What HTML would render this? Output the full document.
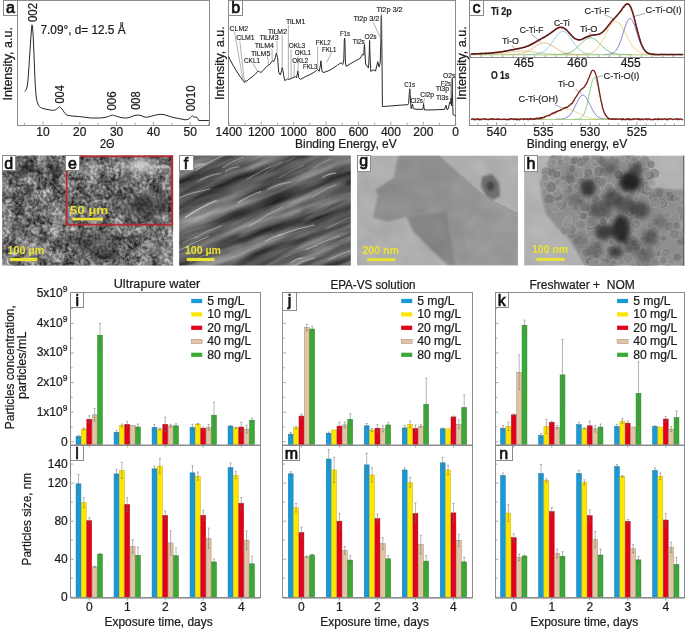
<!DOCTYPE html>
<html><head><meta charset="utf-8"><title>Figure</title>
<style>
html,body{margin:0;padding:0;background:#fff;}
svg{display:block;}
text{font-family:"Liberation Sans", Arial, sans-serif;paint-order:stroke;}
</style></head><body>
<svg width="685" height="630" viewBox="0 0 685 630">
<rect width="685" height="630" fill="#fff"/>
<defs>
<filter id="nz1" x="0" y="0" width="100%" height="100%" color-interpolation-filters="sRGB">
 <feTurbulence type="fractalNoise" baseFrequency="0.32" numOctaves="3" seed="3" result="t"/>
 <feColorMatrix in="t" type="matrix" values="1 0 0 0 0  1 0 0 0 0  1 0 0 0 0  0 0 0 0 1"/>
 <feComponentTransfer><feFuncR type="linear" slope="1.8" intercept="-0.45"/><feFuncG type="linear" slope="1.8" intercept="-0.45"/><feFuncB type="linear" slope="1.8" intercept="-0.45"/></feComponentTransfer>
</filter>
<filter id="nz2" x="0" y="0" width="100%" height="100%" color-interpolation-filters="sRGB">
 <feTurbulence type="fractalNoise" baseFrequency="0.012 0.09" numOctaves="3" seed="11" result="t"/>
 <feColorMatrix in="t" type="matrix" values="1 0 0 0 0  1 0 0 0 0  1 0 0 0 0  0 0 0 0 1"/>
 <feComponentTransfer><feFuncR type="linear" slope="1.2" intercept="-0.24"/><feFuncG type="linear" slope="1.2" intercept="-0.24"/><feFuncB type="linear" slope="1.2" intercept="-0.24"/></feComponentTransfer>
</filter>
<filter id="nz3" x="0" y="0" width="100%" height="100%" color-interpolation-filters="sRGB">
 <feTurbulence type="fractalNoise" baseFrequency="0.05" numOctaves="2" seed="5" result="t"/>
 <feColorMatrix in="t" type="matrix" values="1 0 0 0 0  1 0 0 0 0  1 0 0 0 0  0 0 0 0 1"/>
 <feComponentTransfer><feFuncR type="linear" slope="0.5" intercept="0.45"/><feFuncG type="linear" slope="0.5" intercept="0.45"/><feFuncB type="linear" slope="0.5" intercept="0.45"/></feComponentTransfer>
</filter>
<filter id="nz4" x="0" y="0" width="100%" height="100%" color-interpolation-filters="sRGB">
 <feTurbulence type="turbulence" baseFrequency="0.16" numOctaves="2" seed="8" result="t"/>
 <feColorMatrix in="t" type="matrix" values="-1.6 0 0 0 1.05  -1.6 0 0 0 1.05  -1.6 0 0 0 1.05  0 0 0 0 1"/>
</filter>
<filter id="nz5" x="0" y="0" width="100%" height="100%" color-interpolation-filters="sRGB">
 <feTurbulence type="fractalNoise" baseFrequency="0.08" numOctaves="3" seed="17" result="t"/>
 <feColorMatrix in="t" type="matrix" values="1 0 0 0 0  1 0 0 0 0  1 0 0 0 0  0 0 0 0 1"/>
 <feComponentTransfer><feFuncR type="linear" slope="2.4" intercept="-0.78"/><feFuncG type="linear" slope="2.4" intercept="-0.78"/><feFuncB type="linear" slope="2.4" intercept="-0.78"/></feComponentTransfer>
</filter>
<filter id="bl1"><feGaussianBlur stdDeviation="1.2"/></filter>
<filter id="bl2"><feGaussianBlur stdDeviation="2.5"/></filter>
<filter id="bl3"><feGaussianBlur stdDeviation="4"/></filter>
<filter id="bl05"><feGaussianBlur stdDeviation="0.6"/></filter>
<clipPath id="cpd"><rect x="2.2" y="155.5" width="170.9" height="110.1"/></clipPath>
<clipPath id="cpf"><rect x="179.2" y="155.5" width="171.6" height="110.1"/></clipPath>
<clipPath id="cpg"><rect x="357.0" y="155.5" width="161.0" height="110.1"/></clipPath>
<clipPath id="cph"><rect x="524.1" y="155.5" width="160.0" height="110.1"/></clipPath>
</defs>
<rect x="17.50" y="0.50" width="192.00" height="125.00" fill="none" stroke="#8c8c8c" stroke-width="1"/>
<line x1="24.60" y1="124.70" x2="24.60" y2="122.70" stroke="#8c8c8c" stroke-width="0.8"/>
<line x1="43.00" y1="124.70" x2="43.00" y2="121.70" stroke="#8c8c8c" stroke-width="0.8"/>
<line x1="61.40" y1="124.70" x2="61.40" y2="122.70" stroke="#8c8c8c" stroke-width="0.8"/>
<line x1="79.80" y1="124.70" x2="79.80" y2="121.70" stroke="#8c8c8c" stroke-width="0.8"/>
<line x1="98.20" y1="124.70" x2="98.20" y2="122.70" stroke="#8c8c8c" stroke-width="0.8"/>
<line x1="116.60" y1="124.70" x2="116.60" y2="121.70" stroke="#8c8c8c" stroke-width="0.8"/>
<line x1="135.00" y1="124.70" x2="135.00" y2="122.70" stroke="#8c8c8c" stroke-width="0.8"/>
<line x1="153.40" y1="124.70" x2="153.40" y2="121.70" stroke="#8c8c8c" stroke-width="0.8"/>
<line x1="171.80" y1="124.70" x2="171.80" y2="122.70" stroke="#8c8c8c" stroke-width="0.8"/>
<line x1="190.20" y1="124.70" x2="190.20" y2="121.70" stroke="#8c8c8c" stroke-width="0.8"/>
<line x1="208.60" y1="124.70" x2="208.60" y2="122.70" stroke="#8c8c8c" stroke-width="0.8"/>
<text x="43.00" y="136.00" font-size="12" fill="#1a1a1a" text-anchor="middle" stroke="#1a1a1a" stroke-width="0.22">10</text>
<text x="79.80" y="136.00" font-size="12" fill="#1a1a1a" text-anchor="middle" stroke="#1a1a1a" stroke-width="0.22">20</text>
<text x="116.60" y="136.00" font-size="12" fill="#1a1a1a" text-anchor="middle" stroke="#1a1a1a" stroke-width="0.22">30</text>
<text x="153.40" y="136.00" font-size="12" fill="#1a1a1a" text-anchor="middle" stroke="#1a1a1a" stroke-width="0.22">40</text>
<text x="190.20" y="136.00" font-size="12" fill="#1a1a1a" text-anchor="middle" stroke="#1a1a1a" stroke-width="0.22">50</text>
<text x="107.20" y="148.30" font-size="12" fill="#1a1a1a" textLength="14.5" lengthAdjust="spacingAndGlyphs" text-anchor="middle" stroke="#1a1a1a" stroke-width="0.22">2Θ</text>
<text x="11.60" y="63.80" font-size="12" fill="#1a1a1a" textLength="73.4" lengthAdjust="spacingAndGlyphs" text-anchor="middle" transform="rotate(-90 11.60 63.80)" stroke="#1a1a1a" stroke-width="0.22">Intensity, a.u.</text>
<polyline points="24.50,91.40 25.50,90.60 26.50,89.00 27.40,85.00 28.00,80.00 29.00,66.00 30.00,50.00 31.00,36.00 31.60,28.00 32.00,24.80 32.50,27.00 33.20,36.00 34.00,55.00 34.60,70.00 35.20,84.00 36.00,95.00 37.00,101.50 38.50,105.50 40.50,107.50 44.00,108.80 48.00,109.60 52.50,110.40 55.50,109.80 57.50,108.40 59.50,106.80 61.00,107.80 63.00,110.50 65.00,113.50 67.00,115.20 72.00,116.00 79.70,116.60 86.00,117.40 91.00,118.00 100.00,118.00 105.00,117.40 108.50,116.50 111.00,115.40 112.50,115.00 114.50,115.60 117.00,116.40 121.00,117.60 125.80,118.10 129.00,117.60 132.00,116.40 135.00,115.40 138.00,115.00 141.00,115.60 144.00,116.90 146.50,117.30 150.00,116.60 155.00,115.20 160.00,114.30 164.00,114.60 168.00,115.90 173.00,117.40 180.00,118.80 185.30,119.80 188.50,119.20 190.30,117.60 191.50,116.40 192.40,115.90 193.50,116.80 195.00,117.10 197.00,117.40 197.80,118.40 198.50,120.40 202.00,120.60 209.00,120.40" fill="none" stroke="#2a2a2a" stroke-width="1.0" stroke-linejoin="round"/>
<rect x="3.50" y="0.50" width="14.00" height="15.00" fill="#fff" stroke="#8a8a8a" stroke-width="1"/>
<text x="10.40" y="12.60" font-size="16" fill="#111" text-anchor="middle" stroke="#111" stroke-width="0.7">a</text>
<text x="36.60" y="12.50" font-size="12" fill="#1a1a1a" textLength="19.0" lengthAdjust="spacingAndGlyphs" text-anchor="middle" transform="rotate(-90 36.60 12.50)" stroke="#1a1a1a" stroke-width="0.22">002</text>
<text x="63.70" y="94.30" font-size="12" fill="#1a1a1a" textLength="18.6" lengthAdjust="spacingAndGlyphs" text-anchor="middle" transform="rotate(-90 63.70 94.30)" stroke="#1a1a1a" stroke-width="0.22">004</text>
<text x="116.20" y="101.00" font-size="12" fill="#1a1a1a" textLength="19.2" lengthAdjust="spacingAndGlyphs" text-anchor="middle" transform="rotate(-90 116.20 101.00)" stroke="#1a1a1a" stroke-width="0.22">006</text>
<text x="140.50" y="100.60" font-size="12" fill="#1a1a1a" textLength="18.4" lengthAdjust="spacingAndGlyphs" text-anchor="middle" transform="rotate(-90 140.50 100.60)" stroke="#1a1a1a" stroke-width="0.22">008</text>
<text x="195.20" y="98.25" font-size="12" fill="#1a1a1a" textLength="25.9" lengthAdjust="spacingAndGlyphs" text-anchor="middle" transform="rotate(-90 195.20 98.25)" stroke="#1a1a1a" stroke-width="0.22">0010</text>
<text x="40.50" y="34.30" font-size="12" fill="#1a1a1a" textLength="85.0" lengthAdjust="spacingAndGlyphs" stroke="#1a1a1a" stroke-width="0.22">7.09°, d= 12.5 Å</text>
<rect x="228.50" y="0.50" width="227.00" height="125.00" fill="none" stroke="#8c8c8c" stroke-width="1"/>
<line x1="455.70" y1="124.70" x2="455.70" y2="121.70" stroke="#8c8c8c" stroke-width="0.8"/>
<line x1="439.50" y1="124.70" x2="439.50" y2="122.70" stroke="#8c8c8c" stroke-width="0.8"/>
<line x1="423.30" y1="124.70" x2="423.30" y2="121.70" stroke="#8c8c8c" stroke-width="0.8"/>
<line x1="407.10" y1="124.70" x2="407.10" y2="122.70" stroke="#8c8c8c" stroke-width="0.8"/>
<line x1="390.90" y1="124.70" x2="390.90" y2="121.70" stroke="#8c8c8c" stroke-width="0.8"/>
<line x1="374.70" y1="124.70" x2="374.70" y2="122.70" stroke="#8c8c8c" stroke-width="0.8"/>
<line x1="358.50" y1="124.70" x2="358.50" y2="121.70" stroke="#8c8c8c" stroke-width="0.8"/>
<line x1="342.30" y1="124.70" x2="342.30" y2="122.70" stroke="#8c8c8c" stroke-width="0.8"/>
<line x1="326.10" y1="124.70" x2="326.10" y2="121.70" stroke="#8c8c8c" stroke-width="0.8"/>
<line x1="309.90" y1="124.70" x2="309.90" y2="122.70" stroke="#8c8c8c" stroke-width="0.8"/>
<line x1="293.70" y1="124.70" x2="293.70" y2="121.70" stroke="#8c8c8c" stroke-width="0.8"/>
<line x1="277.50" y1="124.70" x2="277.50" y2="122.70" stroke="#8c8c8c" stroke-width="0.8"/>
<line x1="261.30" y1="124.70" x2="261.30" y2="121.70" stroke="#8c8c8c" stroke-width="0.8"/>
<line x1="245.10" y1="124.70" x2="245.10" y2="122.70" stroke="#8c8c8c" stroke-width="0.8"/>
<line x1="228.90" y1="124.70" x2="228.90" y2="121.70" stroke="#8c8c8c" stroke-width="0.8"/>
<text x="455.70" y="135.80" font-size="12" fill="#1a1a1a" text-anchor="middle" stroke="#1a1a1a" stroke-width="0.22">0</text>
<text x="423.30" y="135.80" font-size="12" fill="#1a1a1a" text-anchor="middle" stroke="#1a1a1a" stroke-width="0.22">200</text>
<text x="390.90" y="135.80" font-size="12" fill="#1a1a1a" text-anchor="middle" stroke="#1a1a1a" stroke-width="0.22">400</text>
<text x="358.50" y="135.80" font-size="12" fill="#1a1a1a" text-anchor="middle" stroke="#1a1a1a" stroke-width="0.22">600</text>
<text x="326.10" y="135.80" font-size="12" fill="#1a1a1a" text-anchor="middle" stroke="#1a1a1a" stroke-width="0.22">800</text>
<text x="293.70" y="135.80" font-size="12" fill="#1a1a1a" text-anchor="middle" stroke="#1a1a1a" stroke-width="0.22">1000</text>
<text x="261.30" y="135.80" font-size="12" fill="#1a1a1a" text-anchor="middle" stroke="#1a1a1a" stroke-width="0.22">1200</text>
<text x="228.90" y="135.80" font-size="12" fill="#1a1a1a" text-anchor="middle" stroke="#1a1a1a" stroke-width="0.22">1400</text>
<text x="295.00" y="147.60" font-size="12" fill="#1a1a1a" textLength="101.7" lengthAdjust="spacingAndGlyphs" stroke="#1a1a1a" stroke-width="0.22">Binding Energy, eV</text>
<text x="223.60" y="63.10" font-size="12" fill="#1a1a1a" textLength="73.6" lengthAdjust="spacingAndGlyphs" text-anchor="middle" transform="rotate(-90 223.60 63.10)" stroke="#1a1a1a" stroke-width="0.22">Intensity, a.u.</text>
<polyline points="228.60,56.50 230.00,59.60 233.00,65.20 237.00,71.90 240.50,77.20 243.30,80.80 244.60,82.60 245.60,80.60 246.60,81.20 249.00,79.20 252.00,77.00 255.50,74.00 258.20,71.00 259.50,71.60 260.80,72.60 263.00,70.60 266.40,66.70 270.30,63.90 272.20,61.20 272.60,60.40 273.70,61.70 275.30,57.80 276.40,53.00 277.60,57.80 278.70,72.20 280.30,75.00 281.60,70.50 282.20,67.60 283.00,71.00 283.70,75.60 284.80,80.60 286.50,79.60 287.60,78.90 289.20,79.40 291.00,78.60 294.20,77.20 295.30,76.70 296.40,77.80 297.30,74.00 297.80,71.00 298.40,75.00 298.70,77.80 300.30,79.40 303.00,78.00 306.40,76.10 310.00,74.60 313.10,72.80 316.40,70.60 317.60,69.40 319.20,71.30 320.30,66.00 320.90,60.80 321.50,66.00 322.00,71.50 324.00,72.50 330.00,70.00 335.00,67.00 337.50,65.10 341.00,62.80 342.80,64.50 343.80,60.00 344.30,40.00 344.60,38.00 344.90,40.00 345.40,62.00 346.30,66.30 350.00,64.00 355.00,61.00 359.70,58.70 361.60,56.00 362.60,54.00 363.80,55.20 364.20,47.00 364.50,44.40 364.90,52.00 365.60,64.00 367.00,66.00 368.50,68.00 369.20,55.00 369.60,40.50 370.00,55.00 370.80,71.30 372.00,70.60 373.70,69.80 375.50,71.00 376.50,67.00 377.80,61.60 379.00,66.90 380.20,62.80 380.90,40.00 381.20,16.00 381.50,15.40 381.80,40.00 382.20,80.00 382.40,106.60 390.00,106.00 400.00,105.20 407.90,104.70 408.60,103.50 409.50,90.00 409.80,88.90 410.20,95.00 411.10,108.60 412.00,106.00 412.50,104.00 413.20,108.50 416.00,109.30 423.00,109.30 423.30,106.00 423.60,103.40 424.00,108.00 424.70,110.00 435.00,109.80 444.60,109.30 445.40,107.00 446.00,105.30 446.60,108.00 447.30,110.00 448.50,108.00 449.50,103.00 449.90,102.00 450.50,103.50 451.00,98.00 451.50,106.00 452.00,90.00 452.30,78.40 452.60,100.00 453.00,114.50 455.70,115.80" fill="none" stroke="#2a2a2a" stroke-width="1.0" stroke-linejoin="round"/>
<rect x="228.50" y="0.50" width="14.00" height="15.00" fill="#fff" stroke="#8a8a8a" stroke-width="1"/>
<text x="235.65" y="12.60" font-size="16" fill="#111" text-anchor="middle" stroke="#111" stroke-width="0.7">b</text>
<text x="229.60" y="30.50" font-size="7.8" fill="#1a1a1a" textLength="18.4" lengthAdjust="spacingAndGlyphs" stroke="#1a1a1a" stroke-width="0.15">CLM2</text>
<text x="236.30" y="39.80" font-size="7.8" fill="#1a1a1a" textLength="18.4" lengthAdjust="spacingAndGlyphs" stroke="#1a1a1a" stroke-width="0.15">CLM1</text>
<text x="286.00" y="24.00" font-size="7.8" fill="#1a1a1a" textLength="19.3" lengthAdjust="spacingAndGlyphs" stroke="#1a1a1a" stroke-width="0.15">TiLM1</text>
<text x="268.00" y="33.90" font-size="7.8" fill="#1a1a1a" textLength="19.0" lengthAdjust="spacingAndGlyphs" stroke="#1a1a1a" stroke-width="0.15">TiLM2</text>
<text x="259.40" y="40.10" font-size="7.8" fill="#1a1a1a" textLength="19.2" lengthAdjust="spacingAndGlyphs" stroke="#1a1a1a" stroke-width="0.15">TiLM3</text>
<text x="254.70" y="48.30" font-size="7.8" fill="#1a1a1a" textLength="19.3" lengthAdjust="spacingAndGlyphs" stroke="#1a1a1a" stroke-width="0.15">TiLM4</text>
<text x="251.00" y="55.50" font-size="7.8" fill="#1a1a1a" textLength="19.4" lengthAdjust="spacingAndGlyphs" stroke="#1a1a1a" stroke-width="0.15">TiLM5</text>
<text x="244.00" y="63.00" font-size="7.8" fill="#1a1a1a" textLength="16.0" lengthAdjust="spacingAndGlyphs" stroke="#1a1a1a" stroke-width="0.15">CKL1</text>
<text x="288.70" y="48.30" font-size="7.8" fill="#1a1a1a" textLength="16.5" lengthAdjust="spacingAndGlyphs" stroke="#1a1a1a" stroke-width="0.15">OKL3</text>
<text x="294.80" y="55.10" font-size="7.8" fill="#1a1a1a" textLength="16.4" lengthAdjust="spacingAndGlyphs" stroke="#1a1a1a" stroke-width="0.15">OKL1</text>
<text x="292.20" y="62.80" font-size="7.8" fill="#1a1a1a" textLength="16.0" lengthAdjust="spacingAndGlyphs" stroke="#1a1a1a" stroke-width="0.15">OKL2</text>
<text x="303.00" y="69.00" font-size="7.8" fill="#1a1a1a" textLength="14.2" lengthAdjust="spacingAndGlyphs" stroke="#1a1a1a" stroke-width="0.15">FKL3</text>
<text x="315.80" y="45.00" font-size="7.8" fill="#1a1a1a" textLength="14.9" lengthAdjust="spacingAndGlyphs" stroke="#1a1a1a" stroke-width="0.15">FKL2</text>
<text x="322.00" y="52.00" font-size="7.8" fill="#1a1a1a" textLength="14.5" lengthAdjust="spacingAndGlyphs" stroke="#1a1a1a" stroke-width="0.15">FKL1</text>
<text x="340.00" y="36.40" font-size="7.8" fill="#1a1a1a" textLength="10.0" lengthAdjust="spacingAndGlyphs" stroke="#1a1a1a" stroke-width="0.15">F1s</text>
<text x="352.80" y="43.50" font-size="7.8" fill="#1a1a1a" textLength="12.0" lengthAdjust="spacingAndGlyphs" stroke="#1a1a1a" stroke-width="0.15">Ti2s</text>
<text x="364.50" y="38.50" font-size="7.8" fill="#1a1a1a" textLength="12.2" lengthAdjust="spacingAndGlyphs" stroke="#1a1a1a" stroke-width="0.15">O2s</text>
<text x="404.20" y="87.00" font-size="7.8" fill="#1a1a1a" textLength="10.8" lengthAdjust="spacingAndGlyphs" stroke="#1a1a1a" stroke-width="0.15">C1s</text>
<text x="410.50" y="102.70" font-size="7.8" fill="#1a1a1a" textLength="12.5" lengthAdjust="spacingAndGlyphs" stroke="#1a1a1a" stroke-width="0.15">Cl2s</text>
<text x="420.30" y="96.60" font-size="7.8" fill="#1a1a1a" textLength="13.8" lengthAdjust="spacingAndGlyphs" stroke="#1a1a1a" stroke-width="0.15">Cl2p</text>
<text x="435.70" y="91.00" font-size="7.8" fill="#1a1a1a" textLength="13.5" lengthAdjust="spacingAndGlyphs" stroke="#1a1a1a" stroke-width="0.15">Ti3p</text>
<text x="436.10" y="100.00" font-size="7.8" fill="#1a1a1a" textLength="12.5" lengthAdjust="spacingAndGlyphs" stroke="#1a1a1a" stroke-width="0.15">Ti3s</text>
<text x="440.70" y="85.60" font-size="7.8" fill="#1a1a1a" textLength="10.5" lengthAdjust="spacingAndGlyphs" stroke="#1a1a1a" stroke-width="0.15">F2s</text>
<text x="443.00" y="78.40" font-size="7.8" fill="#1a1a1a" textLength="12.4" lengthAdjust="spacingAndGlyphs" stroke="#1a1a1a" stroke-width="0.15">O2s</text>
<text x="376.50" y="12.20" font-size="7.8" fill="#1a1a1a" textLength="26.2" lengthAdjust="spacingAndGlyphs" stroke="#1a1a1a" stroke-width="0.15">Ti2p 3/2</text>
<text x="353.40" y="21.00" font-size="7.8" fill="#1a1a1a" textLength="25.9" lengthAdjust="spacingAndGlyphs" stroke="#1a1a1a" stroke-width="0.15">Ti2p 3/2</text>
<line x1="234.50" y1="31.50" x2="243.20" y2="81.50" stroke="#7a7a7a" stroke-width="0.6"/>
<line x1="239.80" y1="40.80" x2="244.40" y2="81.50" stroke="#7a7a7a" stroke-width="0.6"/>
<line x1="252.90" y1="63.80" x2="257.60" y2="71.20" stroke="#7a7a7a" stroke-width="0.6"/>
<line x1="288.40" y1="25.00" x2="288.40" y2="79.00" stroke="#7a7a7a" stroke-width="0.6"/>
<line x1="282.20" y1="34.80" x2="282.20" y2="67.80" stroke="#7a7a7a" stroke-width="0.6"/>
<line x1="277.00" y1="41.00" x2="277.00" y2="53.30" stroke="#7a7a7a" stroke-width="0.6"/>
<line x1="272.00" y1="49.20" x2="272.20" y2="60.60" stroke="#7a7a7a" stroke-width="0.6"/>
<line x1="267.40" y1="56.00" x2="268.60" y2="64.80" stroke="#7a7a7a" stroke-width="0.6"/>
<line x1="291.10" y1="49.20" x2="291.10" y2="78.40" stroke="#7a7a7a" stroke-width="0.6"/>
<line x1="294.20" y1="63.50" x2="294.20" y2="77.00" stroke="#7a7a7a" stroke-width="0.6"/>
<line x1="298.10" y1="55.80" x2="298.10" y2="71.00" stroke="#7a7a7a" stroke-width="0.6"/>
<line x1="317.60" y1="46.50" x2="317.60" y2="69.40" stroke="#7a7a7a" stroke-width="0.6"/>
<line x1="331.30" y1="52.60" x2="327.00" y2="62.00" stroke="#7a7a7a" stroke-width="0.6"/>
<line x1="381.40" y1="13.50" x2="381.40" y2="40.00" stroke="#7a7a7a" stroke-width="0.6"/>
<line x1="373.20" y1="22.50" x2="380.50" y2="38.00" stroke="#7a7a7a" stroke-width="0.6"/>
<line x1="410.00" y1="87.80" x2="410.00" y2="95.00" stroke="#7a7a7a" stroke-width="0.6"/>
<line x1="424.50" y1="98.00" x2="423.60" y2="103.40" stroke="#7a7a7a" stroke-width="0.6"/>
<line x1="452.00" y1="79.00" x2="452.00" y2="95.00" stroke="#7a7a7a" stroke-width="0.6"/>
<line x1="450.80" y1="86.00" x2="450.80" y2="98.00" stroke="#7a7a7a" stroke-width="0.6"/>
<rect x="469.50" y="0.50" width="215.00" height="125.00" fill="none" stroke="#8c8c8c" stroke-width="1"/>
<line x1="469.90" y1="57.50" x2="684.60" y2="57.50" stroke="#8c8c8c" stroke-width="1"/>
<line x1="673.42" y1="57.00" x2="673.42" y2="55.20" stroke="#8c8c8c" stroke-width="0.8"/>
<line x1="662.74" y1="57.00" x2="662.74" y2="55.20" stroke="#8c8c8c" stroke-width="0.8"/>
<line x1="652.06" y1="57.00" x2="652.06" y2="55.20" stroke="#8c8c8c" stroke-width="0.8"/>
<line x1="641.38" y1="57.00" x2="641.38" y2="55.20" stroke="#8c8c8c" stroke-width="0.8"/>
<line x1="630.70" y1="57.00" x2="630.70" y2="54.00" stroke="#8c8c8c" stroke-width="0.8"/>
<line x1="620.02" y1="57.00" x2="620.02" y2="55.20" stroke="#8c8c8c" stroke-width="0.8"/>
<line x1="609.34" y1="57.00" x2="609.34" y2="55.20" stroke="#8c8c8c" stroke-width="0.8"/>
<line x1="598.66" y1="57.00" x2="598.66" y2="55.20" stroke="#8c8c8c" stroke-width="0.8"/>
<line x1="587.98" y1="57.00" x2="587.98" y2="55.20" stroke="#8c8c8c" stroke-width="0.8"/>
<line x1="577.30" y1="57.00" x2="577.30" y2="54.00" stroke="#8c8c8c" stroke-width="0.8"/>
<line x1="566.62" y1="57.00" x2="566.62" y2="55.20" stroke="#8c8c8c" stroke-width="0.8"/>
<line x1="555.94" y1="57.00" x2="555.94" y2="55.20" stroke="#8c8c8c" stroke-width="0.8"/>
<line x1="545.26" y1="57.00" x2="545.26" y2="55.20" stroke="#8c8c8c" stroke-width="0.8"/>
<line x1="534.58" y1="57.00" x2="534.58" y2="55.20" stroke="#8c8c8c" stroke-width="0.8"/>
<line x1="523.90" y1="57.00" x2="523.90" y2="54.00" stroke="#8c8c8c" stroke-width="0.8"/>
<line x1="513.22" y1="57.00" x2="513.22" y2="55.20" stroke="#8c8c8c" stroke-width="0.8"/>
<line x1="502.54" y1="57.00" x2="502.54" y2="55.20" stroke="#8c8c8c" stroke-width="0.8"/>
<line x1="491.86" y1="57.00" x2="491.86" y2="55.20" stroke="#8c8c8c" stroke-width="0.8"/>
<line x1="481.18" y1="57.00" x2="481.18" y2="55.20" stroke="#8c8c8c" stroke-width="0.8"/>
<line x1="470.50" y1="57.00" x2="470.50" y2="54.00" stroke="#8c8c8c" stroke-width="0.8"/>
<text x="523.90" y="67.40" font-size="12" fill="#1a1a1a" text-anchor="middle" stroke="#1a1a1a" stroke-width="0.22">465</text>
<text x="577.30" y="67.40" font-size="12" fill="#1a1a1a" text-anchor="middle" stroke="#1a1a1a" stroke-width="0.22">460</text>
<text x="630.70" y="67.40" font-size="12" fill="#1a1a1a" text-anchor="middle" stroke="#1a1a1a" stroke-width="0.22">455</text>
<line x1="674.25" y1="125.00" x2="674.25" y2="123.20" stroke="#8c8c8c" stroke-width="0.8"/>
<line x1="664.90" y1="125.00" x2="664.90" y2="123.20" stroke="#8c8c8c" stroke-width="0.8"/>
<line x1="655.55" y1="125.00" x2="655.55" y2="123.20" stroke="#8c8c8c" stroke-width="0.8"/>
<line x1="646.20" y1="125.00" x2="646.20" y2="123.20" stroke="#8c8c8c" stroke-width="0.8"/>
<line x1="636.85" y1="125.00" x2="636.85" y2="122.00" stroke="#8c8c8c" stroke-width="0.8"/>
<line x1="627.50" y1="125.00" x2="627.50" y2="123.20" stroke="#8c8c8c" stroke-width="0.8"/>
<line x1="618.15" y1="125.00" x2="618.15" y2="123.20" stroke="#8c8c8c" stroke-width="0.8"/>
<line x1="608.80" y1="125.00" x2="608.80" y2="123.20" stroke="#8c8c8c" stroke-width="0.8"/>
<line x1="599.45" y1="125.00" x2="599.45" y2="123.20" stroke="#8c8c8c" stroke-width="0.8"/>
<line x1="590.10" y1="125.00" x2="590.10" y2="122.00" stroke="#8c8c8c" stroke-width="0.8"/>
<line x1="580.75" y1="125.00" x2="580.75" y2="123.20" stroke="#8c8c8c" stroke-width="0.8"/>
<line x1="571.40" y1="125.00" x2="571.40" y2="123.20" stroke="#8c8c8c" stroke-width="0.8"/>
<line x1="562.05" y1="125.00" x2="562.05" y2="123.20" stroke="#8c8c8c" stroke-width="0.8"/>
<line x1="552.70" y1="125.00" x2="552.70" y2="123.20" stroke="#8c8c8c" stroke-width="0.8"/>
<line x1="543.35" y1="125.00" x2="543.35" y2="122.00" stroke="#8c8c8c" stroke-width="0.8"/>
<line x1="534.00" y1="125.00" x2="534.00" y2="123.20" stroke="#8c8c8c" stroke-width="0.8"/>
<line x1="524.65" y1="125.00" x2="524.65" y2="123.20" stroke="#8c8c8c" stroke-width="0.8"/>
<line x1="515.30" y1="125.00" x2="515.30" y2="123.20" stroke="#8c8c8c" stroke-width="0.8"/>
<line x1="505.95" y1="125.00" x2="505.95" y2="123.20" stroke="#8c8c8c" stroke-width="0.8"/>
<line x1="496.60" y1="125.00" x2="496.60" y2="122.00" stroke="#8c8c8c" stroke-width="0.8"/>
<line x1="487.25" y1="125.00" x2="487.25" y2="123.20" stroke="#8c8c8c" stroke-width="0.8"/>
<line x1="477.90" y1="125.00" x2="477.90" y2="123.20" stroke="#8c8c8c" stroke-width="0.8"/>
<text x="496.60" y="135.80" font-size="12" fill="#1a1a1a" text-anchor="middle" stroke="#1a1a1a" stroke-width="0.22">540</text>
<text x="543.35" y="135.80" font-size="12" fill="#1a1a1a" text-anchor="middle" stroke="#1a1a1a" stroke-width="0.22">535</text>
<text x="590.10" y="135.80" font-size="12" fill="#1a1a1a" text-anchor="middle" stroke="#1a1a1a" stroke-width="0.22">530</text>
<text x="636.85" y="135.80" font-size="12" fill="#1a1a1a" text-anchor="middle" stroke="#1a1a1a" stroke-width="0.22">525</text>
<text x="526.80" y="147.80" font-size="12" fill="#1a1a1a" textLength="100.4" lengthAdjust="spacingAndGlyphs" stroke="#1a1a1a" stroke-width="0.22">Binding energy, eV</text>
<text x="466.00" y="63.10" font-size="12" fill="#1a1a1a" textLength="73.6" lengthAdjust="spacingAndGlyphs" text-anchor="middle" transform="rotate(-90 466.00 63.10)" stroke="#1a1a1a" stroke-width="0.22">Intensity, a.u.</text>
<polyline points="470.90,54.50 471.40,54.49 471.90,54.49 472.40,54.49 472.90,54.49 473.40,54.49 473.90,54.49 474.40,54.49 474.90,54.49 475.40,54.49 475.90,54.48 476.40,54.48 476.90,54.48 477.40,54.48 477.90,54.48 478.40,54.47 478.90,54.47 479.40,54.47 479.90,54.46 480.40,54.46 480.90,54.45 481.40,54.45 481.90,54.44 482.40,54.44 482.90,54.43 483.40,54.42 483.90,54.41 484.40,54.40 484.90,54.40 485.40,54.39 485.90,54.37 486.40,54.36 486.90,54.35 487.40,54.33 487.90,54.32 488.40,54.30 488.90,54.29 489.40,54.27 489.90,54.25 490.40,54.23 490.90,54.20 491.40,54.18 491.90,54.15 492.40,54.13 492.90,54.10 493.40,54.07 493.90,54.03 494.40,54.00 494.90,53.96 495.40,53.92 495.90,53.88 496.40,53.84 496.90,53.80 497.40,53.75 497.90,53.70 498.40,53.65 498.90,53.60 499.40,53.55 499.90,53.49 500.40,53.44 500.90,53.38 501.40,53.31 501.90,53.25 502.40,53.19 502.90,53.12 503.40,53.05 503.90,52.98 504.40,52.91 504.90,52.84 505.40,52.77 505.90,52.69 506.40,52.62 506.90,52.54 507.40,52.47 507.90,52.39 508.40,52.32 508.90,52.24 509.40,52.17 509.90,52.09 510.40,52.02 510.90,51.94 511.40,51.87 511.90,51.80 512.40,51.73 512.90,51.67 513.40,51.60 513.90,51.54 514.40,51.48 514.90,51.42 515.40,51.37 515.90,51.32 516.40,51.27 516.90,51.22 517.40,51.18 517.90,51.15 518.40,51.11 518.90,51.08 519.40,51.06 519.90,51.04 520.40,51.02 520.90,51.01 521.40,51.00 521.90,51.00 522.40,51.00 522.90,51.01 523.40,51.02 523.90,51.03 524.40,51.05 524.90,51.07 525.40,51.10 525.90,51.13 526.40,51.17 526.90,51.21 527.40,51.25 527.90,51.30 528.40,51.35 528.90,51.40 529.40,51.46 529.90,51.52 530.40,51.58 530.90,51.64 531.40,51.71 531.90,51.77 532.40,51.84 532.90,51.92 533.40,51.99 533.90,52.06 534.40,52.14 534.90,52.21 535.40,52.29 535.90,52.36 536.40,52.44 536.90,52.51 537.40,52.59 537.90,52.66 538.40,52.74 538.90,52.81 539.40,52.88 539.90,52.95 540.40,53.02 540.90,53.09 541.40,53.16 541.90,53.23 542.40,53.29 542.90,53.35 543.40,53.41 543.90,53.47 544.40,53.53 544.90,53.58 545.40,53.63 545.90,53.68 546.40,53.73 546.90,53.78 547.40,53.83 547.90,53.87 548.40,53.91 548.90,53.95 549.40,53.98 549.90,54.02 550.40,54.05 550.90,54.08 551.40,54.11 551.90,54.14 552.40,54.17 552.90,54.19 553.40,54.22 553.90,54.24 554.40,54.26 554.90,54.28 555.40,54.30 555.90,54.31 556.40,54.33 556.90,54.34 557.40,54.36 557.90,54.37 558.40,54.38 558.90,54.39 559.40,54.40 559.90,54.41 560.40,54.42 560.90,54.43 561.40,54.43 561.90,54.44 562.40,54.45 562.90,54.45 563.40,54.46 563.90,54.46 564.40,54.46 564.90,54.47 565.40,54.47 565.90,54.47 566.40,54.48 566.90,54.48 567.40,54.48 567.90,54.48 568.40,54.49 568.90,54.49 569.40,54.49 569.90,54.49 570.40,54.49 570.90,54.49 571.40,54.49 571.90,54.49 572.40,54.49 572.90,54.50 573.40,54.50 573.90,54.50 574.40,54.50 574.90,54.50 575.40,54.50 575.90,54.50 576.40,54.50 576.90,54.50 577.40,54.50 577.90,54.50" fill="none" stroke="#c8c060" stroke-width="0.8" stroke-linejoin="round"/>
<polyline points="502.40,54.50 502.90,54.50 503.40,54.49 503.90,54.49 504.40,54.49 504.90,54.49 505.40,54.49 505.90,54.49 506.40,54.48 506.90,54.48 507.40,54.48 507.90,54.47 508.40,54.47 508.90,54.46 509.40,54.45 509.90,54.45 510.40,54.44 510.90,54.43 511.40,54.41 511.90,54.40 512.40,54.39 512.90,54.37 513.40,54.35 513.90,54.32 514.40,54.30 514.90,54.27 515.40,54.24 515.90,54.20 516.40,54.16 516.90,54.11 517.40,54.06 517.90,54.01 518.40,53.95 518.90,53.88 519.40,53.80 519.90,53.72 520.40,53.63 520.90,53.53 521.40,53.42 521.90,53.31 522.40,53.18 522.90,53.05 523.40,52.90 523.90,52.74 524.40,52.57 524.90,52.40 525.40,52.20 525.90,52.00 526.40,51.79 526.90,51.56 527.40,51.32 527.90,51.07 528.40,50.81 528.90,50.54 529.40,50.26 529.90,49.97 530.40,49.67 530.90,49.36 531.40,49.05 531.90,48.72 532.40,48.40 532.90,48.07 533.40,47.73 533.90,47.40 534.40,47.06 534.90,46.73 535.40,46.40 535.90,46.08 536.40,45.76 536.90,45.45 537.40,45.15 537.90,44.87 538.40,44.59 538.90,44.34 539.40,44.10 539.90,43.88 540.40,43.67 540.90,43.49 541.40,43.33 541.90,43.20 542.40,43.09 542.90,43.00 543.40,42.94 543.90,42.91 544.40,42.90 544.90,42.92 545.40,42.96 545.90,43.03 546.40,43.13 546.90,43.25 547.40,43.39 547.90,43.56 548.40,43.75 548.90,43.96 549.40,44.19 549.90,44.44 550.40,44.70 550.90,44.98 551.40,45.27 551.90,45.57 552.40,45.89 552.90,46.21 553.40,46.53 553.90,46.86 554.40,47.20 554.90,47.53 555.40,47.87 555.90,48.20 556.40,48.53 556.90,48.85 557.40,49.17 557.90,49.49 558.40,49.79 558.90,50.09 559.40,50.38 559.90,50.65 560.40,50.92 560.90,51.18 561.40,51.42 561.90,51.65 562.40,51.87 562.90,52.08 563.40,52.28 563.90,52.47 564.40,52.64 564.90,52.81 565.40,52.96 565.90,53.10 566.40,53.23 566.90,53.36 567.40,53.47 567.90,53.57 568.40,53.67 568.90,53.75 569.40,53.83 569.90,53.91 570.40,53.97 570.90,54.03 571.40,54.09 571.90,54.13 572.40,54.18 572.90,54.22 573.40,54.25 573.90,54.28 574.40,54.31 574.90,54.33 575.40,54.36 575.90,54.37 576.40,54.39 576.90,54.41 577.40,54.42 577.90,54.43 578.40,54.44 578.90,54.45 579.40,54.46 579.90,54.46 580.40,54.47 580.90,54.47 581.40,54.48 581.90,54.48 582.40,54.48 582.90,54.49 583.40,54.49 583.90,54.49 584.40,54.49 584.90,54.49 585.40,54.49 585.90,54.50" fill="none" stroke="#e0a060" stroke-width="0.8" stroke-linejoin="round"/>
<polyline points="525.40,54.49 525.90,54.49 526.40,54.49 526.90,54.48 527.40,54.48 527.90,54.48 528.40,54.47 528.90,54.47 529.40,54.46 529.90,54.45 530.40,54.44 530.90,54.43 531.40,54.41 531.90,54.40 532.40,54.38 532.90,54.35 533.40,54.33 533.90,54.30 534.40,54.26 534.90,54.22 535.40,54.17 535.90,54.12 536.40,54.05 536.90,53.98 537.40,53.90 537.90,53.81 538.40,53.71 538.90,53.59 539.40,53.46 539.90,53.32 540.40,53.16 540.90,52.98 541.40,52.78 541.90,52.56 542.40,52.32 542.90,52.05 543.40,51.77 543.90,51.45 544.40,51.11 544.90,50.75 545.40,50.35 545.90,49.93 546.40,49.48 546.90,49.00 547.40,48.49 547.90,47.95 548.40,47.39 548.90,46.79 549.40,46.17 549.90,45.53 550.40,44.86 550.90,44.18 551.40,43.48 551.90,42.76 552.40,42.03 552.90,41.29 553.40,40.55 553.90,39.81 554.40,39.07 554.90,38.34 555.40,37.63 555.90,36.93 556.40,36.26 556.90,35.61 557.40,35.00 557.90,34.42 558.40,33.89 558.90,33.40 559.40,32.96 559.90,32.57 560.40,32.24 560.90,31.97 561.40,31.75 561.90,31.61 562.40,31.52 562.90,31.50 563.40,31.55 563.90,31.66 564.40,31.83 564.90,32.07 565.40,32.36 565.90,32.72 566.40,33.13 566.90,33.59 567.40,34.10 567.90,34.65 568.40,35.24 568.90,35.87 569.40,36.52 569.90,37.21 570.40,37.91 570.90,38.63 571.40,39.37 571.90,40.10 572.40,40.85 572.90,41.59 573.40,42.32 573.90,43.05 574.40,43.76 574.90,44.46 575.40,45.13 575.90,45.79 576.40,46.42 576.90,47.03 577.40,47.62 577.90,48.17 578.40,48.70 578.90,49.19 579.40,49.66 579.90,50.10 580.40,50.51 580.90,50.90 581.40,51.25 581.90,51.58 582.40,51.88 582.90,52.16 583.40,52.42 583.90,52.65 584.40,52.86 584.90,53.05 585.40,53.22 585.90,53.38 586.40,53.52 586.90,53.64 587.40,53.75 587.90,53.85 588.40,53.94 588.90,54.01 589.40,54.08 589.90,54.14 590.40,54.19 590.90,54.24 591.40,54.28 591.90,54.31 592.40,54.34 592.90,54.36 593.40,54.39 593.90,54.40 594.40,54.42 594.90,54.43 595.40,54.44 595.90,54.45 596.40,54.46 596.90,54.47 597.40,54.47 597.90,54.48 598.40,54.48 598.90,54.49 599.40,54.49 599.90,54.49" fill="none" stroke="#7ab8dc" stroke-width="0.8" stroke-linejoin="round"/>
<polyline points="550.90,54.49 551.40,54.49 551.90,54.49 552.40,54.49 552.90,54.49 553.40,54.48 553.90,54.48 554.40,54.47 554.90,54.47 555.40,54.46 555.90,54.46 556.40,54.45 556.90,54.44 557.40,54.43 557.90,54.41 558.40,54.40 558.90,54.38 559.40,54.36 559.90,54.34 560.40,54.31 560.90,54.28 561.40,54.25 561.90,54.21 562.40,54.17 562.90,54.12 563.40,54.06 563.90,54.00 564.40,53.93 564.90,53.85 565.40,53.76 565.90,53.66 566.40,53.56 566.90,53.44 567.40,53.31 567.90,53.16 568.40,53.01 568.90,52.83 569.40,52.65 569.90,52.45 570.40,52.23 570.90,51.99 571.40,51.74 571.90,51.47 572.40,51.18 572.90,50.87 573.40,50.54 573.90,50.19 574.40,49.83 574.90,49.45 575.40,49.05 575.90,48.63 576.40,48.19 576.90,47.75 577.40,47.28 577.90,46.81 578.40,46.32 578.90,45.83 579.40,45.33 579.90,44.82 580.40,44.31 580.90,43.80 581.40,43.29 581.90,42.79 582.40,42.30 582.90,41.82 583.40,41.35 583.90,40.90 584.40,40.47 584.90,40.06 585.40,39.67 585.90,39.32 586.40,38.99 586.90,38.70 587.40,38.44 587.90,38.22 588.40,38.03 588.90,37.89 589.40,37.78 589.90,37.72 590.40,37.70 590.90,37.72 591.40,37.78 591.90,37.89 592.40,38.03 592.90,38.22 593.40,38.44 593.90,38.70 594.40,38.99 594.90,39.32 595.40,39.67 595.90,40.06 596.40,40.47 596.90,40.90 597.40,41.35 597.90,41.82 598.40,42.30 598.90,42.79 599.40,43.29 599.90,43.80 600.40,44.31 600.90,44.82 601.40,45.33 601.90,45.83 602.40,46.32 602.90,46.81 603.40,47.28 603.90,47.75 604.40,48.19 604.90,48.63 605.40,49.05 605.90,49.45 606.40,49.83 606.90,50.19 607.40,50.54 607.90,50.87 608.40,51.18 608.90,51.47 609.40,51.74 609.90,51.99 610.40,52.23 610.90,52.45 611.40,52.65 611.90,52.83 612.40,53.01 612.90,53.16 613.40,53.31 613.90,53.44 614.40,53.56 614.90,53.66 615.40,53.76 615.90,53.85 616.40,53.93 616.90,54.00 617.40,54.06 617.90,54.12 618.40,54.17 618.90,54.21 619.40,54.25 619.90,54.28 620.40,54.31 620.90,54.34 621.40,54.36 621.90,54.38 622.40,54.40 622.90,54.41 623.40,54.43 623.90,54.44 624.40,54.45 624.90,54.46 625.40,54.46 625.90,54.47 626.40,54.47 626.90,54.48 627.40,54.48 627.90,54.49 628.40,54.49 628.90,54.49 629.40,54.49 629.90,54.49" fill="none" stroke="#58a858" stroke-width="0.8" stroke-linejoin="round"/>
<polyline points="575.40,54.49 575.90,54.48 576.40,54.48 576.90,54.48 577.40,54.47 577.90,54.47 578.40,54.46 578.90,54.45 579.40,54.44 579.90,54.43 580.40,54.42 580.90,54.41 581.40,54.39 581.90,54.37 582.40,54.35 582.90,54.32 583.40,54.29 583.90,54.25 584.40,54.21 584.90,54.16 585.40,54.11 585.90,54.05 586.40,53.98 586.90,53.90 587.40,53.82 587.90,53.72 588.40,53.61 588.90,53.48 589.40,53.34 589.90,53.19 590.40,53.01 590.90,52.82 591.40,52.61 591.90,52.38 592.40,52.12 592.90,51.85 593.40,51.54 593.90,51.21 594.40,50.85 594.90,50.46 595.40,50.03 595.90,49.58 596.40,49.09 596.90,48.57 597.40,48.02 597.90,47.42 598.40,46.80 598.90,46.14 599.40,45.44 599.90,44.71 600.40,43.94 600.90,43.15 601.40,42.32 601.90,41.46 602.40,40.58 602.90,39.67 603.40,38.74 603.90,37.79 604.40,36.83 604.90,35.86 605.40,34.88 605.90,33.90 606.40,32.92 606.90,31.95 607.40,30.99 607.90,30.05 608.40,29.14 608.90,28.25 609.40,27.40 609.90,26.58 610.40,25.82 610.90,25.10 611.40,24.43 611.90,23.83 612.40,23.28 612.90,22.81 613.40,22.40 613.90,22.07 614.40,21.81 614.90,21.63 615.40,21.53 615.90,21.50 616.40,21.56 616.90,21.69 617.40,21.90 617.90,22.19 618.40,22.55 618.90,22.99 619.40,23.49 619.90,24.06 620.40,24.69 620.90,25.38 621.40,26.12 621.90,26.90 622.40,27.73 622.90,28.60 623.40,29.50 623.90,30.42 624.40,31.37 624.90,32.33 625.40,33.31 625.90,34.29 626.40,35.27 626.90,36.25 627.40,37.22 627.90,38.17 628.40,39.11 628.90,40.03 629.40,40.93 629.90,41.81 630.40,42.65 630.90,43.47 631.40,44.25 631.90,45.00 632.40,45.72 632.90,46.41 633.40,47.05 633.90,47.66 634.40,48.24 634.90,48.78 635.40,49.29 635.90,49.77 636.40,50.21 636.90,50.62 637.40,50.99 637.90,51.34 638.40,51.67 638.90,51.96 639.40,52.23 639.90,52.48 640.40,52.70 640.90,52.90 641.40,53.09 641.90,53.25 642.40,53.40 642.90,53.53 643.40,53.65 643.90,53.76 644.40,53.85 644.90,53.94 645.40,54.01 645.90,54.08 646.40,54.13 646.90,54.18 647.40,54.23 647.90,54.27 648.40,54.30 648.90,54.33 649.40,54.35 649.90,54.38 650.40,54.40 650.90,54.41 651.40,54.43 651.90,54.44 652.40,54.45 652.90,54.46 653.40,54.46 653.90,54.47 654.40,54.47 654.90,54.48 655.40,54.48 655.90,54.49 656.40,54.49" fill="none" stroke="#e8c850" stroke-width="0.8" stroke-linejoin="round"/>
<polyline points="603.40,54.48 603.90,54.48 604.40,54.47 604.90,54.46 605.40,54.45 605.90,54.44 606.40,54.42 606.90,54.39 607.40,54.36 607.90,54.33 608.40,54.28 608.90,54.22 609.40,54.15 609.90,54.06 610.40,53.96 610.90,53.83 611.40,53.68 611.90,53.50 612.40,53.28 612.90,53.03 613.40,52.74 613.90,52.39 614.40,52.00 614.90,51.54 615.40,51.02 615.90,50.43 616.40,49.77 616.90,49.03 617.40,48.21 617.90,47.30 618.40,46.31 618.90,45.23 619.40,44.06 619.90,42.81 620.40,41.48 620.90,40.08 621.40,38.62 621.90,37.10 622.40,35.54 622.90,33.95 623.40,32.34 623.90,30.74 624.40,29.16 624.90,27.63 625.40,26.15 625.90,24.75 626.40,23.45 626.90,22.27 627.40,21.23 627.90,20.34 628.40,19.61 628.90,19.06 629.40,18.69 629.90,18.52 630.40,18.54 630.90,18.75 631.40,19.15 631.90,19.74 632.40,20.50 632.90,21.43 633.40,22.50 633.90,23.70 634.40,25.02 634.90,26.44 635.40,27.93 635.90,29.48 636.40,31.06 636.90,32.66 637.40,34.27 637.90,35.85 638.40,37.41 638.90,38.92 639.40,40.37 639.90,41.76 640.40,43.07 640.90,44.30 641.40,45.45 641.90,46.51 642.40,47.49 642.90,48.38 643.40,49.18 643.90,49.91 644.40,50.56 644.90,51.13 645.40,51.64 645.90,52.08 646.40,52.46 646.90,52.80 647.40,53.08 647.90,53.33 648.40,53.54 648.90,53.71 649.40,53.86 649.90,53.98 650.40,54.08 650.90,54.17 651.40,54.23 651.90,54.29 652.40,54.33 652.90,54.37 653.40,54.40 653.90,54.42 654.40,54.44 654.90,54.45 655.40,54.46 655.90,54.47 656.40,54.48 656.90,54.48" fill="none" stroke="#5a5ab8" stroke-width="0.8" stroke-linejoin="round"/>
<line x1="470.90" y1="54.80" x2="683.60" y2="54.80" stroke="#9cc870" stroke-width="0.8"/>
<polyline points="470.90,54.03 471.40,54.01 471.90,53.99 472.40,53.97 472.90,53.95 473.40,53.93 473.90,53.91 474.40,53.89 474.90,53.87 475.40,53.85 475.90,53.83 476.40,53.81 476.90,53.79 477.40,53.77 477.90,53.75 478.40,53.73 478.90,53.71 479.40,53.69 479.90,53.67 480.40,53.65 480.90,53.62 481.40,53.60 481.90,53.58 482.40,53.55 482.90,53.53 483.40,53.50 483.90,53.48 484.40,53.45 484.90,53.42 485.40,53.40 485.90,53.37 486.40,53.34 486.90,53.31 487.40,53.28 487.90,53.24 488.40,53.21 488.90,53.17 489.40,53.14 489.90,53.10 490.40,53.06 490.90,53.02 491.40,52.98 491.90,52.94 492.40,52.89 492.90,52.85 493.40,52.80 493.90,52.75 494.40,52.70 494.90,52.64 495.40,52.59 495.90,52.53 496.40,52.47 496.90,52.41 497.40,52.35 497.90,52.29 498.40,52.22 498.90,52.15 499.40,52.08 499.90,52.01 500.40,51.93 500.90,51.86 501.40,51.78 501.90,51.70 502.40,51.62 502.90,51.53 503.40,51.45 503.90,51.36 504.40,51.28 504.90,51.19 505.40,51.10 505.90,51.01 506.40,50.91 506.90,50.82 507.40,50.73 507.90,50.63 508.40,50.53 508.90,50.44 509.40,50.34 509.90,50.24 510.40,50.15 510.90,50.05 511.40,49.95 511.90,49.85 512.40,49.76 512.90,49.66 513.40,49.56 513.90,49.46 514.40,49.36 514.90,49.26 515.40,49.16 515.90,49.06 516.40,48.96 516.90,48.86 517.40,48.76 517.90,48.65 518.40,48.56 518.90,48.47 519.40,48.37 519.90,48.27 520.40,48.17 520.90,48.07 521.40,47.96 521.90,47.84 522.40,47.72 522.90,47.60 523.40,47.47 523.90,47.33 524.40,47.19 524.90,47.04 525.40,46.88 525.90,46.71 526.40,46.54 526.90,46.36 527.40,46.16 527.90,45.97 528.40,45.76 528.90,45.54 529.40,45.32 529.90,45.08 530.40,44.84 530.90,44.59 531.40,44.34 531.90,44.08 532.40,43.81 532.90,43.53 533.40,43.26 533.90,42.97 534.40,42.69 534.90,42.40 535.40,42.11 535.90,41.81 536.40,41.52 536.90,41.23 537.40,40.93 537.90,40.64 538.40,40.35 538.90,40.06 539.40,39.77 539.90,39.49 540.40,39.21 540.90,38.93 541.40,38.65 541.90,38.37 542.40,38.10 542.90,37.82 543.40,37.55 543.90,37.27 544.40,36.99 544.90,36.71 545.40,36.43 545.90,36.14 546.40,35.84 546.90,35.54 547.40,35.24 547.90,34.92 548.40,34.60 548.90,34.27 549.40,33.93 549.90,33.58 550.40,33.23 550.90,32.86 551.40,32.49 551.90,32.12 552.40,31.74 552.90,31.36 553.40,30.98 553.90,30.60 554.40,30.23 554.90,29.87 555.40,29.51 555.90,29.18 556.40,28.85 556.90,28.55 557.40,28.28 557.90,28.03 558.40,27.81 558.90,27.63 559.40,27.48 559.90,27.37 560.40,27.30 560.90,27.28 561.40,27.30 561.90,27.37 562.40,27.48 562.90,27.64 563.40,27.85 563.90,28.10 564.40,28.40 564.90,28.74 565.40,29.12 565.90,29.54 566.40,29.99 566.90,30.47 567.40,30.98 567.90,31.50 568.40,32.05 568.90,32.61 569.40,33.17 569.90,33.74 570.40,34.31 570.90,34.87 571.40,35.42 571.90,35.95 572.40,36.45 572.90,36.94 573.40,37.39 573.90,37.82 574.40,38.20 574.90,38.55 575.40,38.86 575.90,39.13 576.40,39.36 576.90,39.54 577.40,39.68 577.90,39.78 578.40,39.84 578.90,39.85 579.40,39.83 579.90,39.77 580.40,39.68 580.90,39.55 581.40,39.40 581.90,39.22 582.40,39.02 582.90,38.80 583.40,38.57 583.90,38.33 584.40,38.08 584.90,37.82 585.40,37.57 585.90,37.32 586.40,37.07 586.90,36.84 587.40,36.61 587.90,36.40 588.40,36.20 588.90,36.01 589.40,35.85 589.90,35.69 590.40,35.56 590.90,35.44 591.40,35.34 591.90,35.26 592.40,35.18 592.90,35.12 593.40,35.07 593.90,35.02 594.40,34.97 594.90,34.93 595.40,34.88 595.90,34.83 596.40,34.76 596.90,34.69 597.40,34.59 597.90,34.48 598.40,34.35 598.90,34.19 599.40,34.00 599.90,33.78 600.40,33.53 600.90,33.25 601.40,32.93 601.90,32.58 602.40,32.20 602.90,31.78 603.40,31.32 603.90,30.84 604.40,30.32 604.90,29.78 605.40,29.21 605.90,28.62 606.40,28.01 606.90,27.38 607.40,26.75 607.90,26.10 608.40,25.45 608.90,24.80 609.40,24.15 609.90,23.51 610.40,22.87 610.90,22.25 611.40,21.64 611.90,21.04 612.40,20.46 612.90,19.89 613.40,19.34 613.90,18.79 614.40,18.26 614.90,17.73 615.40,17.21 615.90,16.69 616.40,16.16 616.90,15.63 617.40,15.08 617.90,14.52 618.40,13.95 618.90,13.35 619.40,12.73 619.90,12.08 620.40,11.41 620.90,10.73 621.40,10.03 621.90,9.32 622.40,8.60 622.90,7.90 623.40,7.21 623.90,6.54 624.40,5.92 624.90,5.36 625.40,4.86 625.90,4.45 626.40,4.14 626.90,3.95 627.40,3.88 627.90,3.94 628.40,4.16 628.90,4.53 629.40,5.07 629.90,5.77 630.40,6.64 630.90,7.67 631.40,8.86 631.90,10.20 632.40,11.68 632.90,13.29 633.40,15.01 633.90,16.83 634.40,18.73 634.90,20.69 635.40,22.69 635.90,24.71 636.40,26.74 636.90,28.75 637.40,30.73 637.90,32.67 638.40,34.55 638.90,36.35 639.40,38.07 639.90,39.71 640.40,41.24 640.90,42.68 641.40,44.01 641.90,45.24 642.40,46.36 642.90,47.39 643.40,48.31 643.90,49.15 644.40,49.89 644.90,50.55 645.40,51.13 645.90,51.64 646.40,52.08 646.90,52.46 647.40,52.80 647.90,53.08 648.40,53.32 648.90,53.53 649.40,53.70 649.90,53.84 650.40,53.96 650.90,54.06 651.40,54.15 651.90,54.21 652.40,54.27 652.90,54.31 653.40,54.35 653.90,54.38 654.40,54.40 654.90,54.42 655.40,54.44 655.90,54.45 656.40,54.46 656.90,54.46 657.40,54.47 657.90,54.48 658.40,54.48 658.90,54.48 659.40,54.48 659.90,54.49 660.40,54.49 660.90,54.49 661.40,54.49 661.90,54.49 662.40,54.49 662.90,54.49 663.40,54.49 663.90,54.49 664.40,54.49 664.90,54.49 665.40,54.49 665.90,54.49 666.40,54.49 666.90,54.49 667.40,54.49 667.90,54.49 668.40,54.49 668.90,54.49 669.40,54.49 669.90,54.50 670.40,54.50 670.90,54.50 671.40,54.50 671.90,54.50 672.40,54.50 672.90,54.50 673.40,54.50 673.90,54.50 674.40,54.50 674.90,54.50 675.40,54.50 675.90,54.50 676.40,54.50 676.90,54.50 677.40,54.50 677.90,54.50 678.40,54.50 678.90,54.50 679.40,54.50 679.90,54.50 680.40,54.50 680.90,54.50 681.40,54.50 681.90,54.50 682.40,54.50 682.90,54.50" fill="none" stroke="#7a1c1c" stroke-width="1.6" stroke-linejoin="round"/>
<path d="M470.9,53.8h0.6 M471.9,53.6h0.6 M472.9,54.1h0.6 M473.9,53.5h0.6 M474.9,53.9h0.6 M475.9,53.7h0.6 M476.9,53.4h0.6 M477.9,53.8h0.6 M478.9,53.2h0.6 M479.9,53.6h0.6 M480.9,53.2h0.6 M481.9,53.2h0.6 M482.9,53.5h0.6 M483.9,53.8h0.6 M484.9,53.0h0.6 M485.9,53.1h0.6 M486.9,53.4h0.6 M487.9,53.7h0.6 M488.9,53.3h0.6 M489.9,53.0h0.6 M490.9,53.5h0.6 M491.9,52.5h0.6 M492.9,53.2h0.6 M493.9,52.5h0.6 M494.9,52.3h0.6 M495.9,52.2h0.6 M496.9,52.2h0.6 M497.9,52.6h0.6 M498.9,51.8h0.6 M499.9,52.1h0.6 M500.9,52.0h0.6 M501.9,51.6h0.6 M502.9,51.6h0.6 M503.9,50.9h0.6 M504.9,50.7h0.6 M505.9,50.7h0.6 M506.9,51.0h0.6 M507.9,50.6h0.6 M508.9,50.3h0.6 M509.9,50.3h0.6 M510.9,50.0h0.6 M511.9,49.7h0.6 M512.9,50.0h0.6 M513.9,49.7h0.6 M514.9,49.0h0.6 M515.9,49.1h0.6 M516.9,48.9h0.6 M517.9,49.0h0.6 M518.9,48.7h0.6 M519.9,48.1h0.6 M520.9,48.5h0.6 M521.9,47.5h0.6 M522.9,47.5h0.6 M523.9,47.6h0.6 M524.9,46.7h0.6 M525.9,46.7h0.6 M526.9,45.9h0.6 M527.9,46.1h0.6 M528.9,45.8h0.6 M529.9,45.2h0.6 M530.9,45.0h0.6 M531.9,43.9h0.6 M532.9,43.7h0.6 M533.9,43.1h0.6 M534.9,42.5h0.6 M535.9,41.8h0.6 M536.9,41.6h0.6 M537.9,41.1h0.6 M538.9,40.0h0.6 M539.9,39.7h0.6 M540.9,38.5h0.6 M541.9,38.6h0.6 M542.9,38.0h0.6 M543.9,37.8h0.6 M544.9,37.0h0.6 M545.9,35.9h0.6 M546.9,35.4h0.6 M547.9,35.1h0.6 M548.9,33.8h0.6 M549.9,33.5h0.6 M550.9,32.5h0.6 M551.9,31.7h0.6 M552.9,30.9h0.6 M553.9,30.9h0.6 M554.9,29.5h0.6 M555.9,28.9h0.6 M556.9,28.4h0.6 M557.9,28.4h0.6 M558.9,27.2h0.6 M559.9,27.3h0.6 M560.9,27.3h0.6 M561.9,27.8h0.6 M562.9,28.0h0.6 M563.9,28.5h0.6 M564.9,28.5h0.6 M565.9,29.5h0.6 M566.9,30.3h0.6 M567.9,31.9h0.6 M568.9,33.1h0.6 M569.9,33.4h0.6 M570.9,34.5h0.6 M571.9,35.7h0.6 M572.9,36.7h0.6 M573.9,37.8h0.6 M574.9,38.6h0.6 M575.9,38.9h0.6 M576.9,39.0h0.6 M577.9,39.7h0.6 M578.9,39.7h0.6 M579.9,39.8h0.6 M580.9,40.0h0.6 M581.9,39.4h0.6 M582.9,38.8h0.6 M583.9,38.4h0.6 M584.9,38.0h0.6 M585.9,36.9h0.6 M586.9,37.2h0.6 M587.9,36.7h0.6 M588.9,36.4h0.6 M589.9,36.0h0.6 M590.9,35.3h0.6 M591.9,35.2h0.6 M592.9,34.7h0.6 M593.9,35.2h0.6 M594.9,34.5h0.6 M595.9,34.4h0.6 M596.9,34.4h0.6 M597.9,34.1h0.6 M598.9,34.0h0.6 M599.9,33.3h0.6 M600.9,32.8h0.6 M601.9,32.2h0.6 M602.9,31.4h0.6 M603.9,30.7h0.6 M604.9,29.3h0.6 M605.9,29.0h0.6 M606.9,27.5h0.6 M607.9,25.7h0.6 M608.9,24.6h0.6 M609.9,23.4h0.6 M610.9,22.1h0.6 M611.9,20.7h0.6 M612.9,20.2h0.6 M613.9,19.3h0.6 M614.9,17.7h0.6 M615.9,16.7h0.6 M616.9,15.2h0.6 M617.9,14.1h0.6 M618.9,13.2h0.6 M619.9,11.8h0.6 M620.9,11.1h0.6 M621.9,9.0h0.6 M622.9,7.4h0.6 M623.9,7.0h0.6 M624.9,5.4h0.6 M625.9,4.1h0.6 M626.9,4.0h0.6 M627.9,3.5h0.6 M628.9,4.6h0.6 M629.9,6.2h0.6 M630.9,8.0h0.6 M631.9,10.4h0.6 M632.9,13.1h0.6 M633.9,16.7h0.6 M634.9,20.4h0.6 M635.9,25.0h0.6 M636.9,28.8h0.6 M637.9,32.9h0.6 M638.9,36.2h0.6 M639.9,39.4h0.6 M640.9,43.0h0.6 M641.9,45.7h0.6 M642.9,47.7h0.6 M643.9,49.5h0.6 M644.9,50.9h0.6 M645.9,51.9h0.6 M646.9,52.2h0.6 M647.9,53.1h0.6 M648.9,53.4h0.6 M649.9,53.4h0.6 M650.9,53.6h0.6 M651.9,54.0h0.6 M652.9,54.1h0.6 M653.9,54.6h0.6 M654.9,54.9h0.6 M655.9,54.4h0.6 M656.9,54.9h0.6 M657.9,55.0h0.6 M658.9,54.9h0.6 M659.9,54.4h0.6 M660.9,54.2h0.6 M661.9,54.2h0.6 M662.9,54.2h0.6 M663.9,54.2h0.6 M664.9,54.6h0.6 M665.9,54.9h0.6 M666.9,54.8h0.6 M667.9,54.5h0.6 M668.9,54.6h0.6 M669.9,54.8h0.6 M670.9,54.1h0.6 M671.9,54.7h0.6 M672.9,54.9h0.6 M673.9,54.8h0.6 M674.9,54.7h0.6 M675.9,54.5h0.6 M676.9,54.2h0.6 M677.9,54.8h0.6 M678.9,54.3h0.6 M679.9,54.8h0.6 M680.9,55.0h0.6 M681.9,54.4h0.6 M682.9,54.4h0.6" stroke="#1a1010" stroke-width="0.8"/>
<polyline points="518.40,119.20 518.90,119.20 519.40,119.19 519.90,119.19 520.40,119.19 520.90,119.19 521.40,119.19 521.90,119.19 522.40,119.19 522.90,119.18 523.40,119.18 523.90,119.18 524.40,119.17 524.90,119.17 525.40,119.17 525.90,119.16 526.40,119.16 526.90,119.15 527.40,119.14 527.90,119.13 528.40,119.12 528.90,119.11 529.40,119.10 529.90,119.09 530.40,119.07 530.90,119.06 531.40,119.04 531.90,119.02 532.40,119.00 532.90,118.97 533.40,118.95 533.90,118.92 534.40,118.88 534.90,118.85 535.40,118.80 535.90,118.76 536.40,118.71 536.90,118.66 537.40,118.60 537.90,118.54 538.40,118.48 538.90,118.40 539.40,118.33 539.90,118.24 540.40,118.15 540.90,118.06 541.40,117.95 541.90,117.84 542.40,117.73 542.90,117.60 543.40,117.47 543.90,117.33 544.40,117.18 544.90,117.03 545.40,116.86 545.90,116.69 546.40,116.51 546.90,116.33 547.40,116.13 547.90,115.93 548.40,115.72 548.90,115.50 549.40,115.28 549.90,115.05 550.40,114.82 550.90,114.58 551.40,114.33 551.90,114.09 552.40,113.83 552.90,113.58 553.40,113.32 553.90,113.06 554.40,112.81 554.90,112.55 555.40,112.29 555.90,112.04 556.40,111.79 556.90,111.55 557.40,111.31 557.90,111.08 558.40,110.85 558.90,110.64 559.40,110.43 559.90,110.24 560.40,110.05 560.90,109.88 561.40,109.72 561.90,109.58 562.40,109.45 562.90,109.33 563.40,109.24 563.90,109.15 564.40,109.09 564.90,109.04 565.40,109.01 565.90,109.00 566.40,109.01 566.90,109.03 567.40,109.07 567.90,109.13 568.40,109.20 568.90,109.29 569.40,109.40 569.90,109.52 570.40,109.66 570.90,109.82 571.40,109.98 571.90,110.16 572.40,110.35 572.90,110.55 573.40,110.77 573.90,110.99 574.40,111.22 574.90,111.45 575.40,111.69 575.90,111.94 576.40,112.19 576.90,112.45 577.40,112.70 577.90,112.96 578.40,113.22 578.90,113.48 579.40,113.73 579.90,113.99 580.40,114.24 580.90,114.48 581.40,114.72 581.90,114.96 582.40,115.19 582.90,115.42 583.40,115.64 583.90,115.85 584.40,116.05 584.90,116.25 585.40,116.44 585.90,116.62 586.40,116.80 586.90,116.96 587.40,117.12 587.90,117.27 588.40,117.41 588.90,117.55 589.40,117.68 589.90,117.80 590.40,117.91 590.90,118.02 591.40,118.11 591.90,118.21 592.40,118.29 592.90,118.37 593.40,118.45 593.90,118.52 594.40,118.58 594.90,118.64 595.40,118.69 595.90,118.74 596.40,118.79 596.90,118.83 597.40,118.87 597.90,118.90 598.40,118.93 598.90,118.96 599.40,118.99 599.90,119.01 600.40,119.03 600.90,119.05 601.40,119.07 601.90,119.08 602.40,119.10 602.90,119.11 603.40,119.12 603.90,119.13 604.40,119.14 604.90,119.15 605.40,119.15 605.90,119.16 606.40,119.16 606.90,119.17 607.40,119.17 607.90,119.18 608.40,119.18 608.90,119.18 609.40,119.19 609.90,119.19 610.40,119.19 610.90,119.19 611.40,119.19 611.90,119.19 612.40,119.19 612.90,119.20 613.40,119.20 613.90,119.20" fill="none" stroke="#e0d070" stroke-width="0.8" stroke-linejoin="round"/>
<polyline points="555.40,119.19 555.90,119.19 556.40,119.18 556.90,119.18 557.40,119.17 557.90,119.16 558.40,119.15 558.90,119.13 559.40,119.11 559.90,119.09 560.40,119.06 560.90,119.03 561.40,118.99 561.90,118.93 562.40,118.87 562.90,118.79 563.40,118.70 563.90,118.60 564.40,118.47 564.90,118.32 565.40,118.15 565.90,117.94 566.40,117.71 566.90,117.44 567.40,117.13 567.90,116.78 568.40,116.39 568.90,115.95 569.40,115.46 569.90,114.92 570.40,114.33 570.90,113.68 571.40,112.98 571.90,112.22 572.40,111.41 572.90,110.55 573.40,109.64 573.90,108.70 574.40,107.72 574.90,106.71 575.40,105.68 575.90,104.64 576.40,103.61 576.90,102.58 577.40,101.57 577.90,100.60 578.40,99.68 578.90,98.82 579.40,98.02 579.90,97.31 580.40,96.68 580.90,96.16 581.40,95.74 581.90,95.44 582.40,95.26 582.90,95.20 583.40,95.26 583.90,95.44 584.40,95.74 584.90,96.16 585.40,96.68 585.90,97.31 586.40,98.02 586.90,98.82 587.40,99.68 587.90,100.60 588.40,101.57 588.90,102.58 589.40,103.61 589.90,104.64 590.40,105.68 590.90,106.71 591.40,107.72 591.90,108.70 592.40,109.64 592.90,110.55 593.40,111.41 593.90,112.22 594.40,112.98 594.90,113.68 595.40,114.33 595.90,114.92 596.40,115.46 596.90,115.95 597.40,116.39 597.90,116.78 598.40,117.13 598.90,117.44 599.40,117.71 599.90,117.94 600.40,118.15 600.90,118.32 601.40,118.47 601.90,118.60 602.40,118.70 602.90,118.79 603.40,118.87 603.90,118.93 604.40,118.99 604.90,119.03 605.40,119.06 605.90,119.09 606.40,119.11 606.90,119.13 607.40,119.15 607.90,119.16 608.40,119.17 608.90,119.18 609.40,119.18 609.90,119.19 610.40,119.19" fill="none" stroke="#5a5ab8" stroke-width="0.8" stroke-linejoin="round"/>
<polyline points="574.40,119.18 574.90,119.17 575.40,119.16 575.90,119.14 576.40,119.12 576.90,119.08 577.40,119.04 577.90,118.98 578.40,118.90 578.90,118.79 579.40,118.65 579.90,118.47 580.40,118.24 580.90,117.95 581.40,117.59 581.90,117.14 582.40,116.59 582.90,115.93 583.40,115.15 583.90,114.22 584.40,113.13 584.90,111.88 585.40,110.45 585.90,108.85 586.40,107.07 586.90,105.13 587.40,103.02 587.90,100.78 588.40,98.43 588.90,96.00 589.40,93.54 589.90,91.08 590.40,88.69 590.90,86.41 591.40,84.29 591.90,82.40 592.40,80.77 592.90,79.46 593.40,78.49 593.90,77.90 594.40,77.70 594.90,77.90 595.40,78.49 595.90,79.46 596.40,80.77 596.90,82.40 597.40,84.29 597.90,86.41 598.40,88.69 598.90,91.08 599.40,93.54 599.90,96.00 600.40,98.43 600.90,100.78 601.40,103.02 601.90,105.13 602.40,107.07 602.90,108.85 603.40,110.45 603.90,111.88 604.40,113.13 604.90,114.22 605.40,115.15 605.90,115.93 606.40,116.59 606.90,117.14 607.40,117.59 607.90,117.95 608.40,118.24 608.90,118.47 609.40,118.65 609.90,118.79 610.40,118.90 610.90,118.98 611.40,119.04 611.90,119.08 612.40,119.12 612.90,119.14 613.40,119.16 613.90,119.17 614.40,119.18" fill="none" stroke="#70c070" stroke-width="0.8" stroke-linejoin="round"/>
<line x1="470.90" y1="119.50" x2="683.60" y2="119.50" stroke="#9cc870" stroke-width="0.8"/>
<polyline points="470.90,119.74 471.40,119.47 471.90,118.80 472.40,118.75 472.90,118.78 473.40,119.69 473.90,119.57 474.40,118.78 474.90,119.59 475.40,119.78 475.90,119.39 476.40,119.02 476.90,119.26 477.40,118.76 477.90,118.62 478.40,119.77 478.90,119.38 479.40,119.23 479.90,119.72 480.40,119.12 480.90,119.65 481.40,119.59 481.90,118.85 482.40,118.90 482.90,118.95 483.40,118.89 483.90,119.30 484.40,118.91 484.90,119.10 485.40,118.76 485.90,119.69 486.40,119.02 486.90,119.15 487.40,119.30 487.90,119.69 488.40,119.10 488.90,119.70 489.40,119.20 489.90,119.24 490.40,119.23 490.90,118.62 491.40,119.13 491.90,118.82 492.40,118.60 492.90,119.56 493.40,118.81 493.90,119.17 494.40,119.47 494.90,119.27 495.40,118.99 495.90,119.22 496.40,119.27 496.90,119.54 497.40,118.73 497.90,119.27 498.40,118.90 498.90,118.93 499.40,119.53 499.90,119.21 500.40,119.27 500.90,119.51 501.40,119.69 501.90,119.13 502.40,119.34 502.90,119.21 503.40,119.21 503.90,119.43 504.40,119.14 504.90,119.24 505.40,119.17 505.90,119.73 506.40,119.44 506.90,119.65 507.40,119.73 507.90,118.91 508.40,119.27 508.90,119.73 509.40,119.61 509.90,118.76 510.40,118.75 510.90,119.13 511.40,118.69 511.90,118.89 512.40,118.69 512.90,119.40 513.40,119.54 513.90,119.68 514.40,118.78 514.90,119.46 515.40,119.39 515.90,118.77 516.40,119.66 516.90,119.76 517.40,118.86 517.90,119.74 518.40,119.07 518.90,119.18 519.40,119.78 519.90,119.59 520.40,118.79 520.90,119.11 521.40,119.21 521.90,119.00 522.40,118.82 522.90,118.97 523.40,119.45 523.90,118.60 524.40,119.24 524.90,119.10 525.40,118.59 525.90,118.96 526.40,119.30 526.90,119.16 527.40,118.62 527.90,119.72 528.40,119.47 528.90,119.68 529.40,118.63 529.90,118.81 530.40,118.52 530.90,119.39 531.40,118.76 531.90,118.58 532.40,118.90 532.90,119.47 533.40,119.33 533.90,118.63 534.40,118.46 534.90,119.35 535.40,118.89 535.90,119.00 536.40,118.22 536.90,118.13 537.40,118.83 537.90,118.45 538.40,117.96 538.90,118.93 539.40,118.49 539.90,118.60 540.40,117.65 540.90,118.48 541.40,117.43 541.90,118.28 542.40,117.67 542.90,117.41 543.40,117.53 543.90,117.84 544.40,116.90 544.90,116.58 545.40,116.90 545.90,116.38 546.40,116.04 546.90,115.92 547.40,115.59 547.90,115.57 548.40,115.49 548.90,115.27 549.40,115.59 549.90,114.80 550.40,114.82 550.90,114.19 551.40,114.15 551.90,113.51 552.40,113.53 552.90,112.99 553.40,113.60 553.90,113.12 554.40,112.43 554.90,112.51 555.40,112.81 555.90,111.56 556.40,112.16 556.90,111.44 557.40,111.27 557.90,111.44 558.40,110.67 558.90,110.58 559.40,110.57 559.90,110.71 560.40,109.73 560.90,110.11 561.40,109.76 561.90,109.47 562.40,109.00 562.90,108.75 563.40,108.21 563.90,108.11 564.40,107.84 564.90,108.45 565.40,107.66 565.90,107.34 566.40,107.02 566.90,107.68 567.40,107.45 567.90,106.92 568.40,106.13 568.90,105.74 569.40,105.42 569.90,105.20 570.40,104.38 570.90,104.23 571.40,103.47 571.90,103.73 572.40,103.12 572.90,101.95 573.40,100.90 573.90,101.03 574.40,99.49 574.90,98.76 575.40,97.54 575.90,97.19 576.40,96.49 576.90,95.71 577.40,94.56 577.90,94.15 578.40,92.80 578.90,92.40 579.40,91.51 579.90,91.24 580.40,90.21 580.90,89.62 581.40,89.42 581.90,88.82 582.40,88.75 582.90,88.19 583.40,87.94 583.90,87.30 584.40,86.79 584.90,86.34 585.40,85.04 585.90,84.17 586.40,84.07 586.90,82.08 587.40,81.69 587.90,80.43 588.40,78.47 588.90,78.13 589.40,76.89 589.90,75.27 590.40,74.16 590.90,73.11 591.40,71.29 591.90,70.93 592.40,70.31 592.90,70.38 593.40,70.31 593.90,70.62 594.40,70.96 594.90,72.29 595.40,73.33 595.90,74.95 596.40,76.30 596.90,78.22 597.40,80.71 597.90,83.53 598.40,85.88 598.90,89.49 599.40,91.90 599.90,94.71 600.40,97.36 600.90,99.97 601.40,102.15 601.90,103.81 602.40,106.83 602.90,108.65 603.40,110.05 603.90,111.58 604.40,113.05 604.90,113.47 605.40,115.25 605.90,115.49 606.40,115.96 606.90,116.76 607.40,117.79 607.90,117.53 608.40,118.48 608.90,119.00 609.40,118.61 609.90,118.62 610.40,118.85 610.90,119.18 611.40,119.35 611.90,119.21 612.40,119.28 612.90,118.63 613.40,118.73 613.90,118.87 614.40,119.47 614.90,118.95 615.40,119.27 615.90,118.61 616.40,118.67 616.90,118.92 617.40,119.40 617.90,119.43 618.40,119.41 618.90,118.95 619.40,119.22 619.90,119.16 620.40,119.16 620.90,118.74 621.40,119.67 621.90,118.84 622.40,119.77 622.90,119.72 623.40,118.62 623.90,119.15 624.40,119.58 624.90,119.76 625.40,119.14 625.90,118.92 626.40,118.85 626.90,119.73 627.40,118.85 627.90,119.30 628.40,118.77 628.90,119.23 629.40,119.74 629.90,118.76 630.40,119.58 630.90,119.21 631.40,119.66 631.90,119.44 632.40,118.88 632.90,119.68 633.40,119.18 633.90,118.63 634.40,118.60 634.90,119.19 635.40,119.14 635.90,118.96 636.40,118.77 636.90,119.01 637.40,118.98 637.90,119.61 638.40,118.60 638.90,119.50 639.40,119.61 639.90,118.74 640.40,119.71 640.90,119.46 641.40,119.68 641.90,118.95 642.40,119.05 642.90,119.07 643.40,119.80 643.90,119.31 644.40,119.03 644.90,119.11 645.40,118.93 645.90,118.66 646.40,118.72 646.90,119.60 647.40,118.94 647.90,119.72 648.40,118.90 648.90,118.92 649.40,119.21 649.90,118.83 650.40,119.05 650.90,119.75 651.40,119.66 651.90,119.57 652.40,119.36 652.90,119.70 653.40,119.73 653.90,119.26 654.40,119.46 654.90,118.66 655.40,119.48 655.90,119.14 656.40,119.50 656.90,119.37 657.40,118.94 657.90,118.66 658.40,119.71 658.90,118.75 659.40,119.17 659.90,119.01 660.40,118.96 660.90,119.49 661.40,119.77 661.90,118.91 662.40,119.39 662.90,118.96 663.40,119.27 663.90,119.07 664.40,118.80 664.90,118.79 665.40,118.85 665.90,119.69 666.40,119.20 666.90,118.86 667.40,119.69 667.90,119.80 668.40,119.14 668.90,118.77 669.40,118.83 669.90,118.71 670.40,119.01 670.90,118.71 671.40,118.89 671.90,118.91 672.40,119.28 672.90,119.66 673.40,119.50 673.90,119.10 674.40,119.10 674.90,119.23 675.40,119.05 675.90,119.01 676.40,118.67 676.90,118.93 677.40,119.76 677.90,118.75 678.40,119.20 678.90,119.36 679.40,119.64 679.90,118.86 680.40,118.93 680.90,118.90 681.40,119.08 681.90,119.14 682.40,119.74 682.90,119.62" fill="none" stroke="#7a1c1c" stroke-width="1.3" stroke-linejoin="round"/>
<rect x="469.50" y="0.50" width="14.00" height="15.00" fill="#fff" stroke="#8a8a8a" stroke-width="1"/>
<text x="476.45" y="12.60" font-size="16" fill="#111" text-anchor="middle" stroke="#111" stroke-width="0.7">c</text>
<text x="490.90" y="15.00" font-size="10.5" fill="#1a1a1a" textLength="21.0" lengthAdjust="spacingAndGlyphs" font-weight="bold" stroke="#1a1a1a" stroke-width="0.22">Ti 2p</text>
<text x="490.90" y="78.80" font-size="10.5" fill="#1a1a1a" textLength="18.7" lengthAdjust="spacingAndGlyphs" font-weight="bold" stroke="#1a1a1a" stroke-width="0.22">O 1s</text>
<text x="502.00" y="44.10" font-size="9.5" fill="#2a2a2a" textLength="16.9" lengthAdjust="spacingAndGlyphs" stroke="#2a2a2a" stroke-width="0.22">Ti-O</text>
<text x="519.80" y="33.30" font-size="9.5" fill="#2a2a2a" textLength="23.6" lengthAdjust="spacingAndGlyphs" stroke="#2a2a2a" stroke-width="0.22">C-Ti-F</text>
<text x="554.00" y="25.90" font-size="9.5" fill="#2a2a2a" textLength="15.7" lengthAdjust="spacingAndGlyphs" stroke="#2a2a2a" stroke-width="0.22">C-Ti</text>
<text x="579.90" y="31.50" font-size="9.5" fill="#2a2a2a" textLength="17.5" lengthAdjust="spacingAndGlyphs" stroke="#2a2a2a" stroke-width="0.22">Ti-O</text>
<text x="584.60" y="14.00" font-size="9.5" fill="#2a2a2a" textLength="25.1" lengthAdjust="spacingAndGlyphs" stroke="#2a2a2a" stroke-width="0.22">C-Ti-F</text>
<text x="645.60" y="13.00" font-size="9.5" fill="#2a2a2a" textLength="35.9" lengthAdjust="spacingAndGlyphs" stroke="#2a2a2a" stroke-width="0.22">C-Ti-O(I)</text>
<text x="603.50" y="78.50" font-size="9.5" fill="#2a2a2a" textLength="35.9" lengthAdjust="spacingAndGlyphs" stroke="#2a2a2a" stroke-width="0.22">C-Ti-O(I)</text>
<text x="558.00" y="87.20" font-size="9.5" fill="#2a2a2a" textLength="16.6" lengthAdjust="spacingAndGlyphs" stroke="#2a2a2a" stroke-width="0.22">Ti-O</text>
<text x="518.40" y="101.80" font-size="9.5" fill="#2a2a2a" textLength="39.6" lengthAdjust="spacingAndGlyphs" stroke="#2a2a2a" stroke-width="0.22">C-Ti-(OH)</text>
<line x1="512.00" y1="45.00" x2="515.00" y2="50.00" stroke="#555" stroke-width="0.5"/>
<line x1="531.00" y1="34.00" x2="541.00" y2="42.00" stroke="#555" stroke-width="0.5"/>
<line x1="562.00" y1="26.50" x2="562.00" y2="29.50" stroke="#555" stroke-width="0.5"/>
<line x1="590.00" y1="32.30" x2="590.00" y2="37.00" stroke="#555" stroke-width="0.5"/>
<line x1="604.40" y1="14.50" x2="615.00" y2="19.50" stroke="#555" stroke-width="0.5"/>
<line x1="645.00" y1="13.50" x2="632.50" y2="16.80" stroke="#555" stroke-width="0.5"/>
<line x1="603.00" y1="75.50" x2="595.50" y2="77.50" stroke="#555" stroke-width="0.5"/>
<line x1="575.50" y1="89.00" x2="581.60" y2="93.80" stroke="#555" stroke-width="0.5"/>
<line x1="554.80" y1="104.80" x2="563.60" y2="108.70" stroke="#555" stroke-width="0.5"/>
<g clip-path="url(#cpd)">
<rect x="2.20" y="155.50" width="170.90" height="110.10" fill="#6e6e6e" stroke="none" stroke-width="1"/>
<rect x="2.2" y="155.5" width="170.9" height="110.1" filter="url(#nz5)" opacity="0.55"/>
<rect x="2.2" y="155.5" width="170.9" height="110.1" filter="url(#nz1)" opacity="0.42"/>
<g filter="url(#bl1)" stroke="#202020" fill="none" stroke-linecap="round" opacity="0.7">
<path d="M47,163 C52,166 56,172 55,178 C54,182 53,186 54,190" stroke-width="2.2"/>
<path d="M25,166 C28,170 33,172 36,171" stroke-width="3.5"/>
<path d="M27,185 C30,190 30,195 29,198" stroke-width="3.0"/>
<path d="M8,172 C12,175 16,176 18,180" stroke-width="2.5"/>
<path d="M110,235 C120,240 130,238 140,236" stroke-width="2.0"/>
<path d="M90,250 C95,255 100,258 108,256" stroke-width="2.5"/>
<path d="M150,228 C155,232 160,240 158,248" stroke-width="1.8"/>
<path d="M78,185 C82,192 86,196 92,198" stroke-width="1.6"/>
<path d="M130,190 C136,196 140,200 138,210" stroke-width="2.0"/>
<path d="M100,175 C104,180 110,182 118,180" stroke-width="1.5"/>
</g>
<g filter="url(#bl3)">
<ellipse cx="28" cy="170" rx="8" ry="6" fill="#202020" opacity="0.6"/>
<ellipse cx="52" cy="168" rx="4" ry="10" fill="#202020" opacity="0.5"/>
<ellipse cx="20" cy="230" rx="10" ry="6" fill="#303030" opacity="0.4"/>
<ellipse cx="150" cy="205" rx="20" ry="14" fill="#303030" opacity="0.55"/>
<ellipse cx="125" cy="205" rx="12" ry="10" fill="#404040" opacity="0.4"/>
<ellipse cx="100" cy="245" rx="22" ry="12" fill="#2a2a2a" opacity="0.45"/>
<ellipse cx="140" cy="166" rx="14" ry="8" fill="#e6e6e6" opacity="0.75"/>
<ellipse cx="75" cy="240" rx="12" ry="6" fill="#3a3a3a" opacity="0.35"/>
<ellipse cx="35" cy="250" rx="15" ry="8" fill="#bcbcbc" opacity="0.35"/>
<ellipse cx="60" cy="215" rx="18" ry="6" fill="#c8c8c8" opacity="0.3"/>
<ellipse cx="160" cy="250" rx="15" ry="10" fill="#c0c0c0" opacity="0.35"/>
<ellipse cx="90" cy="170" rx="12" ry="8" fill="#b8b8b8" opacity="0.3"/>
</g>
</g>
<rect x="66.60" y="156.40" width="105.60" height="68.30" fill="none" stroke="#b8282e" stroke-width="1.8"/>
<rect x="2.50" y="155.50" width="13.00" height="15.00" fill="#fff" stroke="#8a8a8a" stroke-width="1"/>
<text x="8.80" y="169.10" font-size="16" fill="#111" text-anchor="middle" stroke="#111" stroke-width="0.7">d</text>
<rect x="65.50" y="155.50" width="14.00" height="15.00" fill="#fff" stroke="#8a8a8a" stroke-width="1"/>
<text x="72.50" y="169.10" font-size="16" fill="#111" text-anchor="middle" stroke="#111" stroke-width="0.7">e</text>
<text x="69.70" y="214.00" font-size="11" fill="#ece233" textLength="38.5" lengthAdjust="spacingAndGlyphs" font-weight="bold">50 µm</text>
<rect x="72.30" y="217.80" width="30.70" height="2.60" fill="#ece233" stroke="none" stroke-width="1"/>
<text x="7.60" y="253.60" font-size="11" fill="#ece233" textLength="36.6" lengthAdjust="spacingAndGlyphs" font-weight="bold">100 µm</text>
<rect x="9.80" y="257.90" width="27.60" height="3.30" fill="#ece233" stroke="none" stroke-width="1"/>
<g clip-path="url(#cpf)">
<rect x="179.20" y="155.50" width="171.60" height="110.10" fill="#5c5c5c" stroke="none" stroke-width="1"/>
<g transform="rotate(-22 265 210)"><rect x="139.2" y="115.5" width="251.6" height="190.1" filter="url(#nz2)" opacity="0.6"/></g>
<g filter="url(#bl2)" stroke="#d0d0d0" fill="none" stroke-linecap="round">
<path d="M240,235 Q270.0,218.5 300,210" stroke-width="3.0" opacity="0.55"/>
<path d="M290,205 Q317.5,191.0 345,185" stroke-width="3.0" opacity="0.5"/>
<path d="M180,262 Q210.0,249.5 240,245" stroke-width="2.5" opacity="0.45"/>
<path d="M300,250 Q325.0,237.0 350,232" stroke-width="2.5" opacity="0.4"/>
<path d="M230,195 Q255.0,185.0 280,183" stroke-width="2.0" opacity="0.35"/>
<path d="M310,168 Q330.0,159.0 350,158" stroke-width="2.5" opacity="0.45"/>
<path d="M190,210 Q210.0,201.0 230,200" stroke-width="2.0" opacity="0.3"/>
<path d="M250,170 Q275.0,161.0 300,160" stroke-width="2.0" opacity="0.35"/>
</g>
<g filter="url(#bl05)" stroke="#e8e8e8" fill="none" stroke-linecap="round">
<path d="M194.5,237.9 Q208.0,229.8 221.6,225.7" stroke-width="0.6" opacity="0.62"/>
<path d="M305.8,219.0 Q317.3,210.8 328.9,206.7" stroke-width="0.4" opacity="0.45"/>
<path d="M264.4,173.5 Q279.5,163.4 294.6,157.3" stroke-width="0.6" opacity="0.32"/>
<path d="M332.7,243.9 Q349.6,235.0 366.5,230.2" stroke-width="0.4" opacity="0.43"/>
<path d="M247.2,178.9 Q264.6,168.4 281.9,161.9" stroke-width="0.6" opacity="0.63"/>
<path d="M189.9,262.1 Q201.2,255.3 212.6,252.4" stroke-width="0.7" opacity="0.49"/>
<path d="M195.8,170.5 Q211.8,160.0 227.7,153.4" stroke-width="1.1" opacity="0.38"/>
<path d="M329.1,259.3 Q344.7,251.7 360.3,248.0" stroke-width="0.9" opacity="0.59"/>
<path d="M185.4,217.4 Q200.8,207.0 216.2,200.5" stroke-width="1.2" opacity="0.66"/>
<path d="M238.5,202.4 Q249.6,195.1 260.7,191.7" stroke-width="1.3" opacity="0.45"/>
<path d="M169.1,172.4 Q184.6,166.0 200.0,163.5" stroke-width="0.8" opacity="0.50"/>
<path d="M265.1,241.5 Q273.6,236.1 282.0,234.6" stroke-width="0.9" opacity="0.55"/>
<path d="M200.3,179.4 Q210.7,174.2 221.1,173.0" stroke-width="0.7" opacity="0.54"/>
<path d="M225.6,171.3 Q232.1,167.1 238.7,166.8" stroke-width="1.1" opacity="0.45"/>
<path d="M278.4,235.7 Q296.2,228.3 314.0,225.0" stroke-width="0.8" opacity="0.70"/>
<path d="M326.7,228.7 Q343.4,219.2 360.2,213.7" stroke-width="0.7" opacity="0.40"/>
<path d="M322.4,177.6 Q328.9,173.4 335.5,173.1" stroke-width="1.1" opacity="0.49"/>
<path d="M313.8,168.0 Q322.3,161.6 330.8,159.2" stroke-width="0.8" opacity="0.37"/>
<path d="M174.0,199.4 Q191.8,192.2 209.7,189.0" stroke-width="1.0" opacity="0.49"/>
<path d="M210.4,265.2 Q222.9,258.6 235.4,256.0" stroke-width="0.4" opacity="0.38"/>
<path d="M305.5,250.1 Q322.5,241.1 339.5,236.1" stroke-width="0.8" opacity="0.53"/>
<path d="M312.4,197.2 Q324.4,189.0 336.3,184.7" stroke-width="1.1" opacity="0.30"/>
<path d="M290.7,262.5 Q296.5,258.1 302.3,257.7" stroke-width="1.0" opacity="0.64"/>
<path d="M268.1,188.9 Q279.3,183.5 290.5,182.2" stroke-width="1.2" opacity="0.35"/>
<path d="M190.4,170.7 Q196.1,166.1 201.9,165.4" stroke-width="0.5" opacity="0.65"/>
<path d="M279.3,177.6 Q291.4,169.5 303.5,165.4" stroke-width="0.8" opacity="0.39"/>
<path d="M197.7,181.7 Q208.2,175.7 218.8,173.7" stroke-width="0.9" opacity="0.32"/>
<path d="M285.0,257.1 Q300.8,249.5 316.7,245.9" stroke-width="0.4" opacity="0.49"/>
<path d="M182.9,242.7 Q190.8,237.7 198.7,236.8" stroke-width="0.6" opacity="0.58"/>
<path d="M223.1,167.7 Q233.3,160.5 243.5,157.3" stroke-width="1.2" opacity="0.42"/>
<path d="M248.9,226.5 Q265.5,214.8 282.2,207.0" stroke-width="0.9" opacity="0.50"/>
<path d="M295.2,265.2 Q304.9,259.5 314.5,257.8" stroke-width="0.9" opacity="0.52"/>
<path d="M173.2,253.9 Q190.8,243.2 208.5,236.4" stroke-width="0.7" opacity="0.70"/>
<path d="M191.6,168.4 Q198.3,164.1 204.9,163.9" stroke-width="1.1" opacity="0.48"/>
</g>
</g>
<rect x="179.50" y="155.50" width="14.00" height="15.00" fill="#fff" stroke="#8a8a8a" stroke-width="1"/>
<text x="186.10" y="169.10" font-size="16" fill="#111" text-anchor="middle" stroke="#111" stroke-width="0.7">f</text>
<text x="185.00" y="254.30" font-size="11" fill="#ece233" textLength="36.0" lengthAdjust="spacingAndGlyphs" font-weight="bold">100 µm</text>
<rect x="186.80" y="257.90" width="27.60" height="3.20" fill="#ece233" stroke="none" stroke-width="1"/>
<g clip-path="url(#cpg)">
<rect x="357.00" y="155.50" width="161.00" height="110.10" fill="#bdbdbd" stroke="none" stroke-width="1"/>
<g filter="url(#bl1)">
<polygon points="398.4,155 438,155 485,197 518,214 518,266 449,266 434.5,252.8 412.8,231 406.8,216.7 388.7,221.5 373,218 378,195 375.5,190 393.6,178" fill="#a0a0a0"/>
<polygon points="398.4,155 438,155 460,176 445,200 425,212 406.8,216.7 388.7,221.5 373,218 378,195 375.5,190 393.6,178" fill="#999" opacity="0.8"/>
<polygon points="406.8,216.7 446.6,211.8 450,233 455,266 449,266 434.5,252.8 412.8,231" fill="#8c8c8c" opacity="0.8"/>
<polygon points="485,197 518,214 518,266 470,266 465,230" fill="#a6a6a6" opacity="0.6"/>
</g>
<rect x="357.0" y="155.5" width="161.0" height="110.1" filter="url(#nz3)" opacity="0.25" style="mix-blend-mode:multiply"/>
<g filter="url(#bl1)"><polygon points="482,177 492,174 499,183 500,196 493,200 486,196 481,186" fill="#6e6e6e"/><ellipse cx="490.5" cy="186" rx="4" ry="5" fill="#484848"/></g>
<polyline points="438.00,155.50 485.00,197.00 518.00,214.00" fill="none" stroke="#8a8a8a" stroke-width="0.6" stroke-linejoin="round"/>
</g>
<rect x="357.50" y="155.50" width="13.00" height="16.00" fill="#fff" stroke="#8a8a8a" stroke-width="1"/>
<text x="363.80" y="165.60" font-size="16" fill="#111" text-anchor="middle" stroke="#111" stroke-width="0.7">g</text>
<text x="362.40" y="253.70" font-size="11" fill="#ece233" textLength="36.7" lengthAdjust="spacingAndGlyphs" font-weight="bold">200 nm</text>
<rect x="367.40" y="258.20" width="28.00" height="3.00" fill="#ece233" stroke="none" stroke-width="1"/>
<clipPath id="cpagg"><polygon points="551,158 640,156 652,175 650,188 685,190 685,266 585,266 570,240 556,226 546,214 542,198 540,181"/></clipPath>
<g clip-path="url(#cph)">
<rect x="524.10" y="155.50" width="160.00" height="110.10" fill="#b3b3b3" stroke="none" stroke-width="1"/>
<rect x="524.1" y="155.5" width="160.0" height="110.1" filter="url(#nz3)" opacity="0.15"/>
<g>
<polygon points="551,158 640,156 652,175 650,188 685,190 685,266 585,266 570,240 556,226 546,214 542,198 540,181" fill="#8e8e8e" filter="url(#bl1)"/>
<circle cx="632.7" cy="240.3" r="5.0" fill="rgb(120,120,120)" fill-opacity="0.6" stroke="#d0d0d0" stroke-width="0.6" stroke-opacity="0.45"/>
<circle cx="681.3" cy="240.1" r="5.3" fill="rgb(109,109,109)" fill-opacity="0.6" stroke="#d0d0d0" stroke-width="0.6" stroke-opacity="0.45"/>
<circle cx="681.4" cy="229.6" r="5.3" fill="rgb(128,128,128)" fill-opacity="0.6" stroke="#d0d0d0" stroke-width="0.6" stroke-opacity="0.45"/>
<circle cx="555.2" cy="208.9" r="3.6" fill="rgb(144,144,144)" fill-opacity="0.6" stroke="#d0d0d0" stroke-width="0.6" stroke-opacity="0.45"/>
<circle cx="620.7" cy="221.0" r="3.0" fill="rgb(106,106,106)" fill-opacity="0.6" stroke="#d0d0d0" stroke-width="0.6" stroke-opacity="0.45"/>
<circle cx="570.9" cy="187.1" r="5.3" fill="rgb(105,105,105)" fill-opacity="0.6" stroke="#d0d0d0" stroke-width="0.6" stroke-opacity="0.45"/>
<circle cx="654.4" cy="173.4" r="5.0" fill="rgb(116,116,116)" fill-opacity="0.6" stroke="#d0d0d0" stroke-width="0.6" stroke-opacity="0.45"/>
<circle cx="557.3" cy="155.2" r="5.2" fill="rgb(132,132,132)" fill-opacity="0.6" stroke="#d0d0d0" stroke-width="0.6" stroke-opacity="0.45"/>
<circle cx="569.8" cy="179.8" r="5.5" fill="rgb(110,110,110)" fill-opacity="0.6" stroke="#d0d0d0" stroke-width="0.6" stroke-opacity="0.45"/>
<circle cx="684.1" cy="217.0" r="4.7" fill="rgb(122,122,122)" fill-opacity="0.6" stroke="#d0d0d0" stroke-width="0.6" stroke-opacity="0.45"/>
<circle cx="643.0" cy="266.2" r="5.2" fill="rgb(113,113,113)" fill-opacity="0.6" stroke="#d0d0d0" stroke-width="0.6" stroke-opacity="0.45"/>
<circle cx="583.4" cy="196.5" r="3.4" fill="rgb(146,146,146)" fill-opacity="0.6" stroke="#d0d0d0" stroke-width="0.6" stroke-opacity="0.45"/>
<circle cx="560.1" cy="162.5" r="3.8" fill="rgb(128,128,128)" fill-opacity="0.6" stroke="#d0d0d0" stroke-width="0.6" stroke-opacity="0.45"/>
<circle cx="629.7" cy="155.4" r="4.7" fill="rgb(126,126,126)" fill-opacity="0.6" stroke="#d0d0d0" stroke-width="0.6" stroke-opacity="0.45"/>
<circle cx="589.4" cy="190.6" r="5.0" fill="rgb(118,118,118)" fill-opacity="0.6" stroke="#d0d0d0" stroke-width="0.6" stroke-opacity="0.45"/>
<circle cx="611.1" cy="191.3" r="4.2" fill="rgb(114,114,114)" fill-opacity="0.6" stroke="#d0d0d0" stroke-width="0.6" stroke-opacity="0.45"/>
<circle cx="645.1" cy="161.6" r="5.4" fill="rgb(123,123,123)" fill-opacity="0.6" stroke="#d0d0d0" stroke-width="0.6" stroke-opacity="0.45"/>
<circle cx="657.7" cy="197.1" r="4.4" fill="rgb(138,138,138)" fill-opacity="0.6" stroke="#d0d0d0" stroke-width="0.6" stroke-opacity="0.45"/>
<circle cx="679.3" cy="263.3" r="3.9" fill="rgb(149,149,149)" fill-opacity="0.6" stroke="#d0d0d0" stroke-width="0.6" stroke-opacity="0.45"/>
<circle cx="591.9" cy="215.3" r="4.9" fill="rgb(140,140,140)" fill-opacity="0.6" stroke="#d0d0d0" stroke-width="0.6" stroke-opacity="0.45"/>
<circle cx="659.2" cy="253.9" r="3.1" fill="rgb(110,110,110)" fill-opacity="0.6" stroke="#d0d0d0" stroke-width="0.6" stroke-opacity="0.45"/>
<circle cx="589.8" cy="225.2" r="5.3" fill="rgb(123,123,123)" fill-opacity="0.6" stroke="#d0d0d0" stroke-width="0.6" stroke-opacity="0.45"/>
<circle cx="589.7" cy="261.3" r="4.4" fill="rgb(112,112,112)" fill-opacity="0.6" stroke="#d0d0d0" stroke-width="0.6" stroke-opacity="0.45"/>
<circle cx="585.5" cy="191.4" r="3.4" fill="rgb(111,111,111)" fill-opacity="0.6" stroke="#d0d0d0" stroke-width="0.6" stroke-opacity="0.45"/>
<circle cx="549.9" cy="172.1" r="4.7" fill="rgb(146,146,146)" fill-opacity="0.6" stroke="#d0d0d0" stroke-width="0.6" stroke-opacity="0.45"/>
<circle cx="619.1" cy="201.7" r="3.6" fill="rgb(130,130,130)" fill-opacity="0.6" stroke="#d0d0d0" stroke-width="0.6" stroke-opacity="0.45"/>
<circle cx="628.3" cy="250.0" r="4.1" fill="rgb(128,128,128)" fill-opacity="0.6" stroke="#d0d0d0" stroke-width="0.6" stroke-opacity="0.45"/>
<circle cx="602.1" cy="161.4" r="5.3" fill="rgb(124,124,124)" fill-opacity="0.6" stroke="#d0d0d0" stroke-width="0.6" stroke-opacity="0.45"/>
<circle cx="649.2" cy="264.2" r="4.6" fill="rgb(128,128,128)" fill-opacity="0.6" stroke="#d0d0d0" stroke-width="0.6" stroke-opacity="0.45"/>
<circle cx="604.1" cy="172.2" r="5.1" fill="rgb(135,135,135)" fill-opacity="0.6" stroke="#d0d0d0" stroke-width="0.6" stroke-opacity="0.45"/>
<circle cx="582.8" cy="207.1" r="5.5" fill="rgb(140,140,140)" fill-opacity="0.6" stroke="#d0d0d0" stroke-width="0.6" stroke-opacity="0.45"/>
<circle cx="667.5" cy="267.2" r="4.1" fill="rgb(142,142,142)" fill-opacity="0.6" stroke="#d0d0d0" stroke-width="0.6" stroke-opacity="0.45"/>
<circle cx="612.2" cy="238.9" r="4.2" fill="rgb(133,133,133)" fill-opacity="0.6" stroke="#d0d0d0" stroke-width="0.6" stroke-opacity="0.45"/>
<circle cx="582.2" cy="201.4" r="3.4" fill="rgb(120,120,120)" fill-opacity="0.6" stroke="#d0d0d0" stroke-width="0.6" stroke-opacity="0.45"/>
<circle cx="595.3" cy="268.7" r="5.4" fill="rgb(141,141,141)" fill-opacity="0.6" stroke="#d0d0d0" stroke-width="0.6" stroke-opacity="0.45"/>
<circle cx="633.3" cy="212.4" r="3.8" fill="rgb(113,113,113)" fill-opacity="0.6" stroke="#d0d0d0" stroke-width="0.6" stroke-opacity="0.45"/>
<circle cx="551.5" cy="186.3" r="5.0" fill="rgb(121,121,121)" fill-opacity="0.6" stroke="#d0d0d0" stroke-width="0.6" stroke-opacity="0.45"/>
<circle cx="669.8" cy="196.6" r="5.0" fill="rgb(106,106,106)" fill-opacity="0.6" stroke="#d0d0d0" stroke-width="0.6" stroke-opacity="0.45"/>
<circle cx="655.8" cy="234.9" r="4.7" fill="rgb(139,139,139)" fill-opacity="0.6" stroke="#d0d0d0" stroke-width="0.6" stroke-opacity="0.45"/>
<circle cx="653.5" cy="196.8" r="4.8" fill="rgb(105,105,105)" fill-opacity="0.6" stroke="#d0d0d0" stroke-width="0.6" stroke-opacity="0.45"/>
<circle cx="580.7" cy="210.9" r="4.9" fill="rgb(129,129,129)" fill-opacity="0.6" stroke="#d0d0d0" stroke-width="0.6" stroke-opacity="0.45"/>
<circle cx="643.0" cy="188.8" r="5.4" fill="rgb(113,113,113)" fill-opacity="0.6" stroke="#d0d0d0" stroke-width="0.6" stroke-opacity="0.45"/>
<circle cx="636.8" cy="221.8" r="3.0" fill="rgb(120,120,120)" fill-opacity="0.6" stroke="#d0d0d0" stroke-width="0.6" stroke-opacity="0.45"/>
<circle cx="621.1" cy="183.8" r="4.7" fill="rgb(135,135,135)" fill-opacity="0.6" stroke="#d0d0d0" stroke-width="0.6" stroke-opacity="0.45"/>
<circle cx="608.4" cy="248.9" r="4.6" fill="rgb(147,147,147)" fill-opacity="0.6" stroke="#d0d0d0" stroke-width="0.6" stroke-opacity="0.45"/>
<circle cx="659.2" cy="195.0" r="4.6" fill="rgb(150,150,150)" fill-opacity="0.6" stroke="#d0d0d0" stroke-width="0.6" stroke-opacity="0.45"/>
<circle cx="650.1" cy="250.2" r="3.9" fill="rgb(108,108,108)" fill-opacity="0.6" stroke="#d0d0d0" stroke-width="0.6" stroke-opacity="0.45"/>
<circle cx="666.1" cy="255.0" r="4.7" fill="rgb(105,105,105)" fill-opacity="0.6" stroke="#d0d0d0" stroke-width="0.6" stroke-opacity="0.45"/>
<circle cx="686.4" cy="265.0" r="4.3" fill="rgb(105,105,105)" fill-opacity="0.6" stroke="#d0d0d0" stroke-width="0.6" stroke-opacity="0.45"/>
<circle cx="618.5" cy="174.1" r="5.1" fill="rgb(118,118,118)" fill-opacity="0.6" stroke="#d0d0d0" stroke-width="0.6" stroke-opacity="0.45"/>
<circle cx="680.5" cy="209.9" r="4.7" fill="rgb(131,131,131)" fill-opacity="0.6" stroke="#d0d0d0" stroke-width="0.6" stroke-opacity="0.45"/>
<circle cx="647.4" cy="239.0" r="3.4" fill="rgb(119,119,119)" fill-opacity="0.6" stroke="#d0d0d0" stroke-width="0.6" stroke-opacity="0.45"/>
<circle cx="656.6" cy="221.8" r="4.7" fill="rgb(137,137,137)" fill-opacity="0.6" stroke="#d0d0d0" stroke-width="0.6" stroke-opacity="0.45"/>
<circle cx="602.0" cy="226.7" r="4.9" fill="rgb(150,150,150)" fill-opacity="0.6" stroke="#d0d0d0" stroke-width="0.6" stroke-opacity="0.45"/>
<circle cx="634.8" cy="237.8" r="3.1" fill="rgb(144,144,144)" fill-opacity="0.6" stroke="#d0d0d0" stroke-width="0.6" stroke-opacity="0.45"/>
<circle cx="562.3" cy="205.7" r="4.6" fill="rgb(120,120,120)" fill-opacity="0.6" stroke="#d0d0d0" stroke-width="0.6" stroke-opacity="0.45"/>
<circle cx="571.3" cy="233.9" r="4.6" fill="rgb(124,124,124)" fill-opacity="0.6" stroke="#d0d0d0" stroke-width="0.6" stroke-opacity="0.45"/>
<circle cx="572.4" cy="161.2" r="3.3" fill="rgb(108,108,108)" fill-opacity="0.6" stroke="#d0d0d0" stroke-width="0.6" stroke-opacity="0.45"/>
<circle cx="586.2" cy="175.9" r="3.5" fill="rgb(137,137,137)" fill-opacity="0.6" stroke="#d0d0d0" stroke-width="0.6" stroke-opacity="0.45"/>
<circle cx="595.8" cy="225.4" r="4.5" fill="rgb(120,120,120)" fill-opacity="0.6" stroke="#d0d0d0" stroke-width="0.6" stroke-opacity="0.45"/>
<circle cx="580.3" cy="202.2" r="3.3" fill="rgb(107,107,107)" fill-opacity="0.6" stroke="#d0d0d0" stroke-width="0.6" stroke-opacity="0.45"/>
<circle cx="664.4" cy="198.0" r="3.1" fill="rgb(149,149,149)" fill-opacity="0.6" stroke="#d0d0d0" stroke-width="0.6" stroke-opacity="0.45"/>
<circle cx="631.3" cy="165.9" r="4.4" fill="rgb(129,129,129)" fill-opacity="0.6" stroke="#d0d0d0" stroke-width="0.6" stroke-opacity="0.45"/>
<circle cx="589.6" cy="221.8" r="5.4" fill="rgb(127,127,127)" fill-opacity="0.6" stroke="#d0d0d0" stroke-width="0.6" stroke-opacity="0.45"/>
<circle cx="662.4" cy="203.2" r="5.0" fill="rgb(106,106,106)" fill-opacity="0.6" stroke="#d0d0d0" stroke-width="0.6" stroke-opacity="0.45"/>
<circle cx="635.6" cy="197.5" r="3.4" fill="rgb(140,140,140)" fill-opacity="0.6" stroke="#d0d0d0" stroke-width="0.6" stroke-opacity="0.45"/>
<circle cx="628.6" cy="219.8" r="5.4" fill="rgb(124,124,124)" fill-opacity="0.6" stroke="#d0d0d0" stroke-width="0.6" stroke-opacity="0.45"/>
<circle cx="685.1" cy="225.0" r="3.9" fill="rgb(133,133,133)" fill-opacity="0.6" stroke="#d0d0d0" stroke-width="0.6" stroke-opacity="0.45"/>
<circle cx="631.5" cy="171.2" r="4.6" fill="rgb(133,133,133)" fill-opacity="0.6" stroke="#d0d0d0" stroke-width="0.6" stroke-opacity="0.45"/>
<circle cx="673.5" cy="198.2" r="4.1" fill="rgb(111,111,111)" fill-opacity="0.6" stroke="#d0d0d0" stroke-width="0.6" stroke-opacity="0.45"/>
<circle cx="572.4" cy="188.5" r="5.4" fill="rgb(146,146,146)" fill-opacity="0.6" stroke="#d0d0d0" stroke-width="0.6" stroke-opacity="0.45"/>
<circle cx="595.7" cy="265.5" r="5.3" fill="rgb(112,112,112)" fill-opacity="0.6" stroke="#d0d0d0" stroke-width="0.6" stroke-opacity="0.45"/>
<circle cx="628.6" cy="184.9" r="5.5" fill="rgb(128,128,128)" fill-opacity="0.6" stroke="#d0d0d0" stroke-width="0.6" stroke-opacity="0.45"/>
<circle cx="613.4" cy="202.8" r="3.8" fill="rgb(141,141,141)" fill-opacity="0.6" stroke="#d0d0d0" stroke-width="0.6" stroke-opacity="0.45"/>
<circle cx="687.6" cy="211.6" r="3.7" fill="rgb(138,138,138)" fill-opacity="0.6" stroke="#d0d0d0" stroke-width="0.6" stroke-opacity="0.45"/>
<circle cx="610.5" cy="169.0" r="4.6" fill="rgb(122,122,122)" fill-opacity="0.6" stroke="#d0d0d0" stroke-width="0.6" stroke-opacity="0.45"/>
<circle cx="605.4" cy="188.7" r="5.0" fill="rgb(150,150,150)" fill-opacity="0.6" stroke="#d0d0d0" stroke-width="0.6" stroke-opacity="0.45"/>
<circle cx="618.9" cy="186.5" r="5.3" fill="rgb(142,142,142)" fill-opacity="0.6" stroke="#d0d0d0" stroke-width="0.6" stroke-opacity="0.45"/>
<circle cx="578.7" cy="172.8" r="5.5" fill="rgb(143,143,143)" fill-opacity="0.6" stroke="#d0d0d0" stroke-width="0.6" stroke-opacity="0.45"/>
<circle cx="582.6" cy="224.9" r="4.2" fill="rgb(129,129,129)" fill-opacity="0.6" stroke="#d0d0d0" stroke-width="0.6" stroke-opacity="0.45"/>
<circle cx="636.0" cy="224.4" r="4.9" fill="rgb(129,129,129)" fill-opacity="0.6" stroke="#d0d0d0" stroke-width="0.6" stroke-opacity="0.45"/>
<circle cx="583.7" cy="216.4" r="3.8" fill="rgb(124,124,124)" fill-opacity="0.6" stroke="#d0d0d0" stroke-width="0.6" stroke-opacity="0.45"/>
<circle cx="583.1" cy="215.9" r="4.2" fill="rgb(115,115,115)" fill-opacity="0.6" stroke="#d0d0d0" stroke-width="0.6" stroke-opacity="0.45"/>
<circle cx="592.9" cy="240.7" r="4.5" fill="rgb(142,142,142)" fill-opacity="0.6" stroke="#d0d0d0" stroke-width="0.6" stroke-opacity="0.45"/>
<circle cx="543.5" cy="184.0" r="4.1" fill="rgb(148,148,148)" fill-opacity="0.6" stroke="#d0d0d0" stroke-width="0.6" stroke-opacity="0.45"/>
<circle cx="677.3" cy="257.1" r="4.4" fill="rgb(109,109,109)" fill-opacity="0.6" stroke="#d0d0d0" stroke-width="0.6" stroke-opacity="0.45"/>
<circle cx="603.0" cy="221.2" r="4.8" fill="rgb(146,146,146)" fill-opacity="0.6" stroke="#d0d0d0" stroke-width="0.6" stroke-opacity="0.45"/>
<circle cx="634.1" cy="210.4" r="5.3" fill="rgb(133,133,133)" fill-opacity="0.6" stroke="#d0d0d0" stroke-width="0.6" stroke-opacity="0.45"/>
<circle cx="596.6" cy="200.1" r="5.1" fill="rgb(108,108,108)" fill-opacity="0.6" stroke="#d0d0d0" stroke-width="0.6" stroke-opacity="0.45"/>
<circle cx="567.9" cy="189.1" r="5.1" fill="rgb(118,118,118)" fill-opacity="0.6" stroke="#d0d0d0" stroke-width="0.6" stroke-opacity="0.45"/>
<circle cx="643.6" cy="204.8" r="3.7" fill="rgb(138,138,138)" fill-opacity="0.6" stroke="#d0d0d0" stroke-width="0.6" stroke-opacity="0.45"/>
<circle cx="656.7" cy="259.7" r="3.4" fill="rgb(144,144,144)" fill-opacity="0.6" stroke="#d0d0d0" stroke-width="0.6" stroke-opacity="0.45"/>
<circle cx="610.7" cy="218.1" r="4.2" fill="rgb(129,129,129)" fill-opacity="0.6" stroke="#d0d0d0" stroke-width="0.6" stroke-opacity="0.45"/>
<circle cx="588.3" cy="172.7" r="4.5" fill="rgb(111,111,111)" fill-opacity="0.6" stroke="#d0d0d0" stroke-width="0.6" stroke-opacity="0.45"/>
<circle cx="658.3" cy="231.3" r="3.1" fill="rgb(137,137,137)" fill-opacity="0.6" stroke="#d0d0d0" stroke-width="0.6" stroke-opacity="0.45"/>
<circle cx="647.8" cy="267.5" r="5.5" fill="rgb(124,124,124)" fill-opacity="0.6" stroke="#d0d0d0" stroke-width="0.6" stroke-opacity="0.45"/>
<circle cx="644.6" cy="160.6" r="5.1" fill="rgb(140,140,140)" fill-opacity="0.6" stroke="#d0d0d0" stroke-width="0.6" stroke-opacity="0.45"/>
<circle cx="571.3" cy="229.3" r="5.4" fill="rgb(128,128,128)" fill-opacity="0.6" stroke="#d0d0d0" stroke-width="0.6" stroke-opacity="0.45"/>
<circle cx="646.3" cy="170.5" r="3.7" fill="rgb(131,131,131)" fill-opacity="0.6" stroke="#d0d0d0" stroke-width="0.6" stroke-opacity="0.45"/>
<circle cx="630.8" cy="202.6" r="3.4" fill="rgb(113,113,113)" fill-opacity="0.6" stroke="#d0d0d0" stroke-width="0.6" stroke-opacity="0.45"/>
<circle cx="632.6" cy="160.0" r="3.3" fill="rgb(134,134,134)" fill-opacity="0.6" stroke="#d0d0d0" stroke-width="0.6" stroke-opacity="0.45"/>
<circle cx="595.6" cy="163.3" r="3.1" fill="rgb(127,127,127)" fill-opacity="0.6" stroke="#d0d0d0" stroke-width="0.6" stroke-opacity="0.45"/>
<circle cx="625.4" cy="240.4" r="5.2" fill="rgb(109,109,109)" fill-opacity="0.6" stroke="#d0d0d0" stroke-width="0.6" stroke-opacity="0.45"/>
<circle cx="558.4" cy="204.6" r="3.8" fill="rgb(136,136,136)" fill-opacity="0.6" stroke="#d0d0d0" stroke-width="0.6" stroke-opacity="0.45"/>
<circle cx="629.2" cy="211.3" r="5.3" fill="rgb(105,105,105)" fill-opacity="0.6" stroke="#d0d0d0" stroke-width="0.6" stroke-opacity="0.45"/>
<circle cx="594.9" cy="161.4" r="4.7" fill="rgb(141,141,141)" fill-opacity="0.6" stroke="#d0d0d0" stroke-width="0.6" stroke-opacity="0.45"/>
<circle cx="614.9" cy="259.7" r="4.4" fill="rgb(141,141,141)" fill-opacity="0.6" stroke="#d0d0d0" stroke-width="0.6" stroke-opacity="0.45"/>
<circle cx="632.4" cy="185.3" r="4.4" fill="rgb(118,118,118)" fill-opacity="0.6" stroke="#d0d0d0" stroke-width="0.6" stroke-opacity="0.45"/>
<circle cx="576.6" cy="241.3" r="4.3" fill="rgb(141,141,141)" fill-opacity="0.6" stroke="#d0d0d0" stroke-width="0.6" stroke-opacity="0.45"/>
<circle cx="558.3" cy="182.0" r="3.9" fill="rgb(134,134,134)" fill-opacity="0.6" stroke="#d0d0d0" stroke-width="0.6" stroke-opacity="0.45"/>
<circle cx="650.0" cy="175.6" r="4.8" fill="rgb(107,107,107)" fill-opacity="0.6" stroke="#d0d0d0" stroke-width="0.6" stroke-opacity="0.45"/>
<circle cx="637.6" cy="164.8" r="4.7" fill="rgb(108,108,108)" fill-opacity="0.6" stroke="#d0d0d0" stroke-width="0.6" stroke-opacity="0.45"/>
<circle cx="551.9" cy="169.4" r="4.5" fill="rgb(110,110,110)" fill-opacity="0.6" stroke="#d0d0d0" stroke-width="0.6" stroke-opacity="0.45"/>
<circle cx="611.0" cy="192.2" r="5.0" fill="rgb(112,112,112)" fill-opacity="0.6" stroke="#d0d0d0" stroke-width="0.6" stroke-opacity="0.45"/>
<circle cx="546.2" cy="172.3" r="5.4" fill="rgb(126,126,126)" fill-opacity="0.6" stroke="#d0d0d0" stroke-width="0.6" stroke-opacity="0.45"/>
<circle cx="641.5" cy="180.7" r="3.3" fill="rgb(114,114,114)" fill-opacity="0.6" stroke="#d0d0d0" stroke-width="0.6" stroke-opacity="0.45"/>
<circle cx="685.9" cy="231.5" r="5.1" fill="rgb(128,128,128)" fill-opacity="0.6" stroke="#d0d0d0" stroke-width="0.6" stroke-opacity="0.45"/>
<circle cx="591.9" cy="182.0" r="3.8" fill="rgb(126,126,126)" fill-opacity="0.6" stroke="#d0d0d0" stroke-width="0.6" stroke-opacity="0.45"/>
<circle cx="631.3" cy="195.1" r="4.0" fill="rgb(121,121,121)" fill-opacity="0.6" stroke="#d0d0d0" stroke-width="0.6" stroke-opacity="0.45"/>
<circle cx="636.5" cy="247.5" r="4.1" fill="rgb(122,122,122)" fill-opacity="0.6" stroke="#d0d0d0" stroke-width="0.6" stroke-opacity="0.45"/>
<circle cx="667.4" cy="214.5" r="4.5" fill="rgb(135,135,135)" fill-opacity="0.6" stroke="#d0d0d0" stroke-width="0.6" stroke-opacity="0.45"/>
<circle cx="625.1" cy="240.1" r="4.0" fill="rgb(114,114,114)" fill-opacity="0.6" stroke="#d0d0d0" stroke-width="0.6" stroke-opacity="0.45"/>
<circle cx="552.7" cy="158.8" r="3.5" fill="rgb(112,112,112)" fill-opacity="0.6" stroke="#d0d0d0" stroke-width="0.6" stroke-opacity="0.45"/>
<circle cx="611.1" cy="242.4" r="3.0" fill="rgb(121,121,121)" fill-opacity="0.6" stroke="#d0d0d0" stroke-width="0.6" stroke-opacity="0.45"/>
<circle cx="609.5" cy="257.3" r="4.5" fill="rgb(121,121,121)" fill-opacity="0.6" stroke="#d0d0d0" stroke-width="0.6" stroke-opacity="0.45"/>
<circle cx="603.2" cy="208.5" r="3.2" fill="rgb(106,106,106)" fill-opacity="0.6" stroke="#d0d0d0" stroke-width="0.6" stroke-opacity="0.45"/>
<circle cx="561.5" cy="173.3" r="3.9" fill="rgb(145,145,145)" fill-opacity="0.6" stroke="#d0d0d0" stroke-width="0.6" stroke-opacity="0.45"/>
<circle cx="596.6" cy="256.2" r="3.4" fill="rgb(121,121,121)" fill-opacity="0.6" stroke="#d0d0d0" stroke-width="0.6" stroke-opacity="0.45"/>
<circle cx="576.6" cy="186.9" r="3.4" fill="rgb(129,129,129)" fill-opacity="0.6" stroke="#d0d0d0" stroke-width="0.6" stroke-opacity="0.45"/>
<circle cx="581.6" cy="182.0" r="4.2" fill="rgb(115,115,115)" fill-opacity="0.6" stroke="#d0d0d0" stroke-width="0.6" stroke-opacity="0.45"/>
<circle cx="594.1" cy="262.9" r="4.7" fill="rgb(145,145,145)" fill-opacity="0.6" stroke="#d0d0d0" stroke-width="0.6" stroke-opacity="0.45"/>
<circle cx="640.4" cy="209.2" r="5.4" fill="rgb(120,120,120)" fill-opacity="0.6" stroke="#d0d0d0" stroke-width="0.6" stroke-opacity="0.45"/>
<circle cx="582.2" cy="232.6" r="4.8" fill="rgb(149,149,149)" fill-opacity="0.6" stroke="#d0d0d0" stroke-width="0.6" stroke-opacity="0.45"/>
<circle cx="562.8" cy="178.1" r="3.1" fill="rgb(121,121,121)" fill-opacity="0.6" stroke="#d0d0d0" stroke-width="0.6" stroke-opacity="0.45"/>
<circle cx="573.0" cy="164.0" r="4.0" fill="rgb(142,142,142)" fill-opacity="0.6" stroke="#d0d0d0" stroke-width="0.6" stroke-opacity="0.45"/>
<circle cx="686.0" cy="196.9" r="3.8" fill="rgb(133,133,133)" fill-opacity="0.6" stroke="#d0d0d0" stroke-width="0.6" stroke-opacity="0.45"/>
<circle cx="609.1" cy="187.6" r="4.8" fill="rgb(116,116,116)" fill-opacity="0.6" stroke="#d0d0d0" stroke-width="0.6" stroke-opacity="0.45"/>
<circle cx="647.1" cy="173.8" r="3.6" fill="rgb(143,143,143)" fill-opacity="0.6" stroke="#d0d0d0" stroke-width="0.6" stroke-opacity="0.45"/>
<circle cx="640.2" cy="263.2" r="4.6" fill="rgb(113,113,113)" fill-opacity="0.6" stroke="#d0d0d0" stroke-width="0.6" stroke-opacity="0.45"/>
<circle cx="603.5" cy="267.2" r="3.0" fill="rgb(141,141,141)" fill-opacity="0.6" stroke="#d0d0d0" stroke-width="0.6" stroke-opacity="0.45"/>
<circle cx="600.3" cy="160.2" r="4.4" fill="rgb(108,108,108)" fill-opacity="0.6" stroke="#d0d0d0" stroke-width="0.6" stroke-opacity="0.45"/>
<circle cx="688.4" cy="214.7" r="3.9" fill="rgb(127,127,127)" fill-opacity="0.6" stroke="#d0d0d0" stroke-width="0.6" stroke-opacity="0.45"/>
<circle cx="552.3" cy="163.2" r="5.2" fill="rgb(140,140,140)" fill-opacity="0.6" stroke="#d0d0d0" stroke-width="0.6" stroke-opacity="0.45"/>
<circle cx="612.7" cy="262.6" r="3.1" fill="rgb(112,112,112)" fill-opacity="0.6" stroke="#d0d0d0" stroke-width="0.6" stroke-opacity="0.45"/>
<circle cx="575.0" cy="160.8" r="4.0" fill="rgb(105,105,105)" fill-opacity="0.6" stroke="#d0d0d0" stroke-width="0.6" stroke-opacity="0.45"/>
<circle cx="547.1" cy="184.4" r="4.0" fill="rgb(134,134,134)" fill-opacity="0.6" stroke="#d0d0d0" stroke-width="0.6" stroke-opacity="0.45"/>
<circle cx="584.5" cy="160.9" r="3.1" fill="rgb(107,107,107)" fill-opacity="0.6" stroke="#d0d0d0" stroke-width="0.6" stroke-opacity="0.45"/>
<circle cx="615.3" cy="201.3" r="4.3" fill="rgb(149,149,149)" fill-opacity="0.6" stroke="#d0d0d0" stroke-width="0.6" stroke-opacity="0.45"/>
<circle cx="550.8" cy="191.1" r="3.3" fill="rgb(144,144,144)" fill-opacity="0.6" stroke="#d0d0d0" stroke-width="0.6" stroke-opacity="0.45"/>
<circle cx="620.4" cy="260.9" r="4.5" fill="rgb(136,136,136)" fill-opacity="0.6" stroke="#d0d0d0" stroke-width="0.6" stroke-opacity="0.45"/>
<circle cx="612.0" cy="220.7" r="3.9" fill="rgb(148,148,148)" fill-opacity="0.6" stroke="#d0d0d0" stroke-width="0.6" stroke-opacity="0.45"/>
<circle cx="633.0" cy="238.4" r="5.3" fill="rgb(146,146,146)" fill-opacity="0.6" stroke="#d0d0d0" stroke-width="0.6" stroke-opacity="0.45"/>
<circle cx="584.8" cy="206.6" r="5.1" fill="rgb(107,107,107)" fill-opacity="0.6" stroke="#d0d0d0" stroke-width="0.6" stroke-opacity="0.45"/>
<circle cx="572.0" cy="168.3" r="3.8" fill="rgb(106,106,106)" fill-opacity="0.6" stroke="#d0d0d0" stroke-width="0.6" stroke-opacity="0.45"/>
<circle cx="662.6" cy="191.0" r="3.3" fill="rgb(142,142,142)" fill-opacity="0.6" stroke="#d0d0d0" stroke-width="0.6" stroke-opacity="0.45"/>
<circle cx="550.5" cy="183.2" r="3.2" fill="rgb(131,131,131)" fill-opacity="0.6" stroke="#d0d0d0" stroke-width="0.6" stroke-opacity="0.45"/>
<circle cx="603.2" cy="221.4" r="3.6" fill="rgb(112,112,112)" fill-opacity="0.6" stroke="#d0d0d0" stroke-width="0.6" stroke-opacity="0.45"/>
<circle cx="545.3" cy="178.0" r="3.7" fill="rgb(131,131,131)" fill-opacity="0.6" stroke="#d0d0d0" stroke-width="0.6" stroke-opacity="0.45"/>
<circle cx="594.8" cy="166.3" r="4.1" fill="rgb(138,138,138)" fill-opacity="0.6" stroke="#d0d0d0" stroke-width="0.6" stroke-opacity="0.45"/>
<circle cx="585.7" cy="241.5" r="4.4" fill="rgb(144,144,144)" fill-opacity="0.6" stroke="#d0d0d0" stroke-width="0.6" stroke-opacity="0.45"/>
<circle cx="674.2" cy="230.2" r="4.9" fill="rgb(133,133,133)" fill-opacity="0.6" stroke="#d0d0d0" stroke-width="0.6" stroke-opacity="0.45"/>
<circle cx="625.4" cy="205.9" r="5.0" fill="rgb(144,144,144)" fill-opacity="0.6" stroke="#d0d0d0" stroke-width="0.6" stroke-opacity="0.45"/>
<circle cx="637.6" cy="264.8" r="4.8" fill="rgb(141,141,141)" fill-opacity="0.6" stroke="#d0d0d0" stroke-width="0.6" stroke-opacity="0.45"/>
<circle cx="644.6" cy="185.8" r="5.0" fill="rgb(119,119,119)" fill-opacity="0.6" stroke="#d0d0d0" stroke-width="0.6" stroke-opacity="0.45"/>
<circle cx="596.1" cy="170.0" r="3.2" fill="rgb(139,139,139)" fill-opacity="0.6" stroke="#d0d0d0" stroke-width="0.6" stroke-opacity="0.45"/>
<circle cx="563.7" cy="185.2" r="4.7" fill="rgb(149,149,149)" fill-opacity="0.6" stroke="#d0d0d0" stroke-width="0.6" stroke-opacity="0.45"/>
<circle cx="581.4" cy="162.3" r="4.9" fill="rgb(112,112,112)" fill-opacity="0.6" stroke="#d0d0d0" stroke-width="0.6" stroke-opacity="0.45"/>
<circle cx="622.7" cy="158.2" r="3.1" fill="rgb(150,150,150)" fill-opacity="0.6" stroke="#d0d0d0" stroke-width="0.6" stroke-opacity="0.45"/>
<circle cx="557.8" cy="196.1" r="5.1" fill="rgb(109,109,109)" fill-opacity="0.6" stroke="#d0d0d0" stroke-width="0.6" stroke-opacity="0.45"/>
<circle cx="682.3" cy="225.4" r="3.6" fill="rgb(148,148,148)" fill-opacity="0.6" stroke="#d0d0d0" stroke-width="0.6" stroke-opacity="0.45"/>
<circle cx="603.2" cy="196.7" r="3.8" fill="rgb(142,142,142)" fill-opacity="0.6" stroke="#d0d0d0" stroke-width="0.6" stroke-opacity="0.45"/>
<circle cx="663.7" cy="238.6" r="3.2" fill="rgb(110,110,110)" fill-opacity="0.6" stroke="#d0d0d0" stroke-width="0.6" stroke-opacity="0.45"/>
<circle cx="618.6" cy="174.7" r="4.8" fill="rgb(107,107,107)" fill-opacity="0.6" stroke="#d0d0d0" stroke-width="0.6" stroke-opacity="0.45"/>
<circle cx="605.8" cy="262.9" r="5.0" fill="rgb(109,109,109)" fill-opacity="0.6" stroke="#d0d0d0" stroke-width="0.6" stroke-opacity="0.45"/>
<circle cx="556.0" cy="191.5" r="5.3" fill="rgb(150,150,150)" fill-opacity="0.6" stroke="#d0d0d0" stroke-width="0.6" stroke-opacity="0.45"/>
<circle cx="608.1" cy="204.9" r="4.1" fill="rgb(134,134,134)" fill-opacity="0.6" stroke="#d0d0d0" stroke-width="0.6" stroke-opacity="0.45"/>
<circle cx="654.7" cy="262.7" r="4.3" fill="rgb(124,124,124)" fill-opacity="0.6" stroke="#d0d0d0" stroke-width="0.6" stroke-opacity="0.45"/>
<circle cx="685.4" cy="223.5" r="3.3" fill="rgb(146,146,146)" fill-opacity="0.6" stroke="#d0d0d0" stroke-width="0.6" stroke-opacity="0.45"/>
<circle cx="661.8" cy="203.2" r="3.1" fill="rgb(138,138,138)" fill-opacity="0.6" stroke="#d0d0d0" stroke-width="0.6" stroke-opacity="0.45"/>
<circle cx="625.7" cy="210.4" r="5.2" fill="rgb(139,139,139)" fill-opacity="0.6" stroke="#d0d0d0" stroke-width="0.6" stroke-opacity="0.45"/>
<circle cx="597.7" cy="179.8" r="3.7" fill="rgb(109,109,109)" fill-opacity="0.6" stroke="#d0d0d0" stroke-width="0.6" stroke-opacity="0.45"/>
<circle cx="568.6" cy="219.7" r="3.9" fill="rgb(146,146,146)" fill-opacity="0.6" stroke="#d0d0d0" stroke-width="0.6" stroke-opacity="0.45"/>
<circle cx="652.2" cy="182.8" r="3.9" fill="rgb(148,148,148)" fill-opacity="0.6" stroke="#d0d0d0" stroke-width="0.6" stroke-opacity="0.45"/>
<circle cx="665.7" cy="252.7" r="4.5" fill="rgb(122,122,122)" fill-opacity="0.6" stroke="#d0d0d0" stroke-width="0.6" stroke-opacity="0.45"/>
<circle cx="598.9" cy="171.5" r="5.1" fill="rgb(112,112,112)" fill-opacity="0.6" stroke="#d0d0d0" stroke-width="0.6" stroke-opacity="0.45"/>
<circle cx="612.5" cy="159.3" r="3.4" fill="rgb(130,130,130)" fill-opacity="0.6" stroke="#d0d0d0" stroke-width="0.6" stroke-opacity="0.45"/>
<circle cx="659.1" cy="192.3" r="4.7" fill="rgb(124,124,124)" fill-opacity="0.6" stroke="#d0d0d0" stroke-width="0.6" stroke-opacity="0.45"/>
<circle cx="669.2" cy="226.7" r="5.0" fill="rgb(121,121,121)" fill-opacity="0.6" stroke="#d0d0d0" stroke-width="0.6" stroke-opacity="0.45"/>
<circle cx="595.2" cy="156.2" r="4.3" fill="rgb(134,134,134)" fill-opacity="0.6" stroke="#d0d0d0" stroke-width="0.6" stroke-opacity="0.45"/>
<circle cx="627.2" cy="176.2" r="4.0" fill="rgb(124,124,124)" fill-opacity="0.6" stroke="#d0d0d0" stroke-width="0.6" stroke-opacity="0.45"/>
<circle cx="586.2" cy="158.1" r="3.8" fill="rgb(124,124,124)" fill-opacity="0.6" stroke="#d0d0d0" stroke-width="0.6" stroke-opacity="0.45"/>
<circle cx="596.2" cy="209.8" r="4.8" fill="rgb(105,105,105)" fill-opacity="0.6" stroke="#d0d0d0" stroke-width="0.6" stroke-opacity="0.45"/>
<circle cx="598.7" cy="268.0" r="5.0" fill="rgb(125,125,125)" fill-opacity="0.6" stroke="#d0d0d0" stroke-width="0.6" stroke-opacity="0.45"/>
<circle cx="678.4" cy="234.7" r="4.7" fill="rgb(138,138,138)" fill-opacity="0.6" stroke="#d0d0d0" stroke-width="0.6" stroke-opacity="0.45"/>
<circle cx="619.6" cy="246.8" r="3.9" fill="rgb(147,147,147)" fill-opacity="0.6" stroke="#d0d0d0" stroke-width="0.6" stroke-opacity="0.45"/>
<circle cx="628.2" cy="233.1" r="4.3" fill="rgb(136,136,136)" fill-opacity="0.6" stroke="#d0d0d0" stroke-width="0.6" stroke-opacity="0.45"/>
<circle cx="581.2" cy="163.9" r="3.2" fill="rgb(134,134,134)" fill-opacity="0.6" stroke="#d0d0d0" stroke-width="0.6" stroke-opacity="0.45"/>
<circle cx="592.1" cy="221.7" r="4.9" fill="rgb(129,129,129)" fill-opacity="0.6" stroke="#d0d0d0" stroke-width="0.6" stroke-opacity="0.45"/>
<circle cx="646.6" cy="190.3" r="5.3" fill="rgb(114,114,114)" fill-opacity="0.6" stroke="#d0d0d0" stroke-width="0.6" stroke-opacity="0.45"/>
<circle cx="579.7" cy="237.3" r="3.2" fill="rgb(146,146,146)" fill-opacity="0.6" stroke="#d0d0d0" stroke-width="0.6" stroke-opacity="0.45"/>
<circle cx="652.5" cy="232.0" r="5.4" fill="rgb(118,118,118)" fill-opacity="0.6" stroke="#d0d0d0" stroke-width="0.6" stroke-opacity="0.45"/>
<circle cx="674.4" cy="234.1" r="5.1" fill="rgb(121,121,121)" fill-opacity="0.6" stroke="#d0d0d0" stroke-width="0.6" stroke-opacity="0.45"/>
<circle cx="650.3" cy="225.3" r="3.5" fill="rgb(125,125,125)" fill-opacity="0.6" stroke="#d0d0d0" stroke-width="0.6" stroke-opacity="0.45"/>
<circle cx="616.5" cy="258.1" r="3.6" fill="rgb(144,144,144)" fill-opacity="0.6" stroke="#d0d0d0" stroke-width="0.6" stroke-opacity="0.45"/>
<circle cx="686.1" cy="217.6" r="4.0" fill="rgb(118,118,118)" fill-opacity="0.6" stroke="#d0d0d0" stroke-width="0.6" stroke-opacity="0.45"/>
<circle cx="565.1" cy="230.1" r="5.2" fill="rgb(134,134,134)" fill-opacity="0.6" stroke="#d0d0d0" stroke-width="0.6" stroke-opacity="0.45"/>
<circle cx="676.3" cy="225.6" r="4.0" fill="rgb(110,110,110)" fill-opacity="0.6" stroke="#d0d0d0" stroke-width="0.6" stroke-opacity="0.45"/>
<circle cx="622.1" cy="237.3" r="3.9" fill="rgb(114,114,114)" fill-opacity="0.6" stroke="#d0d0d0" stroke-width="0.6" stroke-opacity="0.45"/>
<circle cx="584.4" cy="185.8" r="4.6" fill="rgb(127,127,127)" fill-opacity="0.6" stroke="#d0d0d0" stroke-width="0.6" stroke-opacity="0.45"/>
<circle cx="634.2" cy="243.1" r="3.6" fill="rgb(110,110,110)" fill-opacity="0.6" stroke="#d0d0d0" stroke-width="0.6" stroke-opacity="0.45"/>
<circle cx="664.2" cy="256.0" r="4.8" fill="rgb(145,145,145)" fill-opacity="0.6" stroke="#d0d0d0" stroke-width="0.6" stroke-opacity="0.45"/>
<circle cx="601.4" cy="203.9" r="4.3" fill="rgb(132,132,132)" fill-opacity="0.6" stroke="#d0d0d0" stroke-width="0.6" stroke-opacity="0.45"/>
<circle cx="580.7" cy="224.6" r="5.4" fill="rgb(133,133,133)" fill-opacity="0.6" stroke="#d0d0d0" stroke-width="0.6" stroke-opacity="0.45"/>
<circle cx="566.5" cy="158.5" r="3.3" fill="rgb(144,144,144)" fill-opacity="0.6" stroke="#d0d0d0" stroke-width="0.6" stroke-opacity="0.45"/>
<circle cx="623.5" cy="224.4" r="3.5" fill="rgb(138,138,138)" fill-opacity="0.6" stroke="#d0d0d0" stroke-width="0.6" stroke-opacity="0.45"/>
<circle cx="566.9" cy="223.4" r="4.6" fill="rgb(146,146,146)" fill-opacity="0.6" stroke="#d0d0d0" stroke-width="0.6" stroke-opacity="0.45"/>
<circle cx="642.9" cy="238.8" r="3.2" fill="rgb(130,130,130)" fill-opacity="0.6" stroke="#d0d0d0" stroke-width="0.6" stroke-opacity="0.45"/>
<circle cx="611.7" cy="251.0" r="5.4" fill="rgb(116,116,116)" fill-opacity="0.6" stroke="#d0d0d0" stroke-width="0.6" stroke-opacity="0.45"/>
<circle cx="586.4" cy="252.8" r="4.6" fill="rgb(117,117,117)" fill-opacity="0.6" stroke="#d0d0d0" stroke-width="0.6" stroke-opacity="0.45"/>
<circle cx="643.9" cy="251.7" r="4.2" fill="rgb(113,113,113)" fill-opacity="0.6" stroke="#d0d0d0" stroke-width="0.6" stroke-opacity="0.45"/>
<circle cx="553.3" cy="177.3" r="3.4" fill="rgb(136,136,136)" fill-opacity="0.6" stroke="#d0d0d0" stroke-width="0.6" stroke-opacity="0.45"/>
<circle cx="552.1" cy="172.5" r="4.5" fill="rgb(115,115,115)" fill-opacity="0.6" stroke="#d0d0d0" stroke-width="0.6" stroke-opacity="0.45"/>
<circle cx="649.9" cy="248.9" r="5.0" fill="rgb(148,148,148)" fill-opacity="0.6" stroke="#d0d0d0" stroke-width="0.6" stroke-opacity="0.45"/>
<circle cx="646.4" cy="261.3" r="5.4" fill="rgb(137,137,137)" fill-opacity="0.6" stroke="#d0d0d0" stroke-width="0.6" stroke-opacity="0.45"/>
<circle cx="633.0" cy="266.0" r="3.3" fill="rgb(133,133,133)" fill-opacity="0.6" stroke="#d0d0d0" stroke-width="0.6" stroke-opacity="0.45"/>
<circle cx="553.6" cy="162.4" r="3.5" fill="rgb(141,141,141)" fill-opacity="0.6" stroke="#d0d0d0" stroke-width="0.6" stroke-opacity="0.45"/>
<circle cx="594.9" cy="207.7" r="4.7" fill="rgb(127,127,127)" fill-opacity="0.6" stroke="#d0d0d0" stroke-width="0.6" stroke-opacity="0.45"/>
<circle cx="650.9" cy="164.6" r="4.0" fill="rgb(106,106,106)" fill-opacity="0.6" stroke="#d0d0d0" stroke-width="0.6" stroke-opacity="0.45"/>
<circle cx="620.6" cy="198.1" r="3.3" fill="rgb(114,114,114)" fill-opacity="0.6" stroke="#d0d0d0" stroke-width="0.6" stroke-opacity="0.45"/>
<circle cx="628.8" cy="198.1" r="4.7" fill="rgb(132,132,132)" fill-opacity="0.6" stroke="#d0d0d0" stroke-width="0.6" stroke-opacity="0.45"/>
<circle cx="613.3" cy="265.7" r="5.4" fill="rgb(122,122,122)" fill-opacity="0.6" stroke="#d0d0d0" stroke-width="0.6" stroke-opacity="0.45"/>
<circle cx="647.6" cy="189.0" r="3.3" fill="rgb(141,141,141)" fill-opacity="0.6" stroke="#d0d0d0" stroke-width="0.6" stroke-opacity="0.45"/>
<circle cx="610.8" cy="195.7" r="4.8" fill="rgb(136,136,136)" fill-opacity="0.6" stroke="#d0d0d0" stroke-width="0.6" stroke-opacity="0.45"/>
<circle cx="677.6" cy="198.9" r="3.7" fill="rgb(137,137,137)" fill-opacity="0.6" stroke="#d0d0d0" stroke-width="0.6" stroke-opacity="0.45"/>
<circle cx="613.8" cy="235.1" r="5.0" fill="rgb(139,139,139)" fill-opacity="0.6" stroke="#d0d0d0" stroke-width="0.6" stroke-opacity="0.45"/>
<circle cx="625.5" cy="189.0" r="3.8" fill="rgb(118,118,118)" fill-opacity="0.6" stroke="#d0d0d0" stroke-width="0.6" stroke-opacity="0.45"/>
<circle cx="666.9" cy="214.7" r="3.1" fill="rgb(140,140,140)" fill-opacity="0.6" stroke="#d0d0d0" stroke-width="0.6" stroke-opacity="0.45"/>
<circle cx="602.0" cy="182.4" r="4.7" fill="rgb(120,120,120)" fill-opacity="0.6" stroke="#d0d0d0" stroke-width="0.6" stroke-opacity="0.45"/>
<circle cx="549.2" cy="186.2" r="3.2" fill="rgb(147,147,147)" fill-opacity="0.6" stroke="#d0d0d0" stroke-width="0.6" stroke-opacity="0.45"/>
<circle cx="610.6" cy="268.2" r="4.4" fill="rgb(115,115,115)" fill-opacity="0.6" stroke="#d0d0d0" stroke-width="0.6" stroke-opacity="0.45"/>
<circle cx="596.7" cy="262.4" r="3.2" fill="rgb(131,131,131)" fill-opacity="0.6" stroke="#d0d0d0" stroke-width="0.6" stroke-opacity="0.45"/>
<circle cx="592.1" cy="248.2" r="3.0" fill="rgb(140,140,140)" fill-opacity="0.6" stroke="#d0d0d0" stroke-width="0.6" stroke-opacity="0.45"/>
<circle cx="654.4" cy="196.5" r="3.0" fill="rgb(121,121,121)" fill-opacity="0.6" stroke="#d0d0d0" stroke-width="0.6" stroke-opacity="0.45"/>
<circle cx="576.1" cy="207.7" r="4.0" fill="rgb(125,125,125)" fill-opacity="0.6" stroke="#d0d0d0" stroke-width="0.6" stroke-opacity="0.45"/>
<circle cx="616.5" cy="161.1" r="3.5" fill="rgb(123,123,123)" fill-opacity="0.6" stroke="#d0d0d0" stroke-width="0.6" stroke-opacity="0.45"/>
<circle cx="686.1" cy="205.9" r="4.2" fill="rgb(144,144,144)" fill-opacity="0.6" stroke="#d0d0d0" stroke-width="0.6" stroke-opacity="0.45"/>
<circle cx="551.0" cy="187.1" r="5.4" fill="rgb(111,111,111)" fill-opacity="0.6" stroke="#d0d0d0" stroke-width="0.6" stroke-opacity="0.45"/>
<circle cx="642.4" cy="213.4" r="3.1" fill="rgb(117,117,117)" fill-opacity="0.6" stroke="#d0d0d0" stroke-width="0.6" stroke-opacity="0.45"/>
<circle cx="597.7" cy="244.5" r="4.1" fill="rgb(121,121,121)" fill-opacity="0.6" stroke="#d0d0d0" stroke-width="0.6" stroke-opacity="0.45"/>
<circle cx="628.2" cy="258.8" r="4.6" fill="rgb(132,132,132)" fill-opacity="0.6" stroke="#d0d0d0" stroke-width="0.6" stroke-opacity="0.45"/>
<circle cx="634.6" cy="159.1" r="3.1" fill="rgb(127,127,127)" fill-opacity="0.6" stroke="#d0d0d0" stroke-width="0.6" stroke-opacity="0.45"/>
<circle cx="655.0" cy="202.5" r="5.2" fill="rgb(138,138,138)" fill-opacity="0.6" stroke="#d0d0d0" stroke-width="0.6" stroke-opacity="0.45"/>
<circle cx="663.5" cy="260.3" r="3.9" fill="rgb(121,121,121)" fill-opacity="0.6" stroke="#d0d0d0" stroke-width="0.6" stroke-opacity="0.45"/>
<circle cx="689.9" cy="242.0" r="5.2" fill="rgb(136,136,136)" fill-opacity="0.6" stroke="#d0d0d0" stroke-width="0.6" stroke-opacity="0.45"/>
<circle cx="602.2" cy="266.8" r="5.5" fill="rgb(145,145,145)" fill-opacity="0.6" stroke="#d0d0d0" stroke-width="0.6" stroke-opacity="0.45"/>
<circle cx="570.9" cy="203.5" r="3.7" fill="rgb(150,150,150)" fill-opacity="0.6" stroke="#d0d0d0" stroke-width="0.6" stroke-opacity="0.45"/>
<circle cx="609.4" cy="187.9" r="4.7" fill="rgb(146,146,146)" fill-opacity="0.6" stroke="#d0d0d0" stroke-width="0.6" stroke-opacity="0.45"/>
<circle cx="556.7" cy="174.5" r="4.1" fill="rgb(110,110,110)" fill-opacity="0.6" stroke="#d0d0d0" stroke-width="0.6" stroke-opacity="0.45"/>
<circle cx="549.2" cy="198.8" r="5.2" fill="rgb(112,112,112)" fill-opacity="0.6" stroke="#d0d0d0" stroke-width="0.6" stroke-opacity="0.45"/>
<circle cx="684.0" cy="223.9" r="3.3" fill="rgb(149,149,149)" fill-opacity="0.6" stroke="#d0d0d0" stroke-width="0.6" stroke-opacity="0.45"/>
</g>
<g filter="url(#bl2)">
<ellipse cx="588" cy="188" rx="8" ry="9" fill="#262626" opacity="0.8"/>
<ellipse cx="630" cy="182" rx="11" ry="10" fill="#1a1a1a" opacity="0.9"/>
<ellipse cx="636" cy="170" rx="7" ry="6" fill="#303030" opacity="0.7"/>
<ellipse cx="621" cy="229" rx="9" ry="14" fill="#1a1a1a" opacity="0.85"/>
<ellipse cx="604" cy="232" rx="9" ry="8" fill="#262626" opacity="0.8"/>
<ellipse cx="616" cy="252" rx="7" ry="6" fill="#2a2a2a" opacity="0.8"/>
<ellipse cx="640" cy="210" rx="10" ry="9" fill="#333" opacity="0.65"/>
<ellipse cx="600" cy="210" rx="12" ry="9" fill="#3a3a3a" opacity="0.6"/>
<ellipse cx="650" cy="238" rx="8" ry="8" fill="#383838" opacity="0.6"/>
<ellipse cx="575" cy="200" rx="8" ry="7" fill="#505050" opacity="0.5"/>
<ellipse cx="612" cy="198" rx="9" ry="9" fill="#333" opacity="0.65"/>
<ellipse cx="660" cy="222" rx="8" ry="7" fill="#505050" opacity="0.45"/>
<ellipse cx="580" cy="240" rx="7" ry="7" fill="#505050" opacity="0.45"/>
<ellipse cx="645" cy="255" rx="9" ry="7" fill="#404040" opacity="0.5"/>
<ellipse cx="610" cy="168" rx="9" ry="7" fill="#4a4a4a" opacity="0.55"/>
<ellipse cx="625" cy="205" rx="10" ry="8" fill="#2e2e2e" opacity="0.6"/>
<ellipse cx="595" cy="250" rx="8" ry="7" fill="#444" opacity="0.5"/>
<ellipse cx="660" cy="195" rx="6" ry="5" fill="#555" opacity="0.4"/>
<ellipse cx="570" cy="175" rx="7" ry="6" fill="#555" opacity="0.35"/>
<ellipse cx="632" cy="245" rx="8" ry="8" fill="#3a3a3a" opacity="0.55"/>
</g>
</g>
<line x1="683.80" y1="155.50" x2="683.80" y2="265.60" stroke="#505050" stroke-width="1"/>
<rect x="524.50" y="155.50" width="13.00" height="16.00" fill="#fff" stroke="#8a8a8a" stroke-width="1"/>
<text x="530.90" y="169.20" font-size="16" fill="#111" text-anchor="middle" stroke="#111" stroke-width="0.7">h</text>
<text x="532.00" y="253.30" font-size="11" fill="#ece233" textLength="36.2" lengthAdjust="spacingAndGlyphs" font-weight="bold">100 nm</text>
<rect x="536.40" y="258.00" width="28.20" height="2.90" fill="#ece233" stroke="none" stroke-width="1"/>
<rect x="76.05" y="436.47" width="4.88" height="8.13" fill="#189ad8" stroke="#1478a8" stroke-width="0.5"/>
<rect x="81.43" y="429.07" width="4.88" height="15.53" fill="#fde700" stroke="#c8b400" stroke-width="0.5"/>
<rect x="86.81" y="419.30" width="4.88" height="25.30" fill="#e2001a" stroke="#a8101a" stroke-width="0.5"/>
<rect x="92.19" y="414.86" width="4.88" height="29.74" fill="#e2c4a0" stroke="#9c8c80" stroke-width="0.5"/>
<rect x="97.57" y="335.24" width="4.88" height="109.36" fill="#3aa935" stroke="#2a8028" stroke-width="0.5"/>
<rect x="114.05" y="432.33" width="4.88" height="12.27" fill="#189ad8" stroke="#1478a8" stroke-width="0.5"/>
<rect x="119.43" y="425.52" width="4.88" height="19.08" fill="#fde700" stroke="#c8b400" stroke-width="0.5"/>
<rect x="124.81" y="424.34" width="4.88" height="20.26" fill="#e2001a" stroke="#a8101a" stroke-width="0.5"/>
<rect x="130.19" y="425.22" width="4.88" height="19.38" fill="#e2c4a0" stroke="#9c8c80" stroke-width="0.5"/>
<rect x="135.57" y="427.00" width="4.88" height="17.60" fill="#3aa935" stroke="#2a8028" stroke-width="0.5"/>
<rect x="152.05" y="427.30" width="4.88" height="17.30" fill="#189ad8" stroke="#1478a8" stroke-width="0.5"/>
<rect x="157.43" y="429.07" width="4.88" height="15.53" fill="#fde700" stroke="#c8b400" stroke-width="0.5"/>
<rect x="162.81" y="424.34" width="4.88" height="20.26" fill="#e2001a" stroke="#a8101a" stroke-width="0.5"/>
<rect x="168.19" y="425.82" width="4.88" height="18.78" fill="#e2c4a0" stroke="#9c8c80" stroke-width="0.5"/>
<rect x="173.57" y="425.82" width="4.88" height="18.78" fill="#3aa935" stroke="#2a8028" stroke-width="0.5"/>
<rect x="190.05" y="427.30" width="4.88" height="17.30" fill="#189ad8" stroke="#1478a8" stroke-width="0.5"/>
<rect x="195.43" y="424.04" width="4.88" height="20.56" fill="#fde700" stroke="#c8b400" stroke-width="0.5"/>
<rect x="200.81" y="428.18" width="4.88" height="16.42" fill="#e2001a" stroke="#a8101a" stroke-width="0.5"/>
<rect x="206.19" y="427.30" width="4.88" height="17.30" fill="#e2c4a0" stroke="#9c8c80" stroke-width="0.5"/>
<rect x="211.57" y="415.16" width="4.88" height="29.44" fill="#3aa935" stroke="#2a8028" stroke-width="0.5"/>
<rect x="228.05" y="426.11" width="4.88" height="18.49" fill="#189ad8" stroke="#1478a8" stroke-width="0.5"/>
<rect x="233.43" y="427.89" width="4.88" height="16.71" fill="#fde700" stroke="#c8b400" stroke-width="0.5"/>
<rect x="238.81" y="427.00" width="4.88" height="17.60" fill="#e2001a" stroke="#a8101a" stroke-width="0.5"/>
<rect x="244.19" y="429.07" width="4.88" height="15.53" fill="#e2c4a0" stroke="#9c8c80" stroke-width="0.5"/>
<rect x="249.57" y="420.19" width="4.88" height="24.41" fill="#3aa935" stroke="#2a8028" stroke-width="0.5"/>
<line x1="78.49" y1="435.29" x2="78.49" y2="437.66" stroke="#6a6a6a" stroke-width="0.5"/>
<line x1="77.39" y1="435.29" x2="79.59" y2="435.29" stroke="#6a6a6a" stroke-width="0.5"/>
<line x1="77.39" y1="437.66" x2="79.59" y2="437.66" stroke="#6a6a6a" stroke-width="0.5"/>
<line x1="83.87" y1="428.18" x2="83.87" y2="429.96" stroke="#6a6a6a" stroke-width="0.5"/>
<line x1="82.77" y1="428.18" x2="84.97" y2="428.18" stroke="#6a6a6a" stroke-width="0.5"/>
<line x1="82.77" y1="429.96" x2="84.97" y2="429.96" stroke="#6a6a6a" stroke-width="0.5"/>
<line x1="89.25" y1="415.75" x2="89.25" y2="422.86" stroke="#6a6a6a" stroke-width="0.5"/>
<line x1="88.15" y1="415.75" x2="90.35" y2="415.75" stroke="#6a6a6a" stroke-width="0.5"/>
<line x1="88.15" y1="422.86" x2="90.35" y2="422.86" stroke="#6a6a6a" stroke-width="0.5"/>
<line x1="94.63" y1="408.65" x2="94.63" y2="421.08" stroke="#6a6a6a" stroke-width="0.5"/>
<line x1="93.53" y1="408.65" x2="95.73" y2="408.65" stroke="#6a6a6a" stroke-width="0.5"/>
<line x1="93.53" y1="421.08" x2="95.73" y2="421.08" stroke="#6a6a6a" stroke-width="0.5"/>
<line x1="100.01" y1="323.40" x2="100.01" y2="347.08" stroke="#6a6a6a" stroke-width="0.5"/>
<line x1="98.91" y1="323.40" x2="101.11" y2="323.40" stroke="#6a6a6a" stroke-width="0.5"/>
<line x1="98.91" y1="347.08" x2="101.11" y2="347.08" stroke="#6a6a6a" stroke-width="0.5"/>
<line x1="116.49" y1="430.26" x2="116.49" y2="434.40" stroke="#6a6a6a" stroke-width="0.5"/>
<line x1="115.39" y1="430.26" x2="117.59" y2="430.26" stroke="#6a6a6a" stroke-width="0.5"/>
<line x1="115.39" y1="434.40" x2="117.59" y2="434.40" stroke="#6a6a6a" stroke-width="0.5"/>
<line x1="121.87" y1="424.04" x2="121.87" y2="427.00" stroke="#6a6a6a" stroke-width="0.5"/>
<line x1="120.77" y1="424.04" x2="122.97" y2="424.04" stroke="#6a6a6a" stroke-width="0.5"/>
<line x1="120.77" y1="427.00" x2="122.97" y2="427.00" stroke="#6a6a6a" stroke-width="0.5"/>
<line x1="127.25" y1="421.38" x2="127.25" y2="427.30" stroke="#6a6a6a" stroke-width="0.5"/>
<line x1="126.15" y1="421.38" x2="128.35" y2="421.38" stroke="#6a6a6a" stroke-width="0.5"/>
<line x1="126.15" y1="427.30" x2="128.35" y2="427.30" stroke="#6a6a6a" stroke-width="0.5"/>
<line x1="138.01" y1="424.04" x2="138.01" y2="429.96" stroke="#6a6a6a" stroke-width="0.5"/>
<line x1="136.91" y1="424.04" x2="139.11" y2="424.04" stroke="#6a6a6a" stroke-width="0.5"/>
<line x1="136.91" y1="429.96" x2="139.11" y2="429.96" stroke="#6a6a6a" stroke-width="0.5"/>
<line x1="154.49" y1="424.34" x2="154.49" y2="430.26" stroke="#6a6a6a" stroke-width="0.5"/>
<line x1="153.39" y1="424.34" x2="155.59" y2="424.34" stroke="#6a6a6a" stroke-width="0.5"/>
<line x1="153.39" y1="430.26" x2="155.59" y2="430.26" stroke="#6a6a6a" stroke-width="0.5"/>
<line x1="159.87" y1="428.18" x2="159.87" y2="429.96" stroke="#6a6a6a" stroke-width="0.5"/>
<line x1="158.77" y1="428.18" x2="160.97" y2="428.18" stroke="#6a6a6a" stroke-width="0.5"/>
<line x1="158.77" y1="429.96" x2="160.97" y2="429.96" stroke="#6a6a6a" stroke-width="0.5"/>
<line x1="165.25" y1="417.23" x2="165.25" y2="431.44" stroke="#6a6a6a" stroke-width="0.5"/>
<line x1="164.15" y1="417.23" x2="166.35" y2="417.23" stroke="#6a6a6a" stroke-width="0.5"/>
<line x1="164.15" y1="431.44" x2="166.35" y2="431.44" stroke="#6a6a6a" stroke-width="0.5"/>
<line x1="170.63" y1="424.34" x2="170.63" y2="427.30" stroke="#6a6a6a" stroke-width="0.5"/>
<line x1="169.53" y1="424.34" x2="171.73" y2="424.34" stroke="#6a6a6a" stroke-width="0.5"/>
<line x1="169.53" y1="427.30" x2="171.73" y2="427.30" stroke="#6a6a6a" stroke-width="0.5"/>
<line x1="176.01" y1="423.74" x2="176.01" y2="427.89" stroke="#6a6a6a" stroke-width="0.5"/>
<line x1="174.91" y1="423.74" x2="177.11" y2="423.74" stroke="#6a6a6a" stroke-width="0.5"/>
<line x1="174.91" y1="427.89" x2="177.11" y2="427.89" stroke="#6a6a6a" stroke-width="0.5"/>
<line x1="192.49" y1="424.34" x2="192.49" y2="430.26" stroke="#6a6a6a" stroke-width="0.5"/>
<line x1="191.39" y1="424.34" x2="193.59" y2="424.34" stroke="#6a6a6a" stroke-width="0.5"/>
<line x1="191.39" y1="430.26" x2="193.59" y2="430.26" stroke="#6a6a6a" stroke-width="0.5"/>
<line x1="197.87" y1="423.45" x2="197.87" y2="424.63" stroke="#6a6a6a" stroke-width="0.5"/>
<line x1="196.77" y1="423.45" x2="198.97" y2="423.45" stroke="#6a6a6a" stroke-width="0.5"/>
<line x1="196.77" y1="424.63" x2="198.97" y2="424.63" stroke="#6a6a6a" stroke-width="0.5"/>
<line x1="203.25" y1="427.00" x2="203.25" y2="429.37" stroke="#6a6a6a" stroke-width="0.5"/>
<line x1="202.15" y1="427.00" x2="204.35" y2="427.00" stroke="#6a6a6a" stroke-width="0.5"/>
<line x1="202.15" y1="429.37" x2="204.35" y2="429.37" stroke="#6a6a6a" stroke-width="0.5"/>
<line x1="208.63" y1="424.34" x2="208.63" y2="430.26" stroke="#6a6a6a" stroke-width="0.5"/>
<line x1="207.53" y1="424.34" x2="209.73" y2="424.34" stroke="#6a6a6a" stroke-width="0.5"/>
<line x1="207.53" y1="430.26" x2="209.73" y2="430.26" stroke="#6a6a6a" stroke-width="0.5"/>
<line x1="214.01" y1="402.14" x2="214.01" y2="428.18" stroke="#6a6a6a" stroke-width="0.5"/>
<line x1="212.91" y1="402.14" x2="215.11" y2="402.14" stroke="#6a6a6a" stroke-width="0.5"/>
<line x1="212.91" y1="428.18" x2="215.11" y2="428.18" stroke="#6a6a6a" stroke-width="0.5"/>
<line x1="230.49" y1="425.52" x2="230.49" y2="426.70" stroke="#6a6a6a" stroke-width="0.5"/>
<line x1="229.39" y1="425.52" x2="231.59" y2="425.52" stroke="#6a6a6a" stroke-width="0.5"/>
<line x1="229.39" y1="426.70" x2="231.59" y2="426.70" stroke="#6a6a6a" stroke-width="0.5"/>
<line x1="235.87" y1="427.30" x2="235.87" y2="428.48" stroke="#6a6a6a" stroke-width="0.5"/>
<line x1="234.77" y1="427.30" x2="236.97" y2="427.30" stroke="#6a6a6a" stroke-width="0.5"/>
<line x1="234.77" y1="428.48" x2="236.97" y2="428.48" stroke="#6a6a6a" stroke-width="0.5"/>
<line x1="241.25" y1="422.26" x2="241.25" y2="431.74" stroke="#6a6a6a" stroke-width="0.5"/>
<line x1="240.15" y1="422.26" x2="242.35" y2="422.26" stroke="#6a6a6a" stroke-width="0.5"/>
<line x1="240.15" y1="431.74" x2="242.35" y2="431.74" stroke="#6a6a6a" stroke-width="0.5"/>
<line x1="246.63" y1="425.22" x2="246.63" y2="432.92" stroke="#6a6a6a" stroke-width="0.5"/>
<line x1="245.53" y1="425.22" x2="247.73" y2="425.22" stroke="#6a6a6a" stroke-width="0.5"/>
<line x1="245.53" y1="432.92" x2="247.73" y2="432.92" stroke="#6a6a6a" stroke-width="0.5"/>
<line x1="252.01" y1="418.12" x2="252.01" y2="422.26" stroke="#6a6a6a" stroke-width="0.5"/>
<line x1="250.91" y1="418.12" x2="253.11" y2="418.12" stroke="#6a6a6a" stroke-width="0.5"/>
<line x1="250.91" y1="422.26" x2="253.11" y2="422.26" stroke="#6a6a6a" stroke-width="0.5"/>
<rect x="76.05" y="483.83" width="4.88" height="113.97" fill="#189ad8" stroke="#1478a8" stroke-width="0.5"/>
<rect x="81.43" y="502.70" width="4.88" height="95.10" fill="#fde700" stroke="#c8b400" stroke-width="0.5"/>
<rect x="86.81" y="520.70" width="4.88" height="77.10" fill="#e2001a" stroke="#a8101a" stroke-width="0.5"/>
<rect x="92.19" y="566.80" width="4.88" height="31.00" fill="#e2c4a0" stroke="#9c8c80" stroke-width="0.5"/>
<rect x="97.57" y="554.10" width="4.88" height="43.70" fill="#3aa935" stroke="#2a8028" stroke-width="0.5"/>
<rect x="114.05" y="473.92" width="4.88" height="123.88" fill="#189ad8" stroke="#1478a8" stroke-width="0.5"/>
<rect x="119.43" y="470.36" width="4.88" height="127.44" fill="#fde700" stroke="#c8b400" stroke-width="0.5"/>
<rect x="124.81" y="504.53" width="4.88" height="93.27" fill="#e2001a" stroke="#a8101a" stroke-width="0.5"/>
<rect x="130.19" y="546.49" width="4.88" height="51.31" fill="#e2c4a0" stroke="#9c8c80" stroke-width="0.5"/>
<rect x="135.57" y="555.25" width="4.88" height="42.55" fill="#3aa935" stroke="#2a8028" stroke-width="0.5"/>
<rect x="152.05" y="468.82" width="4.88" height="128.98" fill="#189ad8" stroke="#1478a8" stroke-width="0.5"/>
<rect x="157.43" y="466.03" width="4.88" height="131.77" fill="#fde700" stroke="#c8b400" stroke-width="0.5"/>
<rect x="162.81" y="515.50" width="4.88" height="82.30" fill="#e2001a" stroke="#a8101a" stroke-width="0.5"/>
<rect x="168.19" y="542.93" width="4.88" height="54.87" fill="#e2c4a0" stroke="#9c8c80" stroke-width="0.5"/>
<rect x="173.57" y="555.73" width="4.88" height="42.07" fill="#3aa935" stroke="#2a8028" stroke-width="0.5"/>
<rect x="190.05" y="472.86" width="4.88" height="124.94" fill="#189ad8" stroke="#1478a8" stroke-width="0.5"/>
<rect x="195.43" y="476.23" width="4.88" height="121.57" fill="#fde700" stroke="#c8b400" stroke-width="0.5"/>
<rect x="200.81" y="515.31" width="4.88" height="82.49" fill="#e2001a" stroke="#a8101a" stroke-width="0.5"/>
<rect x="206.19" y="538.31" width="4.88" height="59.49" fill="#e2c4a0" stroke="#9c8c80" stroke-width="0.5"/>
<rect x="211.57" y="561.89" width="4.88" height="35.91" fill="#3aa935" stroke="#2a8028" stroke-width="0.5"/>
<rect x="228.05" y="467.66" width="4.88" height="130.14" fill="#189ad8" stroke="#1478a8" stroke-width="0.5"/>
<rect x="233.43" y="475.17" width="4.88" height="122.63" fill="#fde700" stroke="#c8b400" stroke-width="0.5"/>
<rect x="238.81" y="503.28" width="4.88" height="94.52" fill="#e2001a" stroke="#a8101a" stroke-width="0.5"/>
<rect x="244.19" y="540.14" width="4.88" height="57.66" fill="#e2c4a0" stroke="#9c8c80" stroke-width="0.5"/>
<rect x="249.57" y="563.82" width="4.88" height="33.98" fill="#3aa935" stroke="#2a8028" stroke-width="0.5"/>
<line x1="78.49" y1="474.59" x2="78.49" y2="493.07" stroke="#6a6a6a" stroke-width="0.5"/>
<line x1="77.39" y1="474.59" x2="79.59" y2="474.59" stroke="#6a6a6a" stroke-width="0.5"/>
<line x1="77.39" y1="493.07" x2="79.59" y2="493.07" stroke="#6a6a6a" stroke-width="0.5"/>
<line x1="83.87" y1="497.60" x2="83.87" y2="507.80" stroke="#6a6a6a" stroke-width="0.5"/>
<line x1="82.77" y1="497.60" x2="84.97" y2="497.60" stroke="#6a6a6a" stroke-width="0.5"/>
<line x1="82.77" y1="507.80" x2="84.97" y2="507.80" stroke="#6a6a6a" stroke-width="0.5"/>
<line x1="89.25" y1="517.71" x2="89.25" y2="523.68" stroke="#6a6a6a" stroke-width="0.5"/>
<line x1="88.15" y1="517.71" x2="90.35" y2="517.71" stroke="#6a6a6a" stroke-width="0.5"/>
<line x1="88.15" y1="523.68" x2="90.35" y2="523.68" stroke="#6a6a6a" stroke-width="0.5"/>
<line x1="94.63" y1="566.22" x2="94.63" y2="567.38" stroke="#6a6a6a" stroke-width="0.5"/>
<line x1="93.53" y1="566.22" x2="95.73" y2="566.22" stroke="#6a6a6a" stroke-width="0.5"/>
<line x1="93.53" y1="567.38" x2="95.73" y2="567.38" stroke="#6a6a6a" stroke-width="0.5"/>
<line x1="100.01" y1="553.33" x2="100.01" y2="554.87" stroke="#6a6a6a" stroke-width="0.5"/>
<line x1="98.91" y1="553.33" x2="101.11" y2="553.33" stroke="#6a6a6a" stroke-width="0.5"/>
<line x1="98.91" y1="554.87" x2="101.11" y2="554.87" stroke="#6a6a6a" stroke-width="0.5"/>
<line x1="116.49" y1="469.30" x2="116.49" y2="478.54" stroke="#6a6a6a" stroke-width="0.5"/>
<line x1="115.39" y1="469.30" x2="117.59" y2="469.30" stroke="#6a6a6a" stroke-width="0.5"/>
<line x1="115.39" y1="478.54" x2="117.59" y2="478.54" stroke="#6a6a6a" stroke-width="0.5"/>
<line x1="121.87" y1="462.37" x2="121.87" y2="478.35" stroke="#6a6a6a" stroke-width="0.5"/>
<line x1="120.77" y1="462.37" x2="122.97" y2="462.37" stroke="#6a6a6a" stroke-width="0.5"/>
<line x1="120.77" y1="478.35" x2="122.97" y2="478.35" stroke="#6a6a6a" stroke-width="0.5"/>
<line x1="127.25" y1="497.60" x2="127.25" y2="511.46" stroke="#6a6a6a" stroke-width="0.5"/>
<line x1="126.15" y1="497.60" x2="128.35" y2="497.60" stroke="#6a6a6a" stroke-width="0.5"/>
<line x1="126.15" y1="511.46" x2="128.35" y2="511.46" stroke="#6a6a6a" stroke-width="0.5"/>
<line x1="132.63" y1="539.85" x2="132.63" y2="553.13" stroke="#6a6a6a" stroke-width="0.5"/>
<line x1="131.53" y1="539.85" x2="133.73" y2="539.85" stroke="#6a6a6a" stroke-width="0.5"/>
<line x1="131.53" y1="553.13" x2="133.73" y2="553.13" stroke="#6a6a6a" stroke-width="0.5"/>
<line x1="138.01" y1="547.16" x2="138.01" y2="563.34" stroke="#6a6a6a" stroke-width="0.5"/>
<line x1="136.91" y1="547.16" x2="139.11" y2="547.16" stroke="#6a6a6a" stroke-width="0.5"/>
<line x1="136.91" y1="563.34" x2="139.11" y2="563.34" stroke="#6a6a6a" stroke-width="0.5"/>
<line x1="154.49" y1="466.03" x2="154.49" y2="471.61" stroke="#6a6a6a" stroke-width="0.5"/>
<line x1="153.39" y1="466.03" x2="155.59" y2="466.03" stroke="#6a6a6a" stroke-width="0.5"/>
<line x1="153.39" y1="471.61" x2="155.59" y2="471.61" stroke="#6a6a6a" stroke-width="0.5"/>
<line x1="159.87" y1="458.42" x2="159.87" y2="473.63" stroke="#6a6a6a" stroke-width="0.5"/>
<line x1="158.77" y1="458.42" x2="160.97" y2="458.42" stroke="#6a6a6a" stroke-width="0.5"/>
<line x1="158.77" y1="473.63" x2="160.97" y2="473.63" stroke="#6a6a6a" stroke-width="0.5"/>
<line x1="165.25" y1="510.88" x2="165.25" y2="520.12" stroke="#6a6a6a" stroke-width="0.5"/>
<line x1="164.15" y1="510.88" x2="166.35" y2="510.88" stroke="#6a6a6a" stroke-width="0.5"/>
<line x1="164.15" y1="520.12" x2="166.35" y2="520.12" stroke="#6a6a6a" stroke-width="0.5"/>
<line x1="170.63" y1="530.90" x2="170.63" y2="554.96" stroke="#6a6a6a" stroke-width="0.5"/>
<line x1="169.53" y1="530.90" x2="171.73" y2="530.90" stroke="#6a6a6a" stroke-width="0.5"/>
<line x1="169.53" y1="554.96" x2="171.73" y2="554.96" stroke="#6a6a6a" stroke-width="0.5"/>
<line x1="176.01" y1="548.13" x2="176.01" y2="563.34" stroke="#6a6a6a" stroke-width="0.5"/>
<line x1="174.91" y1="548.13" x2="177.11" y2="548.13" stroke="#6a6a6a" stroke-width="0.5"/>
<line x1="174.91" y1="563.34" x2="177.11" y2="563.34" stroke="#6a6a6a" stroke-width="0.5"/>
<line x1="192.49" y1="465.83" x2="192.49" y2="479.89" stroke="#6a6a6a" stroke-width="0.5"/>
<line x1="191.39" y1="465.83" x2="193.59" y2="465.83" stroke="#6a6a6a" stroke-width="0.5"/>
<line x1="191.39" y1="479.89" x2="193.59" y2="479.89" stroke="#6a6a6a" stroke-width="0.5"/>
<line x1="197.87" y1="472.19" x2="197.87" y2="480.27" stroke="#6a6a6a" stroke-width="0.5"/>
<line x1="196.77" y1="472.19" x2="198.97" y2="472.19" stroke="#6a6a6a" stroke-width="0.5"/>
<line x1="196.77" y1="480.27" x2="198.97" y2="480.27" stroke="#6a6a6a" stroke-width="0.5"/>
<line x1="203.25" y1="510.21" x2="203.25" y2="520.41" stroke="#6a6a6a" stroke-width="0.5"/>
<line x1="202.15" y1="510.21" x2="204.35" y2="510.21" stroke="#6a6a6a" stroke-width="0.5"/>
<line x1="202.15" y1="520.41" x2="204.35" y2="520.41" stroke="#6a6a6a" stroke-width="0.5"/>
<line x1="208.63" y1="528.11" x2="208.63" y2="548.51" stroke="#6a6a6a" stroke-width="0.5"/>
<line x1="207.53" y1="528.11" x2="209.73" y2="528.11" stroke="#6a6a6a" stroke-width="0.5"/>
<line x1="207.53" y1="548.51" x2="209.73" y2="548.51" stroke="#6a6a6a" stroke-width="0.5"/>
<line x1="214.01" y1="559.00" x2="214.01" y2="564.78" stroke="#6a6a6a" stroke-width="0.5"/>
<line x1="212.91" y1="559.00" x2="215.11" y2="559.00" stroke="#6a6a6a" stroke-width="0.5"/>
<line x1="212.91" y1="564.78" x2="215.11" y2="564.78" stroke="#6a6a6a" stroke-width="0.5"/>
<line x1="230.49" y1="463.04" x2="230.49" y2="472.28" stroke="#6a6a6a" stroke-width="0.5"/>
<line x1="229.39" y1="463.04" x2="231.59" y2="463.04" stroke="#6a6a6a" stroke-width="0.5"/>
<line x1="229.39" y1="472.28" x2="231.59" y2="472.28" stroke="#6a6a6a" stroke-width="0.5"/>
<line x1="235.87" y1="471.61" x2="235.87" y2="478.73" stroke="#6a6a6a" stroke-width="0.5"/>
<line x1="234.77" y1="471.61" x2="236.97" y2="471.61" stroke="#6a6a6a" stroke-width="0.5"/>
<line x1="234.77" y1="478.73" x2="236.97" y2="478.73" stroke="#6a6a6a" stroke-width="0.5"/>
<line x1="241.25" y1="497.50" x2="241.25" y2="509.05" stroke="#6a6a6a" stroke-width="0.5"/>
<line x1="240.15" y1="497.50" x2="242.35" y2="497.50" stroke="#6a6a6a" stroke-width="0.5"/>
<line x1="240.15" y1="509.05" x2="242.35" y2="509.05" stroke="#6a6a6a" stroke-width="0.5"/>
<line x1="246.63" y1="530.90" x2="246.63" y2="549.38" stroke="#6a6a6a" stroke-width="0.5"/>
<line x1="245.53" y1="530.90" x2="247.73" y2="530.90" stroke="#6a6a6a" stroke-width="0.5"/>
<line x1="245.53" y1="549.38" x2="247.73" y2="549.38" stroke="#6a6a6a" stroke-width="0.5"/>
<line x1="252.01" y1="556.21" x2="252.01" y2="571.42" stroke="#6a6a6a" stroke-width="0.5"/>
<line x1="250.91" y1="556.21" x2="253.11" y2="556.21" stroke="#6a6a6a" stroke-width="0.5"/>
<line x1="250.91" y1="571.42" x2="253.11" y2="571.42" stroke="#6a6a6a" stroke-width="0.5"/>
<rect x="70.50" y="292.50" width="190.00" height="305.00" fill="none" stroke="#8c8c8c" stroke-width="1"/>
<line x1="70.60" y1="598.10" x2="260.40" y2="598.10" stroke="#8c8c8c" stroke-width="1.0"/>
<line x1="70.60" y1="445.20" x2="260.40" y2="445.20" stroke="#8c8c8c" stroke-width="1.4"/>
<line x1="71.10" y1="441.80" x2="73.70" y2="441.80" stroke="#8c8c8c" stroke-width="0.8"/>
<line x1="71.10" y1="427.00" x2="72.70" y2="427.00" stroke="#8c8c8c" stroke-width="0.8"/>
<line x1="71.10" y1="412.20" x2="73.70" y2="412.20" stroke="#8c8c8c" stroke-width="0.8"/>
<line x1="71.10" y1="397.40" x2="72.70" y2="397.40" stroke="#8c8c8c" stroke-width="0.8"/>
<line x1="71.10" y1="382.60" x2="73.70" y2="382.60" stroke="#8c8c8c" stroke-width="0.8"/>
<line x1="71.10" y1="367.80" x2="72.70" y2="367.80" stroke="#8c8c8c" stroke-width="0.8"/>
<line x1="71.10" y1="353.00" x2="73.70" y2="353.00" stroke="#8c8c8c" stroke-width="0.8"/>
<line x1="71.10" y1="338.20" x2="72.70" y2="338.20" stroke="#8c8c8c" stroke-width="0.8"/>
<line x1="71.10" y1="323.40" x2="73.70" y2="323.40" stroke="#8c8c8c" stroke-width="0.8"/>
<line x1="71.10" y1="308.60" x2="72.70" y2="308.60" stroke="#8c8c8c" stroke-width="0.8"/>
<line x1="71.10" y1="293.80" x2="73.70" y2="293.80" stroke="#8c8c8c" stroke-width="0.8"/>
<line x1="71.10" y1="597.30" x2="73.70" y2="597.30" stroke="#8c8c8c" stroke-width="0.8"/>
<line x1="71.10" y1="578.27" x2="72.90" y2="578.27" stroke="#8c8c8c" stroke-width="0.8"/>
<line x1="71.10" y1="559.24" x2="73.70" y2="559.24" stroke="#8c8c8c" stroke-width="0.8"/>
<line x1="71.10" y1="540.21" x2="72.90" y2="540.21" stroke="#8c8c8c" stroke-width="0.8"/>
<line x1="71.10" y1="521.18" x2="73.70" y2="521.18" stroke="#8c8c8c" stroke-width="0.8"/>
<line x1="71.10" y1="502.15" x2="72.90" y2="502.15" stroke="#8c8c8c" stroke-width="0.8"/>
<line x1="71.10" y1="483.12" x2="73.70" y2="483.12" stroke="#8c8c8c" stroke-width="0.8"/>
<line x1="71.10" y1="464.09" x2="72.90" y2="464.09" stroke="#8c8c8c" stroke-width="0.8"/>
<line x1="89.25" y1="444.90" x2="89.25" y2="447.50" stroke="#8c8c8c" stroke-width="0.8"/>
<line x1="89.25" y1="598.00" x2="89.25" y2="600.50" stroke="#8c8c8c" stroke-width="0.8"/>
<line x1="127.25" y1="444.90" x2="127.25" y2="447.50" stroke="#8c8c8c" stroke-width="0.8"/>
<line x1="127.25" y1="598.00" x2="127.25" y2="600.50" stroke="#8c8c8c" stroke-width="0.8"/>
<line x1="165.25" y1="444.90" x2="165.25" y2="447.50" stroke="#8c8c8c" stroke-width="0.8"/>
<line x1="165.25" y1="598.00" x2="165.25" y2="600.50" stroke="#8c8c8c" stroke-width="0.8"/>
<line x1="203.25" y1="444.90" x2="203.25" y2="447.50" stroke="#8c8c8c" stroke-width="0.8"/>
<line x1="203.25" y1="598.00" x2="203.25" y2="600.50" stroke="#8c8c8c" stroke-width="0.8"/>
<line x1="241.25" y1="444.90" x2="241.25" y2="447.50" stroke="#8c8c8c" stroke-width="0.8"/>
<line x1="241.25" y1="598.00" x2="241.25" y2="600.50" stroke="#8c8c8c" stroke-width="0.8"/>
<rect x="70.50" y="292.50" width="13.00" height="15.00" fill="#fff" stroke="#8a8a8a" stroke-width="1"/>
<text x="77.20" y="305.60" font-size="16" fill="#111" text-anchor="middle" stroke="#111" stroke-width="0.7">i</text>
<rect x="70.50" y="445.50" width="13.00" height="15.00" fill="#fff" stroke="#8a8a8a" stroke-width="1"/>
<text x="77.10" y="458.70" font-size="16" fill="#111" text-anchor="middle" stroke="#111" stroke-width="0.7">l</text>
<rect x="288.25" y="434.10" width="4.88" height="10.50" fill="#189ad8" stroke="#1478a8" stroke-width="0.5"/>
<rect x="293.63" y="427.59" width="4.88" height="17.01" fill="#fde700" stroke="#c8b400" stroke-width="0.5"/>
<rect x="299.01" y="416.05" width="4.88" height="28.55" fill="#e2001a" stroke="#a8101a" stroke-width="0.5"/>
<rect x="304.39" y="327.54" width="4.88" height="117.06" fill="#e2c4a0" stroke="#9c8c80" stroke-width="0.5"/>
<rect x="309.77" y="329.02" width="4.88" height="115.58" fill="#3aa935" stroke="#2a8028" stroke-width="0.5"/>
<rect x="326.25" y="433.22" width="4.88" height="11.38" fill="#189ad8" stroke="#1478a8" stroke-width="0.5"/>
<rect x="331.63" y="429.96" width="4.88" height="14.64" fill="#fde700" stroke="#c8b400" stroke-width="0.5"/>
<rect x="337.01" y="426.11" width="4.88" height="18.49" fill="#e2001a" stroke="#a8101a" stroke-width="0.5"/>
<rect x="342.39" y="424.93" width="4.88" height="19.67" fill="#e2c4a0" stroke="#9c8c80" stroke-width="0.5"/>
<rect x="347.77" y="419.30" width="4.88" height="25.30" fill="#3aa935" stroke="#2a8028" stroke-width="0.5"/>
<rect x="364.25" y="425.82" width="4.88" height="18.78" fill="#189ad8" stroke="#1478a8" stroke-width="0.5"/>
<rect x="369.63" y="429.96" width="4.88" height="14.64" fill="#fde700" stroke="#c8b400" stroke-width="0.5"/>
<rect x="375.01" y="428.18" width="4.88" height="16.42" fill="#e2001a" stroke="#a8101a" stroke-width="0.5"/>
<rect x="380.39" y="428.78" width="4.88" height="15.82" fill="#e2c4a0" stroke="#9c8c80" stroke-width="0.5"/>
<rect x="385.77" y="424.93" width="4.88" height="19.67" fill="#3aa935" stroke="#2a8028" stroke-width="0.5"/>
<rect x="402.25" y="427.89" width="4.88" height="16.71" fill="#189ad8" stroke="#1478a8" stroke-width="0.5"/>
<rect x="407.63" y="424.34" width="4.88" height="20.26" fill="#fde700" stroke="#c8b400" stroke-width="0.5"/>
<rect x="413.01" y="428.48" width="4.88" height="16.12" fill="#e2001a" stroke="#a8101a" stroke-width="0.5"/>
<rect x="418.39" y="426.11" width="4.88" height="18.49" fill="#e2c4a0" stroke="#9c8c80" stroke-width="0.5"/>
<rect x="423.77" y="404.21" width="4.88" height="40.39" fill="#3aa935" stroke="#2a8028" stroke-width="0.5"/>
<rect x="440.25" y="428.78" width="4.88" height="15.82" fill="#189ad8" stroke="#1478a8" stroke-width="0.5"/>
<rect x="445.63" y="428.78" width="4.88" height="15.82" fill="#fde700" stroke="#c8b400" stroke-width="0.5"/>
<rect x="451.01" y="416.94" width="4.88" height="27.66" fill="#e2001a" stroke="#a8101a" stroke-width="0.5"/>
<rect x="456.39" y="424.34" width="4.88" height="20.26" fill="#e2c4a0" stroke="#9c8c80" stroke-width="0.5"/>
<rect x="461.77" y="407.46" width="4.88" height="37.14" fill="#3aa935" stroke="#2a8028" stroke-width="0.5"/>
<line x1="290.69" y1="432.33" x2="290.69" y2="435.88" stroke="#6a6a6a" stroke-width="0.5"/>
<line x1="289.59" y1="432.33" x2="291.79" y2="432.33" stroke="#6a6a6a" stroke-width="0.5"/>
<line x1="289.59" y1="435.88" x2="291.79" y2="435.88" stroke="#6a6a6a" stroke-width="0.5"/>
<line x1="296.07" y1="426.11" x2="296.07" y2="429.07" stroke="#6a6a6a" stroke-width="0.5"/>
<line x1="294.97" y1="426.11" x2="297.17" y2="426.11" stroke="#6a6a6a" stroke-width="0.5"/>
<line x1="294.97" y1="429.07" x2="297.17" y2="429.07" stroke="#6a6a6a" stroke-width="0.5"/>
<line x1="301.45" y1="413.98" x2="301.45" y2="418.12" stroke="#6a6a6a" stroke-width="0.5"/>
<line x1="300.35" y1="413.98" x2="302.55" y2="413.98" stroke="#6a6a6a" stroke-width="0.5"/>
<line x1="300.35" y1="418.12" x2="302.55" y2="418.12" stroke="#6a6a6a" stroke-width="0.5"/>
<line x1="306.83" y1="324.29" x2="306.83" y2="330.80" stroke="#6a6a6a" stroke-width="0.5"/>
<line x1="305.73" y1="324.29" x2="307.93" y2="324.29" stroke="#6a6a6a" stroke-width="0.5"/>
<line x1="305.73" y1="330.80" x2="307.93" y2="330.80" stroke="#6a6a6a" stroke-width="0.5"/>
<line x1="312.21" y1="326.36" x2="312.21" y2="331.69" stroke="#6a6a6a" stroke-width="0.5"/>
<line x1="311.11" y1="326.36" x2="313.31" y2="326.36" stroke="#6a6a6a" stroke-width="0.5"/>
<line x1="311.11" y1="331.69" x2="313.31" y2="331.69" stroke="#6a6a6a" stroke-width="0.5"/>
<line x1="328.69" y1="432.03" x2="328.69" y2="434.40" stroke="#6a6a6a" stroke-width="0.5"/>
<line x1="327.59" y1="432.03" x2="329.79" y2="432.03" stroke="#6a6a6a" stroke-width="0.5"/>
<line x1="327.59" y1="434.40" x2="329.79" y2="434.40" stroke="#6a6a6a" stroke-width="0.5"/>
<line x1="339.45" y1="422.26" x2="339.45" y2="429.96" stroke="#6a6a6a" stroke-width="0.5"/>
<line x1="338.35" y1="422.26" x2="340.55" y2="422.26" stroke="#6a6a6a" stroke-width="0.5"/>
<line x1="338.35" y1="429.96" x2="340.55" y2="429.96" stroke="#6a6a6a" stroke-width="0.5"/>
<line x1="344.83" y1="422.26" x2="344.83" y2="427.59" stroke="#6a6a6a" stroke-width="0.5"/>
<line x1="343.73" y1="422.26" x2="345.93" y2="422.26" stroke="#6a6a6a" stroke-width="0.5"/>
<line x1="343.73" y1="427.59" x2="345.93" y2="427.59" stroke="#6a6a6a" stroke-width="0.5"/>
<line x1="350.21" y1="413.68" x2="350.21" y2="424.93" stroke="#6a6a6a" stroke-width="0.5"/>
<line x1="349.11" y1="413.68" x2="351.31" y2="413.68" stroke="#6a6a6a" stroke-width="0.5"/>
<line x1="349.11" y1="424.93" x2="351.31" y2="424.93" stroke="#6a6a6a" stroke-width="0.5"/>
<line x1="366.69" y1="423.45" x2="366.69" y2="428.18" stroke="#6a6a6a" stroke-width="0.5"/>
<line x1="365.59" y1="423.45" x2="367.79" y2="423.45" stroke="#6a6a6a" stroke-width="0.5"/>
<line x1="365.59" y1="428.18" x2="367.79" y2="428.18" stroke="#6a6a6a" stroke-width="0.5"/>
<line x1="372.07" y1="428.48" x2="372.07" y2="431.44" stroke="#6a6a6a" stroke-width="0.5"/>
<line x1="370.97" y1="428.48" x2="373.17" y2="428.48" stroke="#6a6a6a" stroke-width="0.5"/>
<line x1="370.97" y1="431.44" x2="373.17" y2="431.44" stroke="#6a6a6a" stroke-width="0.5"/>
<line x1="377.45" y1="424.34" x2="377.45" y2="432.03" stroke="#6a6a6a" stroke-width="0.5"/>
<line x1="376.35" y1="424.34" x2="378.55" y2="424.34" stroke="#6a6a6a" stroke-width="0.5"/>
<line x1="376.35" y1="432.03" x2="378.55" y2="432.03" stroke="#6a6a6a" stroke-width="0.5"/>
<line x1="382.83" y1="425.82" x2="382.83" y2="431.74" stroke="#6a6a6a" stroke-width="0.5"/>
<line x1="381.73" y1="425.82" x2="383.93" y2="425.82" stroke="#6a6a6a" stroke-width="0.5"/>
<line x1="381.73" y1="431.74" x2="383.93" y2="431.74" stroke="#6a6a6a" stroke-width="0.5"/>
<line x1="388.21" y1="422.26" x2="388.21" y2="427.59" stroke="#6a6a6a" stroke-width="0.5"/>
<line x1="387.11" y1="422.26" x2="389.31" y2="422.26" stroke="#6a6a6a" stroke-width="0.5"/>
<line x1="387.11" y1="427.59" x2="389.31" y2="427.59" stroke="#6a6a6a" stroke-width="0.5"/>
<line x1="404.69" y1="425.52" x2="404.69" y2="430.26" stroke="#6a6a6a" stroke-width="0.5"/>
<line x1="403.59" y1="425.52" x2="405.79" y2="425.52" stroke="#6a6a6a" stroke-width="0.5"/>
<line x1="403.59" y1="430.26" x2="405.79" y2="430.26" stroke="#6a6a6a" stroke-width="0.5"/>
<line x1="410.07" y1="421.08" x2="410.07" y2="427.59" stroke="#6a6a6a" stroke-width="0.5"/>
<line x1="408.97" y1="421.08" x2="411.17" y2="421.08" stroke="#6a6a6a" stroke-width="0.5"/>
<line x1="408.97" y1="427.59" x2="411.17" y2="427.59" stroke="#6a6a6a" stroke-width="0.5"/>
<line x1="415.45" y1="424.93" x2="415.45" y2="432.03" stroke="#6a6a6a" stroke-width="0.5"/>
<line x1="414.35" y1="424.93" x2="416.55" y2="424.93" stroke="#6a6a6a" stroke-width="0.5"/>
<line x1="414.35" y1="432.03" x2="416.55" y2="432.03" stroke="#6a6a6a" stroke-width="0.5"/>
<line x1="420.83" y1="424.63" x2="420.83" y2="427.59" stroke="#6a6a6a" stroke-width="0.5"/>
<line x1="419.73" y1="424.63" x2="421.93" y2="424.63" stroke="#6a6a6a" stroke-width="0.5"/>
<line x1="419.73" y1="427.59" x2="421.93" y2="427.59" stroke="#6a6a6a" stroke-width="0.5"/>
<line x1="426.21" y1="378.16" x2="426.21" y2="430.26" stroke="#6a6a6a" stroke-width="0.5"/>
<line x1="425.11" y1="378.16" x2="427.31" y2="378.16" stroke="#6a6a6a" stroke-width="0.5"/>
<line x1="425.11" y1="430.26" x2="427.31" y2="430.26" stroke="#6a6a6a" stroke-width="0.5"/>
<line x1="442.69" y1="427.89" x2="442.69" y2="429.66" stroke="#6a6a6a" stroke-width="0.5"/>
<line x1="441.59" y1="427.89" x2="443.79" y2="427.89" stroke="#6a6a6a" stroke-width="0.5"/>
<line x1="441.59" y1="429.66" x2="443.79" y2="429.66" stroke="#6a6a6a" stroke-width="0.5"/>
<line x1="453.45" y1="416.05" x2="453.45" y2="417.82" stroke="#6a6a6a" stroke-width="0.5"/>
<line x1="452.35" y1="416.05" x2="454.55" y2="416.05" stroke="#6a6a6a" stroke-width="0.5"/>
<line x1="452.35" y1="417.82" x2="454.55" y2="417.82" stroke="#6a6a6a" stroke-width="0.5"/>
<line x1="458.83" y1="419.90" x2="458.83" y2="428.78" stroke="#6a6a6a" stroke-width="0.5"/>
<line x1="457.73" y1="419.90" x2="459.93" y2="419.90" stroke="#6a6a6a" stroke-width="0.5"/>
<line x1="457.73" y1="428.78" x2="459.93" y2="428.78" stroke="#6a6a6a" stroke-width="0.5"/>
<line x1="464.21" y1="395.03" x2="464.21" y2="419.90" stroke="#6a6a6a" stroke-width="0.5"/>
<line x1="463.11" y1="395.03" x2="465.31" y2="395.03" stroke="#6a6a6a" stroke-width="0.5"/>
<line x1="463.11" y1="419.90" x2="465.31" y2="419.90" stroke="#6a6a6a" stroke-width="0.5"/>
<rect x="288.25" y="473.82" width="4.88" height="123.98" fill="#189ad8" stroke="#1478a8" stroke-width="0.5"/>
<rect x="293.63" y="507.80" width="4.88" height="90.00" fill="#fde700" stroke="#c8b400" stroke-width="0.5"/>
<rect x="299.01" y="532.63" width="4.88" height="65.17" fill="#e2001a" stroke="#a8101a" stroke-width="0.5"/>
<rect x="304.39" y="556.79" width="4.88" height="41.01" fill="#e2c4a0" stroke="#9c8c80" stroke-width="0.5"/>
<rect x="309.77" y="554.96" width="4.88" height="42.84" fill="#3aa935" stroke="#2a8028" stroke-width="0.5"/>
<rect x="326.25" y="459.00" width="4.88" height="138.80" fill="#189ad8" stroke="#1478a8" stroke-width="0.5"/>
<rect x="331.63" y="469.97" width="4.88" height="127.83" fill="#fde700" stroke="#c8b400" stroke-width="0.5"/>
<rect x="337.01" y="521.18" width="4.88" height="76.62" fill="#e2001a" stroke="#a8101a" stroke-width="0.5"/>
<rect x="342.39" y="550.44" width="4.88" height="47.36" fill="#e2c4a0" stroke="#9c8c80" stroke-width="0.5"/>
<rect x="347.77" y="560.06" width="4.88" height="37.74" fill="#3aa935" stroke="#2a8028" stroke-width="0.5"/>
<rect x="364.25" y="464.87" width="4.88" height="132.93" fill="#189ad8" stroke="#1478a8" stroke-width="0.5"/>
<rect x="369.63" y="474.98" width="4.88" height="122.82" fill="#fde700" stroke="#c8b400" stroke-width="0.5"/>
<rect x="375.01" y="518.68" width="4.88" height="79.12" fill="#e2001a" stroke="#a8101a" stroke-width="0.5"/>
<rect x="380.39" y="543.60" width="4.88" height="54.20" fill="#e2c4a0" stroke="#9c8c80" stroke-width="0.5"/>
<rect x="385.77" y="558.81" width="4.88" height="38.99" fill="#3aa935" stroke="#2a8028" stroke-width="0.5"/>
<rect x="402.25" y="469.97" width="4.88" height="127.83" fill="#189ad8" stroke="#1478a8" stroke-width="0.5"/>
<rect x="407.63" y="482.39" width="4.88" height="115.41" fill="#fde700" stroke="#c8b400" stroke-width="0.5"/>
<rect x="413.01" y="513.57" width="4.88" height="84.23" fill="#e2001a" stroke="#a8101a" stroke-width="0.5"/>
<rect x="418.39" y="544.57" width="4.88" height="53.23" fill="#e2c4a0" stroke="#9c8c80" stroke-width="0.5"/>
<rect x="423.77" y="561.12" width="4.88" height="36.68" fill="#3aa935" stroke="#2a8028" stroke-width="0.5"/>
<rect x="440.25" y="462.85" width="4.88" height="134.95" fill="#189ad8" stroke="#1478a8" stroke-width="0.5"/>
<rect x="445.63" y="469.97" width="4.88" height="127.83" fill="#fde700" stroke="#c8b400" stroke-width="0.5"/>
<rect x="451.01" y="512.90" width="4.88" height="84.90" fill="#e2001a" stroke="#a8101a" stroke-width="0.5"/>
<rect x="456.39" y="540.33" width="4.88" height="57.47" fill="#e2c4a0" stroke="#9c8c80" stroke-width="0.5"/>
<rect x="461.77" y="561.89" width="4.88" height="35.91" fill="#3aa935" stroke="#2a8028" stroke-width="0.5"/>
<line x1="290.69" y1="471.71" x2="290.69" y2="475.94" stroke="#6a6a6a" stroke-width="0.5"/>
<line x1="289.59" y1="471.71" x2="291.79" y2="471.71" stroke="#6a6a6a" stroke-width="0.5"/>
<line x1="289.59" y1="475.94" x2="291.79" y2="475.94" stroke="#6a6a6a" stroke-width="0.5"/>
<line x1="296.07" y1="503.47" x2="296.07" y2="512.13" stroke="#6a6a6a" stroke-width="0.5"/>
<line x1="294.97" y1="503.47" x2="297.17" y2="503.47" stroke="#6a6a6a" stroke-width="0.5"/>
<line x1="294.97" y1="512.13" x2="297.17" y2="512.13" stroke="#6a6a6a" stroke-width="0.5"/>
<line x1="301.45" y1="527.14" x2="301.45" y2="538.12" stroke="#6a6a6a" stroke-width="0.5"/>
<line x1="300.35" y1="527.14" x2="302.55" y2="527.14" stroke="#6a6a6a" stroke-width="0.5"/>
<line x1="300.35" y1="538.12" x2="302.55" y2="538.12" stroke="#6a6a6a" stroke-width="0.5"/>
<line x1="306.83" y1="556.02" x2="306.83" y2="557.56" stroke="#6a6a6a" stroke-width="0.5"/>
<line x1="305.73" y1="556.02" x2="307.93" y2="556.02" stroke="#6a6a6a" stroke-width="0.5"/>
<line x1="305.73" y1="557.56" x2="307.93" y2="557.56" stroke="#6a6a6a" stroke-width="0.5"/>
<line x1="312.21" y1="554.10" x2="312.21" y2="555.83" stroke="#6a6a6a" stroke-width="0.5"/>
<line x1="311.11" y1="554.10" x2="313.31" y2="554.10" stroke="#6a6a6a" stroke-width="0.5"/>
<line x1="311.11" y1="555.83" x2="313.31" y2="555.83" stroke="#6a6a6a" stroke-width="0.5"/>
<line x1="328.69" y1="449.57" x2="328.69" y2="468.43" stroke="#6a6a6a" stroke-width="0.5"/>
<line x1="327.59" y1="449.57" x2="329.79" y2="449.57" stroke="#6a6a6a" stroke-width="0.5"/>
<line x1="327.59" y1="468.43" x2="329.79" y2="468.43" stroke="#6a6a6a" stroke-width="0.5"/>
<line x1="334.07" y1="457.27" x2="334.07" y2="482.68" stroke="#6a6a6a" stroke-width="0.5"/>
<line x1="332.97" y1="457.27" x2="335.17" y2="457.27" stroke="#6a6a6a" stroke-width="0.5"/>
<line x1="332.97" y1="482.68" x2="335.17" y2="482.68" stroke="#6a6a6a" stroke-width="0.5"/>
<line x1="339.45" y1="513.57" x2="339.45" y2="528.78" stroke="#6a6a6a" stroke-width="0.5"/>
<line x1="338.35" y1="513.57" x2="340.55" y2="513.57" stroke="#6a6a6a" stroke-width="0.5"/>
<line x1="338.35" y1="528.78" x2="340.55" y2="528.78" stroke="#6a6a6a" stroke-width="0.5"/>
<line x1="344.83" y1="546.59" x2="344.83" y2="554.29" stroke="#6a6a6a" stroke-width="0.5"/>
<line x1="343.73" y1="546.59" x2="345.93" y2="546.59" stroke="#6a6a6a" stroke-width="0.5"/>
<line x1="343.73" y1="554.29" x2="345.93" y2="554.29" stroke="#6a6a6a" stroke-width="0.5"/>
<line x1="350.21" y1="555.54" x2="350.21" y2="564.59" stroke="#6a6a6a" stroke-width="0.5"/>
<line x1="349.11" y1="555.54" x2="351.31" y2="555.54" stroke="#6a6a6a" stroke-width="0.5"/>
<line x1="349.11" y1="564.59" x2="351.31" y2="564.59" stroke="#6a6a6a" stroke-width="0.5"/>
<line x1="366.69" y1="453.23" x2="366.69" y2="476.52" stroke="#6a6a6a" stroke-width="0.5"/>
<line x1="365.59" y1="453.23" x2="367.79" y2="453.23" stroke="#6a6a6a" stroke-width="0.5"/>
<line x1="365.59" y1="476.52" x2="367.79" y2="476.52" stroke="#6a6a6a" stroke-width="0.5"/>
<line x1="372.07" y1="467.86" x2="372.07" y2="482.10" stroke="#6a6a6a" stroke-width="0.5"/>
<line x1="370.97" y1="467.86" x2="373.17" y2="467.86" stroke="#6a6a6a" stroke-width="0.5"/>
<line x1="370.97" y1="482.10" x2="373.17" y2="482.10" stroke="#6a6a6a" stroke-width="0.5"/>
<line x1="377.45" y1="514.06" x2="377.45" y2="523.30" stroke="#6a6a6a" stroke-width="0.5"/>
<line x1="376.35" y1="514.06" x2="378.55" y2="514.06" stroke="#6a6a6a" stroke-width="0.5"/>
<line x1="376.35" y1="523.30" x2="378.55" y2="523.30" stroke="#6a6a6a" stroke-width="0.5"/>
<line x1="382.83" y1="537.73" x2="382.83" y2="549.47" stroke="#6a6a6a" stroke-width="0.5"/>
<line x1="381.73" y1="537.73" x2="383.93" y2="537.73" stroke="#6a6a6a" stroke-width="0.5"/>
<line x1="381.73" y1="549.47" x2="383.93" y2="549.47" stroke="#6a6a6a" stroke-width="0.5"/>
<line x1="388.21" y1="555.54" x2="388.21" y2="562.08" stroke="#6a6a6a" stroke-width="0.5"/>
<line x1="387.11" y1="555.54" x2="389.31" y2="555.54" stroke="#6a6a6a" stroke-width="0.5"/>
<line x1="387.11" y1="562.08" x2="389.31" y2="562.08" stroke="#6a6a6a" stroke-width="0.5"/>
<line x1="404.69" y1="467.86" x2="404.69" y2="472.09" stroke="#6a6a6a" stroke-width="0.5"/>
<line x1="403.59" y1="467.86" x2="405.79" y2="467.86" stroke="#6a6a6a" stroke-width="0.5"/>
<line x1="403.59" y1="472.09" x2="405.79" y2="472.09" stroke="#6a6a6a" stroke-width="0.5"/>
<line x1="410.07" y1="477.58" x2="410.07" y2="487.20" stroke="#6a6a6a" stroke-width="0.5"/>
<line x1="408.97" y1="477.58" x2="411.17" y2="477.58" stroke="#6a6a6a" stroke-width="0.5"/>
<line x1="408.97" y1="487.20" x2="411.17" y2="487.20" stroke="#6a6a6a" stroke-width="0.5"/>
<line x1="415.45" y1="502.99" x2="415.45" y2="524.16" stroke="#6a6a6a" stroke-width="0.5"/>
<line x1="414.35" y1="502.99" x2="416.55" y2="502.99" stroke="#6a6a6a" stroke-width="0.5"/>
<line x1="414.35" y1="524.16" x2="416.55" y2="524.16" stroke="#6a6a6a" stroke-width="0.5"/>
<line x1="420.83" y1="535.23" x2="420.83" y2="553.90" stroke="#6a6a6a" stroke-width="0.5"/>
<line x1="419.73" y1="535.23" x2="421.93" y2="535.23" stroke="#6a6a6a" stroke-width="0.5"/>
<line x1="419.73" y1="553.90" x2="421.93" y2="553.90" stroke="#6a6a6a" stroke-width="0.5"/>
<line x1="426.21" y1="555.54" x2="426.21" y2="566.70" stroke="#6a6a6a" stroke-width="0.5"/>
<line x1="425.11" y1="555.54" x2="427.31" y2="555.54" stroke="#6a6a6a" stroke-width="0.5"/>
<line x1="425.11" y1="566.70" x2="427.31" y2="566.70" stroke="#6a6a6a" stroke-width="0.5"/>
<line x1="442.69" y1="457.27" x2="442.69" y2="468.43" stroke="#6a6a6a" stroke-width="0.5"/>
<line x1="441.59" y1="457.27" x2="443.79" y2="457.27" stroke="#6a6a6a" stroke-width="0.5"/>
<line x1="441.59" y1="468.43" x2="443.79" y2="468.43" stroke="#6a6a6a" stroke-width="0.5"/>
<line x1="448.07" y1="465.45" x2="448.07" y2="474.50" stroke="#6a6a6a" stroke-width="0.5"/>
<line x1="446.97" y1="465.45" x2="449.17" y2="465.45" stroke="#6a6a6a" stroke-width="0.5"/>
<line x1="446.97" y1="474.50" x2="449.17" y2="474.50" stroke="#6a6a6a" stroke-width="0.5"/>
<line x1="453.45" y1="503.47" x2="453.45" y2="522.33" stroke="#6a6a6a" stroke-width="0.5"/>
<line x1="452.35" y1="503.47" x2="454.55" y2="503.47" stroke="#6a6a6a" stroke-width="0.5"/>
<line x1="452.35" y1="522.33" x2="454.55" y2="522.33" stroke="#6a6a6a" stroke-width="0.5"/>
<line x1="458.83" y1="534.36" x2="458.83" y2="546.30" stroke="#6a6a6a" stroke-width="0.5"/>
<line x1="457.73" y1="534.36" x2="459.93" y2="534.36" stroke="#6a6a6a" stroke-width="0.5"/>
<line x1="457.73" y1="546.30" x2="459.93" y2="546.30" stroke="#6a6a6a" stroke-width="0.5"/>
<line x1="464.21" y1="557.27" x2="464.21" y2="566.51" stroke="#6a6a6a" stroke-width="0.5"/>
<line x1="463.11" y1="557.27" x2="465.31" y2="557.27" stroke="#6a6a6a" stroke-width="0.5"/>
<line x1="463.11" y1="566.51" x2="465.31" y2="566.51" stroke="#6a6a6a" stroke-width="0.5"/>
<rect x="282.50" y="292.50" width="190.00" height="305.00" fill="none" stroke="#8c8c8c" stroke-width="1"/>
<line x1="282.80" y1="598.10" x2="472.60" y2="598.10" stroke="#8c8c8c" stroke-width="1.0"/>
<line x1="282.80" y1="445.20" x2="472.60" y2="445.20" stroke="#8c8c8c" stroke-width="1.4"/>
<line x1="283.30" y1="441.80" x2="285.90" y2="441.80" stroke="#8c8c8c" stroke-width="0.8"/>
<line x1="283.30" y1="427.00" x2="284.90" y2="427.00" stroke="#8c8c8c" stroke-width="0.8"/>
<line x1="283.30" y1="412.20" x2="285.90" y2="412.20" stroke="#8c8c8c" stroke-width="0.8"/>
<line x1="283.30" y1="397.40" x2="284.90" y2="397.40" stroke="#8c8c8c" stroke-width="0.8"/>
<line x1="283.30" y1="382.60" x2="285.90" y2="382.60" stroke="#8c8c8c" stroke-width="0.8"/>
<line x1="283.30" y1="367.80" x2="284.90" y2="367.80" stroke="#8c8c8c" stroke-width="0.8"/>
<line x1="283.30" y1="353.00" x2="285.90" y2="353.00" stroke="#8c8c8c" stroke-width="0.8"/>
<line x1="283.30" y1="338.20" x2="284.90" y2="338.20" stroke="#8c8c8c" stroke-width="0.8"/>
<line x1="283.30" y1="323.40" x2="285.90" y2="323.40" stroke="#8c8c8c" stroke-width="0.8"/>
<line x1="283.30" y1="308.60" x2="284.90" y2="308.60" stroke="#8c8c8c" stroke-width="0.8"/>
<line x1="283.30" y1="293.80" x2="285.90" y2="293.80" stroke="#8c8c8c" stroke-width="0.8"/>
<line x1="283.30" y1="597.30" x2="285.90" y2="597.30" stroke="#8c8c8c" stroke-width="0.8"/>
<line x1="283.30" y1="578.27" x2="285.10" y2="578.27" stroke="#8c8c8c" stroke-width="0.8"/>
<line x1="283.30" y1="559.24" x2="285.90" y2="559.24" stroke="#8c8c8c" stroke-width="0.8"/>
<line x1="283.30" y1="540.21" x2="285.10" y2="540.21" stroke="#8c8c8c" stroke-width="0.8"/>
<line x1="283.30" y1="521.18" x2="285.90" y2="521.18" stroke="#8c8c8c" stroke-width="0.8"/>
<line x1="283.30" y1="502.15" x2="285.10" y2="502.15" stroke="#8c8c8c" stroke-width="0.8"/>
<line x1="283.30" y1="483.12" x2="285.90" y2="483.12" stroke="#8c8c8c" stroke-width="0.8"/>
<line x1="283.30" y1="464.09" x2="285.10" y2="464.09" stroke="#8c8c8c" stroke-width="0.8"/>
<line x1="301.45" y1="444.90" x2="301.45" y2="447.50" stroke="#8c8c8c" stroke-width="0.8"/>
<line x1="301.45" y1="598.00" x2="301.45" y2="600.50" stroke="#8c8c8c" stroke-width="0.8"/>
<line x1="339.45" y1="444.90" x2="339.45" y2="447.50" stroke="#8c8c8c" stroke-width="0.8"/>
<line x1="339.45" y1="598.00" x2="339.45" y2="600.50" stroke="#8c8c8c" stroke-width="0.8"/>
<line x1="377.45" y1="444.90" x2="377.45" y2="447.50" stroke="#8c8c8c" stroke-width="0.8"/>
<line x1="377.45" y1="598.00" x2="377.45" y2="600.50" stroke="#8c8c8c" stroke-width="0.8"/>
<line x1="415.45" y1="444.90" x2="415.45" y2="447.50" stroke="#8c8c8c" stroke-width="0.8"/>
<line x1="415.45" y1="598.00" x2="415.45" y2="600.50" stroke="#8c8c8c" stroke-width="0.8"/>
<line x1="453.45" y1="444.90" x2="453.45" y2="447.50" stroke="#8c8c8c" stroke-width="0.8"/>
<line x1="453.45" y1="598.00" x2="453.45" y2="600.50" stroke="#8c8c8c" stroke-width="0.8"/>
<rect x="282.50" y="292.50" width="14.00" height="18.00" fill="#fff" stroke="#8a8a8a" stroke-width="1"/>
<text x="289.50" y="305.60" font-size="16" fill="#111" text-anchor="middle" stroke="#111" stroke-width="0.7">j</text>
<rect x="282.50" y="445.50" width="17.00" height="15.00" fill="#fff" stroke="#8a8a8a" stroke-width="1"/>
<text x="291.30" y="458.70" font-size="16" fill="#111" text-anchor="middle" stroke="#111" stroke-width="0.7">m</text>
<rect x="500.55" y="428.18" width="4.88" height="16.42" fill="#189ad8" stroke="#1478a8" stroke-width="0.5"/>
<rect x="505.93" y="426.41" width="4.88" height="18.19" fill="#fde700" stroke="#c8b400" stroke-width="0.5"/>
<rect x="511.31" y="414.86" width="4.88" height="29.74" fill="#e2001a" stroke="#a8101a" stroke-width="0.5"/>
<rect x="516.69" y="372.24" width="4.88" height="72.36" fill="#e2c4a0" stroke="#9c8c80" stroke-width="0.5"/>
<rect x="522.07" y="325.18" width="4.88" height="119.42" fill="#3aa935" stroke="#2a8028" stroke-width="0.5"/>
<rect x="538.55" y="435.58" width="4.88" height="9.02" fill="#189ad8" stroke="#1478a8" stroke-width="0.5"/>
<rect x="543.93" y="426.41" width="4.88" height="18.19" fill="#fde700" stroke="#c8b400" stroke-width="0.5"/>
<rect x="549.31" y="422.26" width="4.88" height="22.34" fill="#e2001a" stroke="#a8101a" stroke-width="0.5"/>
<rect x="554.69" y="427.30" width="4.88" height="17.30" fill="#e2c4a0" stroke="#9c8c80" stroke-width="0.5"/>
<rect x="560.07" y="374.90" width="4.88" height="69.70" fill="#3aa935" stroke="#2a8028" stroke-width="0.5"/>
<rect x="576.55" y="424.63" width="4.88" height="19.97" fill="#189ad8" stroke="#1478a8" stroke-width="0.5"/>
<rect x="581.93" y="428.48" width="4.88" height="16.12" fill="#fde700" stroke="#c8b400" stroke-width="0.5"/>
<rect x="587.31" y="425.82" width="4.88" height="18.78" fill="#e2001a" stroke="#a8101a" stroke-width="0.5"/>
<rect x="592.69" y="428.78" width="4.88" height="15.82" fill="#e2c4a0" stroke="#9c8c80" stroke-width="0.5"/>
<rect x="598.07" y="427.00" width="4.88" height="17.60" fill="#3aa935" stroke="#2a8028" stroke-width="0.5"/>
<rect x="614.55" y="426.41" width="4.88" height="18.19" fill="#189ad8" stroke="#1478a8" stroke-width="0.5"/>
<rect x="619.93" y="421.08" width="4.88" height="23.52" fill="#fde700" stroke="#c8b400" stroke-width="0.5"/>
<rect x="625.31" y="423.15" width="4.88" height="21.45" fill="#e2001a" stroke="#a8101a" stroke-width="0.5"/>
<rect x="630.69" y="427.00" width="4.88" height="17.60" fill="#e2c4a0" stroke="#9c8c80" stroke-width="0.5"/>
<rect x="636.07" y="393.26" width="4.88" height="51.34" fill="#3aa935" stroke="#2a8028" stroke-width="0.5"/>
<rect x="652.55" y="426.41" width="4.88" height="18.19" fill="#189ad8" stroke="#1478a8" stroke-width="0.5"/>
<rect x="657.93" y="427.00" width="4.88" height="17.60" fill="#fde700" stroke="#c8b400" stroke-width="0.5"/>
<rect x="663.31" y="419.01" width="4.88" height="25.59" fill="#e2001a" stroke="#a8101a" stroke-width="0.5"/>
<rect x="668.69" y="429.07" width="4.88" height="15.53" fill="#e2c4a0" stroke="#9c8c80" stroke-width="0.5"/>
<rect x="674.07" y="417.53" width="4.88" height="27.07" fill="#3aa935" stroke="#2a8028" stroke-width="0.5"/>
<line x1="502.99" y1="425.52" x2="502.99" y2="430.85" stroke="#6a6a6a" stroke-width="0.5"/>
<line x1="501.89" y1="425.52" x2="504.09" y2="425.52" stroke="#6a6a6a" stroke-width="0.5"/>
<line x1="501.89" y1="430.85" x2="504.09" y2="430.85" stroke="#6a6a6a" stroke-width="0.5"/>
<line x1="508.37" y1="422.26" x2="508.37" y2="430.55" stroke="#6a6a6a" stroke-width="0.5"/>
<line x1="507.27" y1="422.26" x2="509.47" y2="422.26" stroke="#6a6a6a" stroke-width="0.5"/>
<line x1="507.27" y1="430.55" x2="509.47" y2="430.55" stroke="#6a6a6a" stroke-width="0.5"/>
<line x1="513.75" y1="413.98" x2="513.75" y2="415.75" stroke="#6a6a6a" stroke-width="0.5"/>
<line x1="512.65" y1="413.98" x2="514.85" y2="413.98" stroke="#6a6a6a" stroke-width="0.5"/>
<line x1="512.65" y1="415.75" x2="514.85" y2="415.75" stroke="#6a6a6a" stroke-width="0.5"/>
<line x1="519.13" y1="354.78" x2="519.13" y2="389.70" stroke="#6a6a6a" stroke-width="0.5"/>
<line x1="518.03" y1="354.78" x2="520.23" y2="354.78" stroke="#6a6a6a" stroke-width="0.5"/>
<line x1="518.03" y1="389.70" x2="520.23" y2="389.70" stroke="#6a6a6a" stroke-width="0.5"/>
<line x1="524.51" y1="320.14" x2="524.51" y2="330.21" stroke="#6a6a6a" stroke-width="0.5"/>
<line x1="523.41" y1="320.14" x2="525.61" y2="320.14" stroke="#6a6a6a" stroke-width="0.5"/>
<line x1="523.41" y1="330.21" x2="525.61" y2="330.21" stroke="#6a6a6a" stroke-width="0.5"/>
<line x1="540.99" y1="433.51" x2="540.99" y2="437.66" stroke="#6a6a6a" stroke-width="0.5"/>
<line x1="539.89" y1="433.51" x2="542.09" y2="433.51" stroke="#6a6a6a" stroke-width="0.5"/>
<line x1="539.89" y1="437.66" x2="542.09" y2="437.66" stroke="#6a6a6a" stroke-width="0.5"/>
<line x1="546.37" y1="419.30" x2="546.37" y2="433.51" stroke="#6a6a6a" stroke-width="0.5"/>
<line x1="545.27" y1="419.30" x2="547.47" y2="419.30" stroke="#6a6a6a" stroke-width="0.5"/>
<line x1="545.27" y1="433.51" x2="547.47" y2="433.51" stroke="#6a6a6a" stroke-width="0.5"/>
<line x1="551.75" y1="421.38" x2="551.75" y2="423.15" stroke="#6a6a6a" stroke-width="0.5"/>
<line x1="550.65" y1="421.38" x2="552.85" y2="421.38" stroke="#6a6a6a" stroke-width="0.5"/>
<line x1="550.65" y1="423.15" x2="552.85" y2="423.15" stroke="#6a6a6a" stroke-width="0.5"/>
<line x1="557.13" y1="425.52" x2="557.13" y2="429.07" stroke="#6a6a6a" stroke-width="0.5"/>
<line x1="556.03" y1="425.52" x2="558.23" y2="425.52" stroke="#6a6a6a" stroke-width="0.5"/>
<line x1="556.03" y1="429.07" x2="558.23" y2="429.07" stroke="#6a6a6a" stroke-width="0.5"/>
<line x1="562.51" y1="339.38" x2="562.51" y2="410.42" stroke="#6a6a6a" stroke-width="0.5"/>
<line x1="561.41" y1="339.38" x2="563.61" y2="339.38" stroke="#6a6a6a" stroke-width="0.5"/>
<line x1="561.41" y1="410.42" x2="563.61" y2="410.42" stroke="#6a6a6a" stroke-width="0.5"/>
<line x1="578.99" y1="422.26" x2="578.99" y2="427.00" stroke="#6a6a6a" stroke-width="0.5"/>
<line x1="577.89" y1="422.26" x2="580.09" y2="422.26" stroke="#6a6a6a" stroke-width="0.5"/>
<line x1="577.89" y1="427.00" x2="580.09" y2="427.00" stroke="#6a6a6a" stroke-width="0.5"/>
<line x1="584.37" y1="427.89" x2="584.37" y2="429.07" stroke="#6a6a6a" stroke-width="0.5"/>
<line x1="583.27" y1="427.89" x2="585.47" y2="427.89" stroke="#6a6a6a" stroke-width="0.5"/>
<line x1="583.27" y1="429.07" x2="585.47" y2="429.07" stroke="#6a6a6a" stroke-width="0.5"/>
<line x1="589.75" y1="421.08" x2="589.75" y2="430.55" stroke="#6a6a6a" stroke-width="0.5"/>
<line x1="588.65" y1="421.08" x2="590.85" y2="421.08" stroke="#6a6a6a" stroke-width="0.5"/>
<line x1="588.65" y1="430.55" x2="590.85" y2="430.55" stroke="#6a6a6a" stroke-width="0.5"/>
<line x1="595.13" y1="425.52" x2="595.13" y2="432.03" stroke="#6a6a6a" stroke-width="0.5"/>
<line x1="594.03" y1="425.52" x2="596.23" y2="425.52" stroke="#6a6a6a" stroke-width="0.5"/>
<line x1="594.03" y1="432.03" x2="596.23" y2="432.03" stroke="#6a6a6a" stroke-width="0.5"/>
<line x1="600.51" y1="424.04" x2="600.51" y2="429.96" stroke="#6a6a6a" stroke-width="0.5"/>
<line x1="599.41" y1="424.04" x2="601.61" y2="424.04" stroke="#6a6a6a" stroke-width="0.5"/>
<line x1="599.41" y1="429.96" x2="601.61" y2="429.96" stroke="#6a6a6a" stroke-width="0.5"/>
<line x1="616.99" y1="424.34" x2="616.99" y2="428.48" stroke="#6a6a6a" stroke-width="0.5"/>
<line x1="615.89" y1="424.34" x2="618.09" y2="424.34" stroke="#6a6a6a" stroke-width="0.5"/>
<line x1="615.89" y1="428.48" x2="618.09" y2="428.48" stroke="#6a6a6a" stroke-width="0.5"/>
<line x1="622.37" y1="418.71" x2="622.37" y2="423.45" stroke="#6a6a6a" stroke-width="0.5"/>
<line x1="621.27" y1="418.71" x2="623.47" y2="418.71" stroke="#6a6a6a" stroke-width="0.5"/>
<line x1="621.27" y1="423.45" x2="623.47" y2="423.45" stroke="#6a6a6a" stroke-width="0.5"/>
<line x1="627.75" y1="420.78" x2="627.75" y2="425.52" stroke="#6a6a6a" stroke-width="0.5"/>
<line x1="626.65" y1="420.78" x2="628.85" y2="420.78" stroke="#6a6a6a" stroke-width="0.5"/>
<line x1="626.65" y1="425.52" x2="628.85" y2="425.52" stroke="#6a6a6a" stroke-width="0.5"/>
<line x1="638.51" y1="361.88" x2="638.51" y2="424.63" stroke="#6a6a6a" stroke-width="0.5"/>
<line x1="637.41" y1="361.88" x2="639.61" y2="361.88" stroke="#6a6a6a" stroke-width="0.5"/>
<line x1="637.41" y1="424.63" x2="639.61" y2="424.63" stroke="#6a6a6a" stroke-width="0.5"/>
<line x1="654.99" y1="425.82" x2="654.99" y2="427.00" stroke="#6a6a6a" stroke-width="0.5"/>
<line x1="653.89" y1="425.82" x2="656.09" y2="425.82" stroke="#6a6a6a" stroke-width="0.5"/>
<line x1="653.89" y1="427.00" x2="656.09" y2="427.00" stroke="#6a6a6a" stroke-width="0.5"/>
<line x1="665.75" y1="416.34" x2="665.75" y2="421.67" stroke="#6a6a6a" stroke-width="0.5"/>
<line x1="664.65" y1="416.34" x2="666.85" y2="416.34" stroke="#6a6a6a" stroke-width="0.5"/>
<line x1="664.65" y1="421.67" x2="666.85" y2="421.67" stroke="#6a6a6a" stroke-width="0.5"/>
<line x1="671.13" y1="426.70" x2="671.13" y2="431.44" stroke="#6a6a6a" stroke-width="0.5"/>
<line x1="670.03" y1="426.70" x2="672.23" y2="426.70" stroke="#6a6a6a" stroke-width="0.5"/>
<line x1="670.03" y1="431.44" x2="672.23" y2="431.44" stroke="#6a6a6a" stroke-width="0.5"/>
<line x1="676.51" y1="411.02" x2="676.51" y2="424.04" stroke="#6a6a6a" stroke-width="0.5"/>
<line x1="675.41" y1="411.02" x2="677.61" y2="411.02" stroke="#6a6a6a" stroke-width="0.5"/>
<line x1="675.41" y1="424.04" x2="677.61" y2="424.04" stroke="#6a6a6a" stroke-width="0.5"/>
<rect x="500.55" y="475.46" width="4.88" height="122.34" fill="#189ad8" stroke="#1478a8" stroke-width="0.5"/>
<rect x="505.93" y="513.09" width="4.88" height="84.71" fill="#fde700" stroke="#c8b400" stroke-width="0.5"/>
<rect x="511.31" y="537.73" width="4.88" height="60.07" fill="#e2001a" stroke="#a8101a" stroke-width="0.5"/>
<rect x="516.69" y="557.46" width="4.88" height="40.34" fill="#e2c4a0" stroke="#9c8c80" stroke-width="0.5"/>
<rect x="522.07" y="556.02" width="4.88" height="41.78" fill="#3aa935" stroke="#2a8028" stroke-width="0.5"/>
<rect x="538.55" y="473.53" width="4.88" height="124.27" fill="#189ad8" stroke="#1478a8" stroke-width="0.5"/>
<rect x="543.93" y="480.56" width="4.88" height="117.24" fill="#fde700" stroke="#c8b400" stroke-width="0.5"/>
<rect x="549.31" y="511.65" width="4.88" height="86.15" fill="#e2001a" stroke="#a8101a" stroke-width="0.5"/>
<rect x="554.69" y="553.52" width="4.88" height="44.28" fill="#e2c4a0" stroke="#9c8c80" stroke-width="0.5"/>
<rect x="560.07" y="556.21" width="4.88" height="41.59" fill="#3aa935" stroke="#2a8028" stroke-width="0.5"/>
<rect x="576.55" y="473.53" width="4.88" height="124.27" fill="#189ad8" stroke="#1478a8" stroke-width="0.5"/>
<rect x="581.93" y="482.39" width="4.88" height="115.41" fill="#fde700" stroke="#c8b400" stroke-width="0.5"/>
<rect x="587.31" y="515.69" width="4.88" height="82.11" fill="#e2001a" stroke="#a8101a" stroke-width="0.5"/>
<rect x="592.69" y="539.56" width="4.88" height="58.24" fill="#e2c4a0" stroke="#9c8c80" stroke-width="0.5"/>
<rect x="598.07" y="555.06" width="4.88" height="42.74" fill="#3aa935" stroke="#2a8028" stroke-width="0.5"/>
<rect x="614.55" y="466.70" width="4.88" height="131.10" fill="#189ad8" stroke="#1478a8" stroke-width="0.5"/>
<rect x="619.93" y="476.33" width="4.88" height="121.47" fill="#fde700" stroke="#c8b400" stroke-width="0.5"/>
<rect x="625.31" y="521.27" width="4.88" height="76.53" fill="#e2001a" stroke="#a8101a" stroke-width="0.5"/>
<rect x="630.69" y="548.71" width="4.88" height="49.09" fill="#e2c4a0" stroke="#9c8c80" stroke-width="0.5"/>
<rect x="636.07" y="559.87" width="4.88" height="37.93" fill="#3aa935" stroke="#2a8028" stroke-width="0.5"/>
<rect x="652.55" y="470.55" width="4.88" height="127.25" fill="#189ad8" stroke="#1478a8" stroke-width="0.5"/>
<rect x="657.93" y="476.33" width="4.88" height="121.47" fill="#fde700" stroke="#c8b400" stroke-width="0.5"/>
<rect x="663.31" y="520.02" width="4.88" height="77.78" fill="#e2001a" stroke="#a8101a" stroke-width="0.5"/>
<rect x="668.69" y="547.16" width="4.88" height="50.63" fill="#e2c4a0" stroke="#9c8c80" stroke-width="0.5"/>
<rect x="674.07" y="564.49" width="4.88" height="33.31" fill="#3aa935" stroke="#2a8028" stroke-width="0.5"/>
<line x1="502.99" y1="472.96" x2="502.99" y2="477.96" stroke="#6a6a6a" stroke-width="0.5"/>
<line x1="501.89" y1="472.96" x2="504.09" y2="472.96" stroke="#6a6a6a" stroke-width="0.5"/>
<line x1="501.89" y1="477.96" x2="504.09" y2="477.96" stroke="#6a6a6a" stroke-width="0.5"/>
<line x1="508.37" y1="504.72" x2="508.37" y2="521.47" stroke="#6a6a6a" stroke-width="0.5"/>
<line x1="507.27" y1="504.72" x2="509.47" y2="504.72" stroke="#6a6a6a" stroke-width="0.5"/>
<line x1="507.27" y1="521.47" x2="509.47" y2="521.47" stroke="#6a6a6a" stroke-width="0.5"/>
<line x1="513.75" y1="533.88" x2="513.75" y2="541.58" stroke="#6a6a6a" stroke-width="0.5"/>
<line x1="512.65" y1="533.88" x2="514.85" y2="533.88" stroke="#6a6a6a" stroke-width="0.5"/>
<line x1="512.65" y1="541.58" x2="514.85" y2="541.58" stroke="#6a6a6a" stroke-width="0.5"/>
<line x1="519.13" y1="554.19" x2="519.13" y2="560.74" stroke="#6a6a6a" stroke-width="0.5"/>
<line x1="518.03" y1="554.19" x2="520.23" y2="554.19" stroke="#6a6a6a" stroke-width="0.5"/>
<line x1="518.03" y1="560.74" x2="520.23" y2="560.74" stroke="#6a6a6a" stroke-width="0.5"/>
<line x1="524.51" y1="555.25" x2="524.51" y2="556.79" stroke="#6a6a6a" stroke-width="0.5"/>
<line x1="523.41" y1="555.25" x2="525.61" y2="555.25" stroke="#6a6a6a" stroke-width="0.5"/>
<line x1="523.41" y1="556.79" x2="525.61" y2="556.79" stroke="#6a6a6a" stroke-width="0.5"/>
<line x1="540.99" y1="464.58" x2="540.99" y2="482.48" stroke="#6a6a6a" stroke-width="0.5"/>
<line x1="539.89" y1="464.58" x2="542.09" y2="464.58" stroke="#6a6a6a" stroke-width="0.5"/>
<line x1="539.89" y1="482.48" x2="542.09" y2="482.48" stroke="#6a6a6a" stroke-width="0.5"/>
<line x1="546.37" y1="478.83" x2="546.37" y2="482.29" stroke="#6a6a6a" stroke-width="0.5"/>
<line x1="545.27" y1="478.83" x2="547.47" y2="478.83" stroke="#6a6a6a" stroke-width="0.5"/>
<line x1="545.27" y1="482.29" x2="547.47" y2="482.29" stroke="#6a6a6a" stroke-width="0.5"/>
<line x1="551.75" y1="507.32" x2="551.75" y2="515.98" stroke="#6a6a6a" stroke-width="0.5"/>
<line x1="550.65" y1="507.32" x2="552.85" y2="507.32" stroke="#6a6a6a" stroke-width="0.5"/>
<line x1="550.65" y1="515.98" x2="552.85" y2="515.98" stroke="#6a6a6a" stroke-width="0.5"/>
<line x1="557.13" y1="549.09" x2="557.13" y2="557.95" stroke="#6a6a6a" stroke-width="0.5"/>
<line x1="556.03" y1="549.09" x2="558.23" y2="549.09" stroke="#6a6a6a" stroke-width="0.5"/>
<line x1="556.03" y1="557.95" x2="558.23" y2="557.95" stroke="#6a6a6a" stroke-width="0.5"/>
<line x1="562.51" y1="551.69" x2="562.51" y2="560.74" stroke="#6a6a6a" stroke-width="0.5"/>
<line x1="561.41" y1="551.69" x2="563.61" y2="551.69" stroke="#6a6a6a" stroke-width="0.5"/>
<line x1="561.41" y1="560.74" x2="563.61" y2="560.74" stroke="#6a6a6a" stroke-width="0.5"/>
<line x1="578.99" y1="470.55" x2="578.99" y2="476.52" stroke="#6a6a6a" stroke-width="0.5"/>
<line x1="577.89" y1="470.55" x2="580.09" y2="470.55" stroke="#6a6a6a" stroke-width="0.5"/>
<line x1="577.89" y1="476.52" x2="580.09" y2="476.52" stroke="#6a6a6a" stroke-width="0.5"/>
<line x1="584.37" y1="479.89" x2="584.37" y2="484.89" stroke="#6a6a6a" stroke-width="0.5"/>
<line x1="583.27" y1="479.89" x2="585.47" y2="479.89" stroke="#6a6a6a" stroke-width="0.5"/>
<line x1="583.27" y1="484.89" x2="585.47" y2="484.89" stroke="#6a6a6a" stroke-width="0.5"/>
<line x1="589.75" y1="509.92" x2="589.75" y2="521.47" stroke="#6a6a6a" stroke-width="0.5"/>
<line x1="588.65" y1="509.92" x2="590.85" y2="509.92" stroke="#6a6a6a" stroke-width="0.5"/>
<line x1="588.65" y1="521.47" x2="590.85" y2="521.47" stroke="#6a6a6a" stroke-width="0.5"/>
<line x1="595.13" y1="531.48" x2="595.13" y2="547.65" stroke="#6a6a6a" stroke-width="0.5"/>
<line x1="594.03" y1="531.48" x2="596.23" y2="531.48" stroke="#6a6a6a" stroke-width="0.5"/>
<line x1="594.03" y1="547.65" x2="596.23" y2="547.65" stroke="#6a6a6a" stroke-width="0.5"/>
<line x1="600.51" y1="549.19" x2="600.51" y2="560.93" stroke="#6a6a6a" stroke-width="0.5"/>
<line x1="599.41" y1="549.19" x2="601.61" y2="549.19" stroke="#6a6a6a" stroke-width="0.5"/>
<line x1="599.41" y1="560.93" x2="601.61" y2="560.93" stroke="#6a6a6a" stroke-width="0.5"/>
<line x1="616.99" y1="464.58" x2="616.99" y2="468.82" stroke="#6a6a6a" stroke-width="0.5"/>
<line x1="615.89" y1="464.58" x2="618.09" y2="464.58" stroke="#6a6a6a" stroke-width="0.5"/>
<line x1="615.89" y1="468.82" x2="618.09" y2="468.82" stroke="#6a6a6a" stroke-width="0.5"/>
<line x1="622.37" y1="475.56" x2="622.37" y2="477.10" stroke="#6a6a6a" stroke-width="0.5"/>
<line x1="621.27" y1="475.56" x2="623.47" y2="475.56" stroke="#6a6a6a" stroke-width="0.5"/>
<line x1="621.27" y1="477.10" x2="623.47" y2="477.10" stroke="#6a6a6a" stroke-width="0.5"/>
<line x1="627.75" y1="519.54" x2="627.75" y2="523.01" stroke="#6a6a6a" stroke-width="0.5"/>
<line x1="626.65" y1="519.54" x2="628.85" y2="519.54" stroke="#6a6a6a" stroke-width="0.5"/>
<line x1="626.65" y1="523.01" x2="628.85" y2="523.01" stroke="#6a6a6a" stroke-width="0.5"/>
<line x1="633.13" y1="544.66" x2="633.13" y2="552.75" stroke="#6a6a6a" stroke-width="0.5"/>
<line x1="632.03" y1="544.66" x2="634.23" y2="544.66" stroke="#6a6a6a" stroke-width="0.5"/>
<line x1="632.03" y1="552.75" x2="634.23" y2="552.75" stroke="#6a6a6a" stroke-width="0.5"/>
<line x1="638.51" y1="556.40" x2="638.51" y2="563.34" stroke="#6a6a6a" stroke-width="0.5"/>
<line x1="637.41" y1="556.40" x2="639.61" y2="556.40" stroke="#6a6a6a" stroke-width="0.5"/>
<line x1="637.41" y1="563.34" x2="639.61" y2="563.34" stroke="#6a6a6a" stroke-width="0.5"/>
<line x1="654.99" y1="468.05" x2="654.99" y2="473.05" stroke="#6a6a6a" stroke-width="0.5"/>
<line x1="653.89" y1="468.05" x2="656.09" y2="468.05" stroke="#6a6a6a" stroke-width="0.5"/>
<line x1="653.89" y1="473.05" x2="656.09" y2="473.05" stroke="#6a6a6a" stroke-width="0.5"/>
<line x1="660.37" y1="472.96" x2="660.37" y2="479.69" stroke="#6a6a6a" stroke-width="0.5"/>
<line x1="659.27" y1="472.96" x2="661.47" y2="472.96" stroke="#6a6a6a" stroke-width="0.5"/>
<line x1="659.27" y1="479.69" x2="661.47" y2="479.69" stroke="#6a6a6a" stroke-width="0.5"/>
<line x1="665.75" y1="513.67" x2="665.75" y2="526.38" stroke="#6a6a6a" stroke-width="0.5"/>
<line x1="664.65" y1="513.67" x2="666.85" y2="513.67" stroke="#6a6a6a" stroke-width="0.5"/>
<line x1="664.65" y1="526.38" x2="666.85" y2="526.38" stroke="#6a6a6a" stroke-width="0.5"/>
<line x1="671.13" y1="542.06" x2="671.13" y2="552.27" stroke="#6a6a6a" stroke-width="0.5"/>
<line x1="670.03" y1="542.06" x2="672.23" y2="542.06" stroke="#6a6a6a" stroke-width="0.5"/>
<line x1="670.03" y1="552.27" x2="672.23" y2="552.27" stroke="#6a6a6a" stroke-width="0.5"/>
<line x1="676.51" y1="557.37" x2="676.51" y2="571.61" stroke="#6a6a6a" stroke-width="0.5"/>
<line x1="675.41" y1="557.37" x2="677.61" y2="557.37" stroke="#6a6a6a" stroke-width="0.5"/>
<line x1="675.41" y1="571.61" x2="677.61" y2="571.61" stroke="#6a6a6a" stroke-width="0.5"/>
<rect x="495.50" y="292.50" width="189.00" height="305.00" fill="none" stroke="#8c8c8c" stroke-width="1"/>
<line x1="495.10" y1="598.10" x2="684.90" y2="598.10" stroke="#8c8c8c" stroke-width="1.0"/>
<line x1="495.10" y1="445.20" x2="684.90" y2="445.20" stroke="#8c8c8c" stroke-width="1.4"/>
<line x1="495.60" y1="441.80" x2="498.20" y2="441.80" stroke="#8c8c8c" stroke-width="0.8"/>
<line x1="495.60" y1="427.00" x2="497.20" y2="427.00" stroke="#8c8c8c" stroke-width="0.8"/>
<line x1="495.60" y1="412.20" x2="498.20" y2="412.20" stroke="#8c8c8c" stroke-width="0.8"/>
<line x1="495.60" y1="397.40" x2="497.20" y2="397.40" stroke="#8c8c8c" stroke-width="0.8"/>
<line x1="495.60" y1="382.60" x2="498.20" y2="382.60" stroke="#8c8c8c" stroke-width="0.8"/>
<line x1="495.60" y1="367.80" x2="497.20" y2="367.80" stroke="#8c8c8c" stroke-width="0.8"/>
<line x1="495.60" y1="353.00" x2="498.20" y2="353.00" stroke="#8c8c8c" stroke-width="0.8"/>
<line x1="495.60" y1="338.20" x2="497.20" y2="338.20" stroke="#8c8c8c" stroke-width="0.8"/>
<line x1="495.60" y1="323.40" x2="498.20" y2="323.40" stroke="#8c8c8c" stroke-width="0.8"/>
<line x1="495.60" y1="308.60" x2="497.20" y2="308.60" stroke="#8c8c8c" stroke-width="0.8"/>
<line x1="495.60" y1="293.80" x2="498.20" y2="293.80" stroke="#8c8c8c" stroke-width="0.8"/>
<line x1="495.60" y1="597.30" x2="498.20" y2="597.30" stroke="#8c8c8c" stroke-width="0.8"/>
<line x1="495.60" y1="578.27" x2="497.40" y2="578.27" stroke="#8c8c8c" stroke-width="0.8"/>
<line x1="495.60" y1="559.24" x2="498.20" y2="559.24" stroke="#8c8c8c" stroke-width="0.8"/>
<line x1="495.60" y1="540.21" x2="497.40" y2="540.21" stroke="#8c8c8c" stroke-width="0.8"/>
<line x1="495.60" y1="521.18" x2="498.20" y2="521.18" stroke="#8c8c8c" stroke-width="0.8"/>
<line x1="495.60" y1="502.15" x2="497.40" y2="502.15" stroke="#8c8c8c" stroke-width="0.8"/>
<line x1="495.60" y1="483.12" x2="498.20" y2="483.12" stroke="#8c8c8c" stroke-width="0.8"/>
<line x1="495.60" y1="464.09" x2="497.40" y2="464.09" stroke="#8c8c8c" stroke-width="0.8"/>
<line x1="513.75" y1="444.90" x2="513.75" y2="447.50" stroke="#8c8c8c" stroke-width="0.8"/>
<line x1="513.75" y1="598.00" x2="513.75" y2="600.50" stroke="#8c8c8c" stroke-width="0.8"/>
<line x1="551.75" y1="444.90" x2="551.75" y2="447.50" stroke="#8c8c8c" stroke-width="0.8"/>
<line x1="551.75" y1="598.00" x2="551.75" y2="600.50" stroke="#8c8c8c" stroke-width="0.8"/>
<line x1="589.75" y1="444.90" x2="589.75" y2="447.50" stroke="#8c8c8c" stroke-width="0.8"/>
<line x1="589.75" y1="598.00" x2="589.75" y2="600.50" stroke="#8c8c8c" stroke-width="0.8"/>
<line x1="627.75" y1="444.90" x2="627.75" y2="447.50" stroke="#8c8c8c" stroke-width="0.8"/>
<line x1="627.75" y1="598.00" x2="627.75" y2="600.50" stroke="#8c8c8c" stroke-width="0.8"/>
<line x1="665.75" y1="444.90" x2="665.75" y2="447.50" stroke="#8c8c8c" stroke-width="0.8"/>
<line x1="665.75" y1="598.00" x2="665.75" y2="600.50" stroke="#8c8c8c" stroke-width="0.8"/>
<rect x="495.50" y="292.50" width="13.00" height="15.00" fill="#fff" stroke="#8a8a8a" stroke-width="1"/>
<text x="501.70" y="305.60" font-size="16" fill="#111" text-anchor="middle" stroke="#111" stroke-width="0.7">k</text>
<rect x="495.50" y="445.50" width="17.00" height="15.00" fill="#fff" stroke="#8a8a8a" stroke-width="1"/>
<text x="503.70" y="458.70" font-size="16" fill="#111" text-anchor="middle" stroke="#111" stroke-width="0.7">n</text>
<rect x="191.20" y="298.90" width="11.00" height="4.20" fill="#189ad8" stroke="none" stroke-width="0.5"/>
<text x="207.20" y="304.70" font-size="12" fill="#1a1a1a" textLength="37.3" lengthAdjust="spacingAndGlyphs" stroke="#1a1a1a" stroke-width="0.22">5 mg/L</text>
<rect x="191.20" y="312.30" width="11.00" height="4.20" fill="#fde700" stroke="none" stroke-width="0.5"/>
<text x="207.20" y="318.10" font-size="12" fill="#1a1a1a" textLength="44.0" lengthAdjust="spacingAndGlyphs" stroke="#1a1a1a" stroke-width="0.22">10 mg/L</text>
<rect x="191.20" y="325.70" width="11.00" height="4.20" fill="#e2001a" stroke="none" stroke-width="0.5"/>
<text x="207.20" y="331.50" font-size="12" fill="#1a1a1a" textLength="44.0" lengthAdjust="spacingAndGlyphs" stroke="#1a1a1a" stroke-width="0.22">20 mg/L</text>
<rect x="191.20" y="339.30" width="11.00" height="4.20" fill="#e2c4a0" stroke="#9c8c80" stroke-width="0.5"/>
<text x="207.20" y="345.10" font-size="12" fill="#1a1a1a" textLength="44.0" lengthAdjust="spacingAndGlyphs" stroke="#1a1a1a" stroke-width="0.22">40 mg/L</text>
<rect x="191.20" y="352.70" width="11.00" height="4.20" fill="#3aa935" stroke="none" stroke-width="0.5"/>
<text x="207.20" y="358.50" font-size="12" fill="#1a1a1a" textLength="44.0" lengthAdjust="spacingAndGlyphs" stroke="#1a1a1a" stroke-width="0.22">80 mg/L</text>
<rect x="401.20" y="298.90" width="11.00" height="4.20" fill="#189ad8" stroke="none" stroke-width="0.5"/>
<text x="417.20" y="304.70" font-size="12" fill="#1a1a1a" textLength="37.3" lengthAdjust="spacingAndGlyphs" stroke="#1a1a1a" stroke-width="0.22">5 mg/L</text>
<rect x="401.20" y="312.30" width="11.00" height="4.20" fill="#fde700" stroke="none" stroke-width="0.5"/>
<text x="417.20" y="318.10" font-size="12" fill="#1a1a1a" textLength="44.0" lengthAdjust="spacingAndGlyphs" stroke="#1a1a1a" stroke-width="0.22">10 mg/L</text>
<rect x="401.20" y="325.70" width="11.00" height="4.20" fill="#e2001a" stroke="none" stroke-width="0.5"/>
<text x="417.20" y="331.50" font-size="12" fill="#1a1a1a" textLength="44.0" lengthAdjust="spacingAndGlyphs" stroke="#1a1a1a" stroke-width="0.22">20 mg/L</text>
<rect x="401.20" y="339.30" width="11.00" height="4.20" fill="#e2c4a0" stroke="#9c8c80" stroke-width="0.5"/>
<text x="417.20" y="345.10" font-size="12" fill="#1a1a1a" textLength="44.0" lengthAdjust="spacingAndGlyphs" stroke="#1a1a1a" stroke-width="0.22">40 mg/L</text>
<rect x="401.20" y="352.70" width="11.00" height="4.20" fill="#3aa935" stroke="none" stroke-width="0.5"/>
<text x="417.20" y="358.50" font-size="12" fill="#1a1a1a" textLength="44.0" lengthAdjust="spacingAndGlyphs" stroke="#1a1a1a" stroke-width="0.22">80 mg/L</text>
<rect x="617.10" y="298.90" width="11.00" height="4.20" fill="#189ad8" stroke="none" stroke-width="0.5"/>
<text x="633.20" y="304.70" font-size="12" fill="#1a1a1a" textLength="37.3" lengthAdjust="spacingAndGlyphs" stroke="#1a1a1a" stroke-width="0.22">5 mg/L</text>
<rect x="617.10" y="312.30" width="11.00" height="4.20" fill="#fde700" stroke="none" stroke-width="0.5"/>
<text x="633.20" y="318.10" font-size="12" fill="#1a1a1a" textLength="44.0" lengthAdjust="spacingAndGlyphs" stroke="#1a1a1a" stroke-width="0.22">10 mg/L</text>
<rect x="617.10" y="325.70" width="11.00" height="4.20" fill="#e2001a" stroke="none" stroke-width="0.5"/>
<text x="633.20" y="331.50" font-size="12" fill="#1a1a1a" textLength="44.0" lengthAdjust="spacingAndGlyphs" stroke="#1a1a1a" stroke-width="0.22">20 mg/L</text>
<rect x="617.10" y="339.30" width="11.00" height="4.20" fill="#e2c4a0" stroke="#9c8c80" stroke-width="0.5"/>
<text x="633.20" y="345.10" font-size="12" fill="#1a1a1a" textLength="44.0" lengthAdjust="spacingAndGlyphs" stroke="#1a1a1a" stroke-width="0.22">40 mg/L</text>
<rect x="617.10" y="352.70" width="11.00" height="4.20" fill="#3aa935" stroke="none" stroke-width="0.5"/>
<text x="633.20" y="358.50" font-size="12" fill="#1a1a1a" textLength="44.0" lengthAdjust="spacingAndGlyphs" stroke="#1a1a1a" stroke-width="0.22">80 mg/L</text>
<text x="113.70" y="288.40" font-size="12.5" fill="#1a1a1a" textLength="86.5" lengthAdjust="spacingAndGlyphs" stroke="#1a1a1a" stroke-width="0.22">Ultrapure water</text>
<text x="330.40" y="288.50" font-size="12.5" fill="#1a1a1a" textLength="85.2" lengthAdjust="spacingAndGlyphs" stroke="#1a1a1a" stroke-width="0.22">EPA-VS solution</text>
<text x="529.50" y="288.50" font-size="12.5" fill="#1a1a1a" textLength="105.3" lengthAdjust="spacingAndGlyphs" style="white-space:pre" stroke="#1a1a1a" stroke-width="0.22">Freshwater +  NOM</text>
<text x="67.40" y="297.00" font-size="12" fill="#1a1a1a" stroke="#1a1a1a" stroke-width="0.22" text-anchor="end">5x10<tspan font-size="8.5" dy="-5">9</tspan></text>
<text x="67.40" y="326.80" font-size="12" fill="#1a1a1a" stroke="#1a1a1a" stroke-width="0.22" text-anchor="end">4x10<tspan font-size="8.5" dy="-5">9</tspan></text>
<text x="67.40" y="356.40" font-size="12" fill="#1a1a1a" stroke="#1a1a1a" stroke-width="0.22" text-anchor="end">3x10<tspan font-size="8.5" dy="-5">9</tspan></text>
<text x="67.40" y="386.00" font-size="12" fill="#1a1a1a" stroke="#1a1a1a" stroke-width="0.22" text-anchor="end">2x10<tspan font-size="8.5" dy="-5">9</tspan></text>
<text x="67.40" y="415.60" font-size="12" fill="#1a1a1a" stroke="#1a1a1a" stroke-width="0.22" text-anchor="end">1x10<tspan font-size="8.5" dy="-5">9</tspan></text>
<text x="67.80" y="446.00" font-size="12" fill="#1a1a1a" text-anchor="end" stroke="#1a1a1a" stroke-width="0.22">0</text>
<text x="67.80" y="468.40" font-size="12" fill="#1a1a1a" text-anchor="end" stroke="#1a1a1a" stroke-width="0.22">140</text>
<text x="67.80" y="486.60" font-size="12" fill="#1a1a1a" text-anchor="end" stroke="#1a1a1a" stroke-width="0.22">120</text>
<text x="67.80" y="524.60" font-size="12" fill="#1a1a1a" text-anchor="end" stroke="#1a1a1a" stroke-width="0.22">80</text>
<text x="67.80" y="562.70" font-size="12" fill="#1a1a1a" text-anchor="end" stroke="#1a1a1a" stroke-width="0.22">40</text>
<text x="67.80" y="600.60" font-size="12" fill="#1a1a1a" text-anchor="end" stroke="#1a1a1a" stroke-width="0.22">0</text>
<text x="14.00" y="367.20" font-size="12" fill="#1a1a1a" textLength="124.0" lengthAdjust="spacingAndGlyphs" text-anchor="middle" transform="rotate(-90 14.00 367.20)" stroke="#1a1a1a" stroke-width="0.22">Particles concentration,</text>
<text x="26.40" y="365.30" font-size="12" fill="#1a1a1a" textLength="67.2" lengthAdjust="spacingAndGlyphs" text-anchor="middle" transform="rotate(-90 26.40 365.30)" stroke="#1a1a1a" stroke-width="0.22">particles/mL</text>
<text x="31.40" y="519.10" font-size="12" fill="#1a1a1a" textLength="92.6" lengthAdjust="spacingAndGlyphs" text-anchor="middle" transform="rotate(-90 31.40 519.10)" stroke="#1a1a1a" stroke-width="0.22">Particles size, nm</text>
<text x="89.25" y="611.00" font-size="12" fill="#1a1a1a" text-anchor="middle" stroke="#1a1a1a" stroke-width="0.22">0</text>
<text x="127.25" y="611.00" font-size="12" fill="#1a1a1a" text-anchor="middle" stroke="#1a1a1a" stroke-width="0.22">1</text>
<text x="165.25" y="611.00" font-size="12" fill="#1a1a1a" text-anchor="middle" stroke="#1a1a1a" stroke-width="0.22">2</text>
<text x="203.25" y="611.00" font-size="12" fill="#1a1a1a" text-anchor="middle" stroke="#1a1a1a" stroke-width="0.22">3</text>
<text x="241.25" y="611.00" font-size="12" fill="#1a1a1a" text-anchor="middle" stroke="#1a1a1a" stroke-width="0.22">4</text>
<text x="301.45" y="611.00" font-size="12" fill="#1a1a1a" text-anchor="middle" stroke="#1a1a1a" stroke-width="0.22">0</text>
<text x="339.45" y="611.00" font-size="12" fill="#1a1a1a" text-anchor="middle" stroke="#1a1a1a" stroke-width="0.22">1</text>
<text x="377.45" y="611.00" font-size="12" fill="#1a1a1a" text-anchor="middle" stroke="#1a1a1a" stroke-width="0.22">2</text>
<text x="415.45" y="611.00" font-size="12" fill="#1a1a1a" text-anchor="middle" stroke="#1a1a1a" stroke-width="0.22">3</text>
<text x="453.45" y="611.00" font-size="12" fill="#1a1a1a" text-anchor="middle" stroke="#1a1a1a" stroke-width="0.22">4</text>
<text x="513.75" y="611.00" font-size="12" fill="#1a1a1a" text-anchor="middle" stroke="#1a1a1a" stroke-width="0.22">0</text>
<text x="551.75" y="611.00" font-size="12" fill="#1a1a1a" text-anchor="middle" stroke="#1a1a1a" stroke-width="0.22">1</text>
<text x="589.75" y="611.00" font-size="12" fill="#1a1a1a" text-anchor="middle" stroke="#1a1a1a" stroke-width="0.22">2</text>
<text x="627.75" y="611.00" font-size="12" fill="#1a1a1a" text-anchor="middle" stroke="#1a1a1a" stroke-width="0.22">3</text>
<text x="665.75" y="611.00" font-size="12" fill="#1a1a1a" text-anchor="middle" stroke="#1a1a1a" stroke-width="0.22">4</text>
<text x="104.50" y="625.70" font-size="12" fill="#1a1a1a" textLength="108.2" lengthAdjust="spacingAndGlyphs" stroke="#1a1a1a" stroke-width="0.22">Exposure time, days</text>
<text x="320.30" y="625.70" font-size="12" fill="#1a1a1a" textLength="108.6" lengthAdjust="spacingAndGlyphs" stroke="#1a1a1a" stroke-width="0.22">Exposure time, days</text>
<text x="530.30" y="625.70" font-size="12" fill="#1a1a1a" textLength="108.0" lengthAdjust="spacingAndGlyphs" stroke="#1a1a1a" stroke-width="0.22">Exposure time, days</text>
</svg>
</body></html>
